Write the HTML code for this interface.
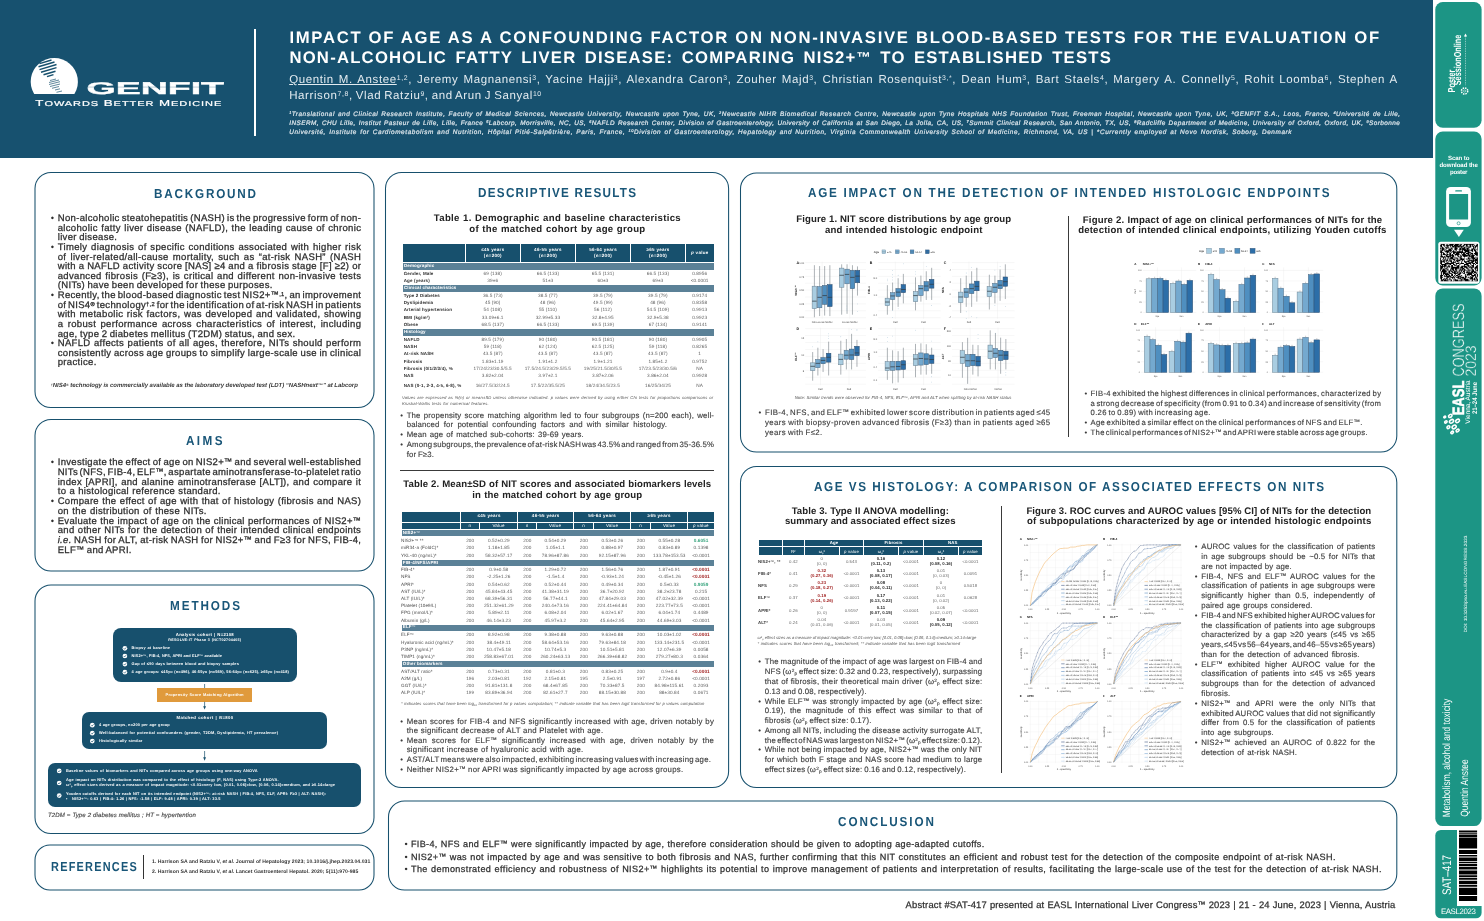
<!DOCTYPE html>
<html lang="en">
<head>
<meta charset="utf-8">
<title>Impact of age as a confounding factor on non-invasive blood-based tests for the evaluation of NAFLD</title>
<style>
html,body{margin:0;padding:0;background:#fff}
body{width:1484px;height:921px;position:relative;overflow:hidden;font-family:"Liberation Sans",sans-serif;color:#333;-webkit-font-smoothing:antialiased;text-rendering:geometricPrecision}
div{box-sizing:content-box}
sup,sub{font-size:60%;line-height:0;position:relative;vertical-align:baseline}
sup{top:-0.42em}
sub{top:0.22em}
.tm{font-size:85%;line-height:0;position:relative;top:-0.08em}
svg{overflow:visible}
svg text{font-family:"Liberation Sans",sans-serif}
</style>
</head>
<body>
<!-- part_header -->
<div style="position:absolute;left:0;top:0;width:1433px;height:157.5px;background:#17516f"></div>
<svg style="position:absolute;left:20px;top:45px" width="220" height="70" viewBox="20 45 220 70">
<path d="M34.22 94 A23.6 23.6 0 1 1 74.38 94Z" fill="#fff"/>
<g stroke="#17506d" stroke-width="1.5" stroke-linecap="butt">
<line x1="39.5" y1="63.6" x2="51.5" y2="60.0"/>
<line x1="38.5" y1="66.8" x2="54.5" y2="62.0"/>
<line x1="39.5" y1="69.6" x2="56.5" y2="64.5"/>
<line x1="41.0" y1="72.3" x2="56.5" y2="67.6"/>
<line x1="43.5" y1="74.8" x2="55.5" y2="71.2"/>
<line x1="47.0" y1="76.6" x2="53.5" y2="74.6"/>
</g>
<g stroke="#17506d" stroke-width="0.8" opacity="0.85">
<line x1="50" y1="80.5" x2="56" y2="79"/>
<line x1="49" y1="82.5" x2="59" y2="80"/>
<line x1="49" y1="84.5" x2="60" y2="81.7"/>
<line x1="50" y1="86.5" x2="60" y2="84"/>
<line x1="52" y1="88.3" x2="59" y2="86.5"/>
<line x1="55" y1="90" x2="60" y2="88.8"/>
<line x1="56.5" y1="92.3" x2="62" y2="91"/>
</g>
<text x="86.5" y="94.1" font-family="'Liberation Sans',sans-serif" font-weight="bold" font-size="17" fill="#fff" stroke="#fff" stroke-width="0.35" textLength="137.5" lengthAdjust="spacingAndGlyphs">GENFIT</text>
<rect x="88" y="86.7" width="134" height="0.7" fill="#17506d" opacity="0.4"/>
<text x="35.3" y="105.6" font-family="'Liberation Sans',sans-serif" font-size="8.6" fill="#fff" stroke="#fff" stroke-width="0.2" textLength="187" lengthAdjust="spacingAndGlyphs" letter-spacing="0.6">T<tspan font-size="7.1">OWARDS</tspan> B<tspan font-size="7.1">ETTER</tspan> M<tspan font-size="7.1">EDICINE</tspan></text>
</svg>
<div style="position:absolute;left:254.3px;top:28.5px;width:1.5px;height:107px;background:#fff"></div>
<div style="position:absolute;white-space:nowrap;left:289.40px;top:28.00px;font-size:16.7px;line-height:20.04px;font-weight:bold;color:#fff;letter-spacing:1.691px">IMPACT OF AGE AS A CONFOUNDING FACTOR ON NON-INVASIVE BLOOD-BASED TESTS FOR THE EVALUATION OF</div>
<div style="position:absolute;white-space:nowrap;left:289.40px;top:48.00px;font-size:16.7px;line-height:20.04px;font-weight:bold;color:#fff;letter-spacing:1.224px;word-spacing:2.448px">NON-ALCOHOLIC FATTY LIVER DISEASE: COMPARING NIS2+<span class="tm">™</span> TO ESTABLISHED TESTS</div>
<div style="position:absolute;white-space:nowrap;left:289.20px;top:74.00px;font-size:11.5px;line-height:13.8px;color:#e3ebf0;letter-spacing:0.604px;word-spacing:1.328px"><u>Quentin M. Anstee</u><sup>1,2</sup>, Jeremy Magnanensi<sup>3</sup>, Yacine Hajji<sup>3</sup>, Alexandra Caron<sup>3</sup>, Zouher Majd<sup>3</sup>, Christian Rosenquist<sup>3,*</sup>, Dean Hum<sup>3</sup>, Bart Staels<sup>4</sup>, Margery A. Connelly<sup>5</sup>, Rohit Loomba<sup>6</sup>, Stephen A</div>
<div style="position:absolute;white-space:nowrap;left:289.20px;top:90.00px;font-size:11.5px;line-height:13.8px;color:#e3ebf0;letter-spacing:0.604px;word-spacing:-0.776px">Harrison<sup>7,8</sup>, Vlad Ratziu<sup>9</sup>, and Arun J Sanyal<sup>10</sup></div>
<div style="position:absolute;white-space:nowrap;left:289.20px;top:111.00px;font-size:6.4px;line-height:7.68px;font-style:italic;color:#dbe5eb;letter-spacing:0.532px;word-spacing:0.797px;-webkit-text-stroke:0.22px #dbe5eb"><sup>1</sup>Translational and Clinical Research Institute, Faculty of Medical Sciences, Newcastle University, Newcastle upon Tyne, UK, <sup>2</sup>Newcastle NIHR Biomedical Research Centre, Newcastle upon Tyne Hospitals NHS Foundation Trust, Freeman Hospital, Newcastle upon Tyne, UK, <sup>3</sup>GENFIT S.A., Loos, France, <sup>4</sup>Université de Lille,</div>
<div style="position:absolute;white-space:nowrap;left:289.20px;top:120.00px;font-size:6.4px;line-height:7.68px;font-style:italic;color:#dbe5eb;letter-spacing:0.452px;word-spacing:0.678px;-webkit-text-stroke:0.22px #dbe5eb">INSERM, CHU Lille, Institut Pasteur de Lille, Lille, France <sup>5</sup>Labcorp, Morrisville, NC, US, <sup>6</sup>NAFLD Research Center, Division of Gastroenterology, University of California at San Diego, La Jolla, CA, US, <sup>7</sup>Summit Clinical Research, San Antonio, TX, US, <sup>8</sup>Radcliffe Department of Medicine, University of Oxford, Oxford, UK, <sup>9</sup>Sorbonne</div>
<div style="position:absolute;white-space:nowrap;left:289.20px;top:129.00px;font-size:6.4px;line-height:7.68px;font-style:italic;color:#dbe5eb;letter-spacing:0.598px;word-spacing:0.897px;-webkit-text-stroke:0.22px #dbe5eb">Université, Institute for Cardiometabolism and Nutrition, Hôpital Pitié-Salpêtrière, Paris, France, <sup>10</sup>Division of Gastroenterology, Hepatology and Nutrition, Virginia Commonwealth University School of Medicine, Richmond, VA, US | *Currently employed at Novo Nordisk, Soborg, Denmark</div>
<!-- part_side -->
<svg style="position:absolute;left:0;top:0" width="1484" height="921" viewBox="0 0 1484 921"><rect x="1435.3" y="2.1" width="46.3" height="125.7" rx="7.5" fill="#1c9585"/></svg>
<svg style="position:absolute;left:0;top:0" width="1484" height="921" viewBox="0 0 1484 921"><rect x="1435.3" y="131.5" width="46.3" height="154.0" rx="7.5" fill="#1c9585"/></svg>
<svg style="position:absolute;left:0;top:0" width="1484" height="921" viewBox="0 0 1484 921"><rect x="1435.3" y="288.4" width="46.3" height="537.7" rx="7.5" fill="#1c9585"/></svg>
<svg style="position:absolute;left:0;top:0" width="1484" height="921" viewBox="0 0 1484 921"><rect x="1435.3" y="830.0" width="46.3" height="88.3" rx="5.5" fill="#1c9585"/></svg>
<div style="position:absolute;left:1452.9px;top:81.2px;font-size:10.0px;line-height:1;white-space:nowrap;color:#fff;transform:translate(-50%,-50%) rotate(-90deg) scaleX(0.7390);font-weight:bold">Poster</div>
<div style="position:absolute;left:1458.6px;top:60.2px;font-size:10.0px;line-height:1;white-space:nowrap;color:#fff;transform:translate(-50%,-50%) rotate(-90deg) scaleX(0.7270);font-weight:bold">SessionOnline</div>
<svg style="position:absolute;left:1459px;top:32px" width="12" height="66" viewBox="0 0 12 66"><line x1="6.5" y1="4" x2="6.5" y2="53.5" stroke="#fff" stroke-width="0.6" stroke-dasharray="0.8 0.9"/><path d="M6.5 1.6 L8.1 4.6 L4.9 4.6Z" fill="#fff"/><circle cx="5.6" cy="59" r="3.1" fill="none" stroke="#fff" stroke-width="1.5" stroke-dasharray="1.5 0.95"/><circle cx="5.6" cy="59" r="1.1" fill="none" stroke="#fff" stroke-width="0.5"/></svg>
<div style="position:absolute;white-space:nowrap;left:1447.95px;top:155.00px;font-size:6.1px;line-height:7.32px;font-weight:bold;color:#fff;letter-spacing:-0.089px">Scan to</div>
<div style="position:absolute;white-space:nowrap;left:1439.45px;top:162.00px;font-size:6.1px;line-height:7.32px;font-weight:bold;color:#fff;letter-spacing:-0.073px">download the</div>
<div style="position:absolute;white-space:nowrap;left:1449.95px;top:169.00px;font-size:6.1px;line-height:7.32px;font-weight:bold;color:#fff;letter-spacing:-0.229px">poster</div>
<svg style="position:absolute;left:1436px;top:170px" width="46" height="116" viewBox="1436 170 46 116">
<rect x="1446.1" y="186.9" width="24.8" height="40.2" rx="4.6" fill="#fff"/>
<rect x="1449.1" y="194" width="19" height="25.5" fill="#1c9585"/>
<rect x="1455.2" y="190.2" width="6.8" height="1.3" rx="0.6" fill="#1c9585"/>
<circle cx="1458.6" cy="223.3" r="1.5" fill="none" stroke="#1c9585" stroke-width="0.7"/>
<path d="M1454 229.8 L1463.8 229.8 L1458.9 236.9Z" fill="#fff"/>
<rect x="1438.3" y="241.7" width="41.2" height="42" rx="2.6" fill="#fff"/>
<rect x="1440.2" y="243.9" width="37.7" height="37.4" fill="#000"/>
<path fill="#fff" d="M1440.20 243.90h0.91v0.91h-0.91zM1444.77 243.90h1.83v0.91h-1.83zM1447.52 243.90h1.83v0.91h-1.83zM1453.92 243.90h0.91v0.91h-0.91zM1459.41 243.90h0.91v0.91h-0.91zM1462.15 243.90h1.83v0.91h-1.83zM1474.04 243.90h2.74v0.91h-2.74zM1442.03 244.81h0.91v0.91h-0.91zM1444.77 244.81h0.91v0.91h-0.91zM1453.00 244.81h0.91v0.91h-0.91zM1458.49 244.81h0.91v0.91h-0.91zM1461.24 244.81h1.83v0.91h-1.83zM1464.90 244.81h0.91v0.91h-0.91zM1467.64 244.81h1.83v0.91h-1.83zM1471.30 244.81h0.91v0.91h-0.91zM1473.13 244.81h0.91v0.91h-0.91zM1474.96 244.81h0.91v0.91h-0.91zM1442.03 245.73h1.83v0.91h-1.83zM1444.77 245.73h1.83v0.91h-1.83zM1448.43 245.73h1.83v0.91h-1.83zM1451.18 245.73h0.91v0.91h-0.91zM1463.98 245.73h1.83v0.91h-1.83zM1468.55 245.73h0.91v0.91h-0.91zM1471.30 245.73h0.91v0.91h-0.91zM1474.04 245.73h0.91v0.91h-0.91zM1440.20 246.64h0.91v0.91h-0.91zM1442.94 246.64h1.83v0.91h-1.83zM1446.60 246.64h0.91v0.91h-0.91zM1449.35 246.64h0.91v0.91h-0.91zM1451.18 246.64h0.91v0.91h-0.91zM1453.92 246.64h0.91v0.91h-0.91zM1456.66 246.64h0.91v0.91h-0.91zM1459.41 246.64h1.83v0.91h-1.83zM1462.15 246.64h1.83v0.91h-1.83zM1465.81 246.64h2.74v0.91h-2.74zM1471.30 246.64h1.83v0.91h-1.83zM1475.87 246.64h1.83v0.91h-1.83zM1441.11 247.56h0.91v0.91h-0.91zM1443.86 247.56h1.83v0.91h-1.83zM1448.43 247.56h2.74v0.91h-2.74zM1452.09 247.56h1.83v0.91h-1.83zM1457.58 247.56h1.83v0.91h-1.83zM1464.90 247.56h0.91v0.91h-0.91zM1469.47 247.56h3.66v0.91h-3.66zM1474.04 247.56h0.91v0.91h-0.91zM1475.87 247.56h0.91v0.91h-0.91zM1444.77 248.47h0.91v0.91h-0.91zM1446.60 248.47h1.83v0.91h-1.83zM1453.00 248.47h1.83v0.91h-1.83zM1457.58 248.47h1.83v0.91h-1.83zM1461.24 248.47h0.91v0.91h-0.91zM1465.81 248.47h0.91v0.91h-0.91zM1468.55 248.47h2.74v0.91h-2.74zM1474.96 248.47h2.74v0.91h-2.74zM1440.20 249.39h1.83v0.91h-1.83zM1443.86 249.39h0.91v0.91h-0.91zM1445.69 249.39h2.74v0.91h-2.74zM1451.18 249.39h2.74v0.91h-2.74zM1456.66 249.39h1.83v0.91h-1.83zM1470.38 249.39h0.91v0.91h-0.91zM1473.13 249.39h0.91v0.91h-0.91zM1442.94 250.30h0.91v0.91h-0.91zM1444.77 250.30h0.91v0.91h-0.91zM1452.09 250.30h0.91v0.91h-0.91zM1453.92 250.30h1.83v0.91h-1.83zM1456.66 250.30h2.74v0.91h-2.74zM1460.32 250.30h1.83v0.91h-1.83zM1463.07 250.30h0.91v0.91h-0.91zM1469.47 250.30h0.91v0.91h-0.91zM1473.13 250.30h0.91v0.91h-0.91zM1475.87 250.30h1.83v0.91h-1.83zM1442.03 251.22h2.74v0.91h-2.74zM1449.35 251.22h0.91v0.91h-0.91zM1451.18 251.22h0.91v0.91h-0.91zM1455.75 251.22h0.91v0.91h-0.91zM1463.07 251.22h1.83v0.91h-1.83zM1469.47 251.22h2.74v0.91h-2.74zM1473.13 251.22h1.83v0.91h-1.83zM1476.79 251.22h0.91v0.91h-0.91zM1443.86 252.13h2.74v0.91h-2.74zM1448.43 252.13h0.91v0.91h-0.91zM1450.26 252.13h0.91v0.91h-0.91zM1452.09 252.13h0.91v0.91h-0.91zM1465.81 252.13h1.83v0.91h-1.83zM1471.30 252.13h3.66v0.91h-3.66zM1440.20 253.05h0.91v0.91h-0.91zM1442.03 253.05h0.91v0.91h-0.91zM1444.77 253.05h1.83v0.91h-1.83zM1447.52 253.05h1.83v0.91h-1.83zM1451.18 253.05h1.83v0.91h-1.83zM1454.83 253.05h0.91v0.91h-0.91zM1459.41 253.05h1.83v0.91h-1.83zM1462.15 253.05h0.91v0.91h-0.91zM1464.90 253.05h0.91v0.91h-0.91zM1469.47 253.05h0.91v0.91h-0.91zM1473.13 253.05h0.91v0.91h-0.91zM1440.20 253.96h0.91v0.91h-0.91zM1442.03 253.96h0.91v0.91h-0.91zM1445.69 253.96h0.91v0.91h-0.91zM1448.43 253.96h0.91v0.91h-0.91zM1451.18 253.96h0.91v0.91h-0.91zM1453.00 253.96h1.83v0.91h-1.83zM1459.41 253.96h2.74v0.91h-2.74zM1465.81 253.96h1.83v0.91h-1.83zM1469.47 253.96h0.91v0.91h-0.91zM1471.30 253.96h0.91v0.91h-0.91zM1473.13 253.96h1.83v0.91h-1.83zM1440.20 254.88h0.91v0.91h-0.91zM1442.03 254.88h3.66v0.91h-3.66zM1447.52 254.88h1.83v0.91h-1.83zM1453.92 254.88h0.91v0.91h-0.91zM1455.75 254.88h0.91v0.91h-0.91zM1458.49 254.88h1.83v0.91h-1.83zM1461.24 254.88h0.91v0.91h-0.91zM1470.38 254.88h0.91v0.91h-0.91zM1474.96 254.88h0.91v0.91h-0.91zM1442.94 255.79h0.91v0.91h-0.91zM1444.77 255.79h0.91v0.91h-0.91zM1451.18 255.79h0.91v0.91h-0.91zM1453.92 255.79h3.66v0.91h-3.66zM1459.41 255.79h0.91v0.91h-0.91zM1462.15 255.79h0.91v0.91h-0.91zM1467.64 255.79h0.91v0.91h-0.91zM1474.04 255.79h3.66v0.91h-3.66zM1440.20 256.70h0.91v0.91h-0.91zM1445.69 256.70h0.91v0.91h-0.91zM1449.35 256.70h0.91v0.91h-0.91zM1455.75 256.70h2.74v0.91h-2.74zM1459.41 256.70h0.91v0.91h-0.91zM1461.24 256.70h2.74v0.91h-2.74zM1464.90 256.70h3.66v0.91h-3.66zM1469.47 256.70h1.83v0.91h-1.83zM1474.04 256.70h0.91v0.91h-0.91zM1476.79 256.70h0.91v0.91h-0.91zM1441.11 257.62h1.83v0.91h-1.83zM1443.86 257.62h0.91v0.91h-0.91zM1445.69 257.62h2.74v0.91h-2.74zM1449.35 257.62h0.91v0.91h-0.91zM1453.00 257.62h2.74v0.91h-2.74zM1457.58 257.62h1.83v0.91h-1.83zM1462.15 257.62h5.49v0.91h-5.49zM1469.47 257.62h0.91v0.91h-0.91zM1474.96 257.62h1.83v0.91h-1.83zM1441.11 258.53h1.83v0.91h-1.83zM1443.86 258.53h0.91v0.91h-0.91zM1445.69 258.53h0.91v0.91h-0.91zM1448.43 258.53h0.91v0.91h-0.91zM1455.75 258.53h0.91v0.91h-0.91zM1458.49 258.53h1.83v0.91h-1.83zM1464.90 258.53h0.91v0.91h-0.91zM1466.72 258.53h0.91v0.91h-0.91zM1470.38 258.53h1.83v0.91h-1.83zM1441.11 259.45h0.91v0.91h-0.91zM1442.94 259.45h0.91v0.91h-0.91zM1445.69 259.45h0.91v0.91h-0.91zM1447.52 259.45h1.83v0.91h-1.83zM1450.26 259.45h2.74v0.91h-2.74zM1454.83 259.45h1.83v0.91h-1.83zM1457.58 259.45h0.91v0.91h-0.91zM1463.98 259.45h2.74v0.91h-2.74zM1467.64 259.45h1.83v0.91h-1.83zM1470.38 259.45h0.91v0.91h-0.91zM1472.21 259.45h0.91v0.91h-0.91zM1474.04 259.45h0.91v0.91h-0.91zM1442.03 260.36h0.91v0.91h-0.91zM1444.77 260.36h0.91v0.91h-0.91zM1448.43 260.36h0.91v0.91h-0.91zM1452.09 260.36h1.83v0.91h-1.83zM1454.83 260.36h0.91v0.91h-0.91zM1460.32 260.36h1.83v0.91h-1.83zM1463.07 260.36h0.91v0.91h-0.91zM1464.90 260.36h2.74v0.91h-2.74zM1444.77 261.28h0.91v0.91h-0.91zM1446.60 261.28h1.83v0.91h-1.83zM1449.35 261.28h0.91v0.91h-0.91zM1452.09 261.28h0.91v0.91h-0.91zM1453.92 261.28h0.91v0.91h-0.91zM1455.75 261.28h0.91v0.91h-0.91zM1458.49 261.28h2.74v0.91h-2.74zM1462.15 261.28h1.83v0.91h-1.83zM1469.47 261.28h1.83v0.91h-1.83zM1474.04 261.28h0.91v0.91h-0.91zM1475.87 261.28h0.91v0.91h-0.91zM1442.03 262.19h1.83v0.91h-1.83zM1444.77 262.19h1.83v0.91h-1.83zM1448.43 262.19h2.74v0.91h-2.74zM1455.75 262.19h2.74v0.91h-2.74zM1459.41 262.19h1.83v0.91h-1.83zM1462.15 262.19h2.74v0.91h-2.74zM1466.72 262.19h1.83v0.91h-1.83zM1473.13 262.19h1.83v0.91h-1.83zM1442.03 263.11h2.74v0.91h-2.74zM1453.92 263.11h1.83v0.91h-1.83zM1459.41 263.11h0.91v0.91h-0.91zM1463.98 263.11h1.83v0.91h-1.83zM1471.30 263.11h0.91v0.91h-0.91zM1474.96 263.11h0.91v0.91h-0.91zM1440.20 264.02h0.91v0.91h-0.91zM1446.60 264.02h0.91v0.91h-0.91zM1448.43 264.02h0.91v0.91h-0.91zM1451.18 264.02h1.83v0.91h-1.83zM1454.83 264.02h0.91v0.91h-0.91zM1456.66 264.02h2.74v0.91h-2.74zM1460.32 264.02h3.66v0.91h-3.66zM1468.55 264.02h1.83v0.91h-1.83zM1471.30 264.02h1.83v0.91h-1.83zM1474.04 264.02h0.91v0.91h-0.91zM1475.87 264.02h1.83v0.91h-1.83zM1441.11 264.94h0.91v0.91h-0.91zM1442.94 264.94h0.91v0.91h-0.91zM1446.60 264.94h1.83v0.91h-1.83zM1449.35 264.94h1.83v0.91h-1.83zM1453.00 264.94h0.91v0.91h-0.91zM1456.66 264.94h0.91v0.91h-0.91zM1459.41 264.94h4.57v0.91h-4.57zM1464.90 264.94h1.83v0.91h-1.83zM1469.47 264.94h1.83v0.91h-1.83zM1474.04 264.94h2.74v0.91h-2.74zM1446.60 265.85h0.91v0.91h-0.91zM1450.26 265.85h0.91v0.91h-0.91zM1453.00 265.85h3.66v0.91h-3.66zM1459.41 265.85h1.83v0.91h-1.83zM1466.72 265.85h0.91v0.91h-0.91zM1469.47 265.85h0.91v0.91h-0.91zM1471.30 265.85h0.91v0.91h-0.91zM1474.04 265.85h1.83v0.91h-1.83zM1442.94 266.77h0.91v0.91h-0.91zM1444.77 266.77h1.83v0.91h-1.83zM1448.43 266.77h0.91v0.91h-0.91zM1450.26 266.77h0.91v0.91h-0.91zM1459.41 266.77h0.91v0.91h-0.91zM1463.07 266.77h0.91v0.91h-0.91zM1467.64 266.77h0.91v0.91h-0.91zM1474.04 266.77h0.91v0.91h-0.91zM1442.94 267.68h1.83v0.91h-1.83zM1446.60 267.68h4.57v0.91h-4.57zM1459.41 267.68h0.91v0.91h-0.91zM1463.98 267.68h1.83v0.91h-1.83zM1467.64 267.68h3.66v0.91h-3.66zM1472.21 267.68h1.83v0.91h-1.83zM1442.03 268.60h0.91v0.91h-0.91zM1444.77 268.60h0.91v0.91h-0.91zM1448.43 268.60h1.83v0.91h-1.83zM1453.92 268.60h0.91v0.91h-0.91zM1457.58 268.60h0.91v0.91h-0.91zM1459.41 268.60h0.91v0.91h-0.91zM1461.24 268.60h0.91v0.91h-0.91zM1464.90 268.60h1.83v0.91h-1.83zM1469.47 268.60h0.91v0.91h-0.91zM1473.13 268.60h1.83v0.91h-1.83zM1475.87 268.60h0.91v0.91h-0.91zM1441.11 269.51h0.91v0.91h-0.91zM1445.69 269.51h1.83v0.91h-1.83zM1448.43 269.51h1.83v0.91h-1.83zM1451.18 269.51h0.91v0.91h-0.91zM1453.92 269.51h0.91v0.91h-0.91zM1456.66 269.51h2.74v0.91h-2.74zM1463.07 269.51h0.91v0.91h-0.91zM1465.81 269.51h2.74v0.91h-2.74zM1469.47 269.51h2.74v0.91h-2.74zM1474.04 269.51h0.91v0.91h-0.91zM1475.87 269.51h0.91v0.91h-0.91zM1441.11 270.42h0.91v0.91h-0.91zM1447.52 270.42h0.91v0.91h-0.91zM1452.09 270.42h0.91v0.91h-0.91zM1454.83 270.42h0.91v0.91h-0.91zM1457.58 270.42h0.91v0.91h-0.91zM1460.32 270.42h0.91v0.91h-0.91zM1462.15 270.42h0.91v0.91h-0.91zM1464.90 270.42h0.91v0.91h-0.91zM1474.04 270.42h1.83v0.91h-1.83zM1440.20 271.34h0.91v0.91h-0.91zM1446.60 271.34h1.83v0.91h-1.83zM1450.26 271.34h0.91v0.91h-0.91zM1453.00 271.34h0.91v0.91h-0.91zM1456.66 271.34h0.91v0.91h-0.91zM1458.49 271.34h0.91v0.91h-0.91zM1460.32 271.34h0.91v0.91h-0.91zM1462.15 271.34h0.91v0.91h-0.91zM1464.90 271.34h1.83v0.91h-1.83zM1467.64 271.34h0.91v0.91h-0.91zM1469.47 271.34h1.83v0.91h-1.83zM1475.87 271.34h1.83v0.91h-1.83zM1440.20 272.25h0.91v0.91h-0.91zM1442.03 272.25h0.91v0.91h-0.91zM1445.69 272.25h0.91v0.91h-0.91zM1447.52 272.25h0.91v0.91h-0.91zM1450.26 272.25h1.83v0.91h-1.83zM1455.75 272.25h0.91v0.91h-0.91zM1458.49 272.25h0.91v0.91h-0.91zM1461.24 272.25h0.91v0.91h-0.91zM1463.07 272.25h0.91v0.91h-0.91zM1464.90 272.25h0.91v0.91h-0.91zM1473.13 272.25h0.91v0.91h-0.91zM1476.79 272.25h0.91v0.91h-0.91zM1440.20 273.17h0.91v0.91h-0.91zM1442.03 273.17h0.91v0.91h-0.91zM1448.43 273.17h0.91v0.91h-0.91zM1452.09 273.17h1.83v0.91h-1.83zM1457.58 273.17h0.91v0.91h-0.91zM1461.24 273.17h1.83v0.91h-1.83zM1464.90 273.17h2.74v0.91h-2.74zM1472.21 273.17h0.91v0.91h-0.91zM1474.04 273.17h1.83v0.91h-1.83zM1476.79 273.17h0.91v0.91h-0.91zM1440.20 274.08h0.91v0.91h-0.91zM1442.03 274.08h0.91v0.91h-0.91zM1443.86 274.08h0.91v0.91h-0.91zM1449.35 274.08h1.83v0.91h-1.83zM1453.00 274.08h1.83v0.91h-1.83zM1455.75 274.08h1.83v0.91h-1.83zM1460.32 274.08h4.57v0.91h-4.57zM1465.81 274.08h0.91v0.91h-0.91zM1472.21 274.08h1.83v0.91h-1.83zM1475.87 274.08h0.91v0.91h-0.91zM1442.94 275.00h0.91v0.91h-0.91zM1444.77 275.00h0.91v0.91h-0.91zM1447.52 275.00h0.91v0.91h-0.91zM1450.26 275.00h0.91v0.91h-0.91zM1453.00 275.00h0.91v0.91h-0.91zM1454.83 275.00h0.91v0.91h-0.91zM1458.49 275.00h0.91v0.91h-0.91zM1460.32 275.00h0.91v0.91h-0.91zM1462.15 275.00h2.74v0.91h-2.74zM1465.81 275.00h0.91v0.91h-0.91zM1467.64 275.00h0.91v0.91h-0.91zM1469.47 275.00h1.83v0.91h-1.83zM1475.87 275.00h0.91v0.91h-0.91zM1442.03 275.91h1.83v0.91h-1.83zM1451.18 275.91h1.83v0.91h-1.83zM1453.92 275.91h0.91v0.91h-0.91zM1455.75 275.91h1.83v0.91h-1.83zM1461.24 275.91h3.66v0.91h-3.66zM1466.72 275.91h3.66v0.91h-3.66zM1471.30 275.91h0.91v0.91h-0.91zM1474.04 275.91h0.91v0.91h-0.91zM1475.87 275.91h0.91v0.91h-0.91zM1442.94 276.83h3.66v0.91h-3.66zM1449.35 276.83h0.91v0.91h-0.91zM1454.83 276.83h0.91v0.91h-0.91zM1459.41 276.83h0.91v0.91h-0.91zM1463.98 276.83h0.91v0.91h-0.91zM1466.72 276.83h0.91v0.91h-0.91zM1469.47 276.83h0.91v0.91h-0.91zM1473.13 276.83h1.83v0.91h-1.83zM1476.79 276.83h0.91v0.91h-0.91zM1442.03 277.74h1.83v0.91h-1.83zM1444.77 277.74h0.91v0.91h-0.91zM1447.52 277.74h1.83v0.91h-1.83zM1450.26 277.74h1.83v0.91h-1.83zM1453.00 277.74h0.91v0.91h-0.91zM1454.83 277.74h2.74v0.91h-2.74zM1461.24 277.74h0.91v0.91h-0.91zM1465.81 277.74h3.66v0.91h-3.66zM1473.13 277.74h0.91v0.91h-0.91zM1474.96 277.74h0.91v0.91h-0.91zM1476.79 277.74h0.91v0.91h-0.91zM1440.20 278.66h0.91v0.91h-0.91zM1442.03 278.66h0.91v0.91h-0.91zM1443.86 278.66h0.91v0.91h-0.91zM1445.69 278.66h0.91v0.91h-0.91zM1448.43 278.66h0.91v0.91h-0.91zM1451.18 278.66h1.83v0.91h-1.83zM1453.92 278.66h0.91v0.91h-0.91zM1455.75 278.66h4.57v0.91h-4.57zM1462.15 278.66h1.83v0.91h-1.83zM1468.55 278.66h1.83v0.91h-1.83zM1440.20 279.57h0.91v0.91h-0.91zM1446.60 279.57h0.91v0.91h-0.91zM1448.43 279.57h0.91v0.91h-0.91zM1450.26 279.57h0.91v0.91h-0.91zM1452.09 279.57h1.83v0.91h-1.83zM1458.49 279.57h0.91v0.91h-0.91zM1460.32 279.57h0.91v0.91h-0.91zM1468.55 279.57h0.91v0.91h-0.91zM1470.38 279.57h1.83v0.91h-1.83zM1473.13 279.57h0.91v0.91h-0.91zM1474.96 279.57h1.83v0.91h-1.83zM1440.20 280.49h0.91v0.91h-0.91zM1442.94 280.49h0.91v0.91h-0.91zM1448.43 280.49h1.83v0.91h-1.83zM1452.09 280.49h0.91v0.91h-0.91zM1453.92 280.49h0.91v0.91h-0.91zM1458.49 280.49h0.91v0.91h-0.91zM1462.15 280.49h2.74v0.91h-2.74zM1469.47 280.49h1.83v0.91h-1.83zM1473.13 280.49h1.83v0.91h-1.83z"/>
</svg>
<div style="position:absolute;left:1459.0px;top:398.2px;font-size:16.4px;line-height:1;white-space:nowrap;color:#fff;transform:translate(-50%,-50%) rotate(-90deg) scaleX(0.7933);font-weight:bold;-webkit-text-stroke:0.5px #fff">EASL</div>
<div style="position:absolute;left:1459.0px;top:339.6px;font-size:16.4px;line-height:1;white-space:nowrap;color:#fff;transform:translate(-50%,-50%) rotate(-90deg) scaleX(0.7799);-webkit-text-stroke:0.4px #1c9585">CONGRESS</div>
<div style="position:absolute;left:1472.3px;top:360.6px;font-size:15.2px;line-height:1;white-space:nowrap;color:#fff;transform:translate(-50%,-50%) rotate(-90deg) scaleX(0.9227);-webkit-text-stroke:0.4px #1c9585">2023</div>
<div style="position:absolute;left:1469.0px;top:402.3px;font-size:6.7px;line-height:1;white-space:nowrap;color:#fff;transform:translate(-50%,-50%) rotate(-90deg) scaleX(0.9656)">Vienna, Austria</div>
<div style="position:absolute;left:1475.6px;top:397.5px;font-size:6.7px;line-height:1;white-space:nowrap;color:#fff;transform:translate(-50%,-50%) rotate(-90deg) scaleX(0.8912);font-weight:bold">21–24 June</div>
<svg style="position:absolute;left:1438.6px;top:413.6px" width="23" height="23" viewBox="0 0 22 22"><g fill="none" stroke="#fff" stroke-width="1.5">
<ellipse cx="5.5" cy="2.8" rx="1.0" ry="0.7" transform="rotate(-35 5.5 2.8)"/><ellipse cx="10.8" cy="1.8" rx="1.8" ry="1.3" transform="rotate(-35 10.8 1.8)"/>
<ellipse cx="6.6" cy="7.6" rx="1.3" ry="0.9" transform="rotate(-35 6.6 7.6)"/><ellipse cx="12.0" cy="7.0" rx="2.1" ry="1.5" transform="rotate(-35 12 7)"/><ellipse cx="17.8" cy="6.6" rx="2.0" ry="1.4" transform="rotate(-35 17.8 6.6)"/>
<ellipse cx="9.0" cy="12.6" rx="1.5" ry="1.1" transform="rotate(-35 9 12.6)"/><ellipse cx="14.5" cy="12.4" rx="2.1" ry="1.5" transform="rotate(-35 14.5 12.4)"/>
<ellipse cx="12.6" cy="17.6" rx="1.4" ry="1.0" transform="rotate(-35 12.6 17.6)"/><ellipse cx="17.8" cy="15.8" rx="1.6" ry="1.1" transform="rotate(-35 17.8 15.8)"/></g></svg>
<div style="position:absolute;left:1466.3px;top:584.0px;font-size:4.5px;line-height:1;white-space:nowrap;color:#fff;transform:translate(-50%,-50%) rotate(-90deg) scaleX(1.0624)">DOI: 10.3252/pso.eu.EASLCONGRESS.2023</div>
<div style="position:absolute;left:1447.4px;top:757.7px;font-size:10.5px;line-height:1;white-space:nowrap;color:#fff;transform:translate(-50%,-50%) rotate(-90deg) scaleX(0.7994)">Metabolism, alcohol and toxicity</div>
<div style="position:absolute;left:1465.2px;top:788.3px;font-size:10.5px;line-height:1;white-space:nowrap;color:#fff;transform:translate(-50%,-50%) rotate(-90deg) scaleX(0.7994)">Quentin Anstee</div>
<div style="position:absolute;left:1446.8px;top:874.9px;font-size:12.4px;line-height:1;white-space:nowrap;color:#fff;transform:translate(-50%,-50%) rotate(-90deg) scaleX(0.7877)">SAT–417</div>
<div style="position:absolute;left:1456.5px;top:827.5px;width:28px;height:78.3px;background:#fff"></div>
<svg style="position:absolute;left:0;top:0" width="1484" height="921" viewBox="0 0 1484 921"><path fill="#000" d="M1459 830.51h18.1v1.95h-18.1zM1459 833.15h18.1v1.27h-18.1zM1459 835.10h18.1v2.25h-18.1zM1459 837.84h18.1v10.75h-18.1zM1459 850.06h18.1v3.91h-18.1zM1459 854.94h18.1v1.66h-18.1zM1459 857.39h18.1v3.91h-18.1zM1459 862.08h18.1v1.17h-18.1zM1459 864.03h18.1v2.15h-18.1zM1459 866.96h18.1v2.64h-18.1zM1459 870.58h18.1v3.91h-18.1zM1459 875.17h18.1v1.76h-18.1zM1459 877.71h18.1v2.15h-18.1zM1459 880.84h18.1v3.42h-18.1zM1459 884.94h18.1v1.76h-18.1zM1459 887.68h18.1v7.33h-18.1zM1459 895.99h18.1v4.89h-18.1z"/></svg>
<div style="position:absolute;white-space:nowrap;left:1440.90px;top:907.00px;font-size:7.9px;line-height:9.48px;color:#fff;letter-spacing:-0.397px">EASL2023</div>
<!-- part_panels -->
<svg style="position:absolute;left:0;top:0" width="1484" height="921" viewBox="0 0 1484 921"><g fill="#fff" stroke="#17506d" stroke-width="1.05"><rect x="35.0" y="172.5" width="339.0" height="235.0" rx="16.0"/><rect x="35.0" y="419.5" width="339.0" height="151.5" rx="16.0"/><rect x="35.0" y="585.0" width="339.0" height="248.5" rx="16.0"/><rect x="35.0" y="845.0" width="339.0" height="45.0" rx="15.0"/><rect x="385.5" y="172.5" width="343.1" height="615.0" rx="16.0"/><rect x="740.5" y="173.0" width="656.3" height="279.0" rx="16.0"/><rect x="740.5" y="466.5" width="656.3" height="321.0" rx="16.0"/><rect x="388.5" y="801.0" width="1008.3" height="89.0" rx="16.0"/></g></svg>
<!-- part_left -->
<div style="position:absolute;white-space:nowrap;left:153.70px;top:186.00px;font-size:13.0px;line-height:15.6px;font-weight:bold;color:#195678;letter-spacing:2.000px;transform:scaleX(0.9);transform-origin:0 50%">BACKGROUND</div>
<div style="position:absolute;white-space:nowrap;left:57.70px;top:213.00px;font-size:9.5px;line-height:11.4px;color:#2f2f2f;letter-spacing:0.344px;word-spacing:-0.948px;-webkit-text-stroke:0.28px #2f2f2f">Non-alcoholic steatohepatitis (NASH) is the progressive form of non-</div>
<div style="position:absolute;white-space:nowrap;left:50.80px;top:213.00px;font-size:9.5px;line-height:11.4px;color:#2f2f2f">•</div>
<div style="position:absolute;white-space:nowrap;left:57.70px;top:223.00px;font-size:9.5px;line-height:11.4px;color:#2f2f2f;letter-spacing:0.344px;word-spacing:0.426px;-webkit-text-stroke:0.28px #2f2f2f">alcoholic fatty liver disease (NAFLD), the leading cause of chronic</div>
<div style="position:absolute;white-space:nowrap;left:57.70px;top:232.00px;font-size:9.5px;line-height:11.4px;color:#2f2f2f;letter-spacing:0.344px;word-spacing:-0.600px;-webkit-text-stroke:0.28px #2f2f2f">liver disease.</div>
<div style="position:absolute;white-space:nowrap;left:57.70px;top:242.00px;font-size:9.5px;line-height:11.4px;color:#2f2f2f;letter-spacing:0.344px;word-spacing:0.722px;-webkit-text-stroke:0.28px #2f2f2f">Timely diagnosis of specific conditions associated with higher risk</div>
<div style="position:absolute;white-space:nowrap;left:50.80px;top:242.00px;font-size:9.5px;line-height:11.4px;color:#2f2f2f">•</div>
<div style="position:absolute;white-space:nowrap;left:57.70px;top:252.00px;font-size:9.5px;line-height:11.4px;color:#2f2f2f;letter-spacing:0.344px;word-spacing:1.159px;-webkit-text-stroke:0.28px #2f2f2f">of liver-related/all-cause mortality, such as “at-risk NASH” (NASH</div>
<div style="position:absolute;white-space:nowrap;left:57.70px;top:261.00px;font-size:9.5px;line-height:11.4px;color:#2f2f2f;letter-spacing:0.344px;word-spacing:-0.206px;-webkit-text-stroke:0.28px #2f2f2f">with a NAFLD activity score [NAS] ≥4 and a fibrosis stage [F] ≥2) or</div>
<div style="position:absolute;white-space:nowrap;left:57.70px;top:271.00px;font-size:9.5px;line-height:11.4px;color:#2f2f2f;letter-spacing:0.344px;word-spacing:0.622px;-webkit-text-stroke:0.28px #2f2f2f">advanced fibrosis (F≥3), is critical and different non-invasive tests</div>
<div style="position:absolute;white-space:nowrap;left:57.70px;top:280.00px;font-size:9.5px;line-height:11.4px;color:#2f2f2f;letter-spacing:0.344px;word-spacing:-0.592px;-webkit-text-stroke:0.28px #2f2f2f">(NITs) have been developed for these purposes.</div>
<div style="position:absolute;white-space:nowrap;left:57.70px;top:290.00px;font-size:9.5px;line-height:11.4px;color:#2f2f2f;letter-spacing:0.344px;word-spacing:-1.101px;-webkit-text-stroke:0.28px #2f2f2f">Recently, the blood-based diagnostic test NIS2+<span class="tm">™</span><sup>,1</sup>, an improvement</div>
<div style="position:absolute;white-space:nowrap;left:50.80px;top:290.00px;font-size:9.5px;line-height:11.4px;color:#2f2f2f">•</div>
<div style="position:absolute;white-space:nowrap;left:57.70px;top:300.00px;font-size:9.5px;line-height:11.4px;color:#2f2f2f;letter-spacing:0.344px;word-spacing:-1.300px;-webkit-text-stroke:0.28px #2f2f2f">of NIS4<sup>®</sup> technology<sup>†,2</sup> for the identification of at-risk NASH in patients</div>
<div style="position:absolute;white-space:nowrap;left:57.70px;top:309.00px;font-size:9.5px;line-height:11.4px;color:#2f2f2f;letter-spacing:0.344px;word-spacing:0.563px;-webkit-text-stroke:0.28px #2f2f2f">with metabolic risk factors, was developed and validated, showing</div>
<div style="position:absolute;white-space:nowrap;left:57.70px;top:319.00px;font-size:9.5px;line-height:11.4px;color:#2f2f2f;letter-spacing:0.344px;word-spacing:1.352px;-webkit-text-stroke:0.28px #2f2f2f">a robust performance across characteristics of interest, including</div>
<div style="position:absolute;white-space:nowrap;left:57.70px;top:329.00px;font-size:9.5px;line-height:11.4px;color:#2f2f2f;letter-spacing:0.344px;word-spacing:-0.600px;-webkit-text-stroke:0.28px #2f2f2f">age, type 2 diabetes mellitus (T2DM) status, and sex.</div>
<div style="position:absolute;white-space:nowrap;left:57.70px;top:338.00px;font-size:9.5px;line-height:11.4px;color:#2f2f2f;letter-spacing:0.344px;word-spacing:0.425px;-webkit-text-stroke:0.28px #2f2f2f">NAFLD affects patients of all ages, therefore, NITs should perform</div>
<div style="position:absolute;white-space:nowrap;left:50.80px;top:338.00px;font-size:9.5px;line-height:11.4px;color:#2f2f2f">•</div>
<div style="position:absolute;white-space:nowrap;left:57.70px;top:348.00px;font-size:9.5px;line-height:11.4px;color:#2f2f2f;letter-spacing:0.344px;word-spacing:-0.450px;-webkit-text-stroke:0.28px #2f2f2f">consistently across age groups to simplify large-scale use in clinical</div>
<div style="position:absolute;white-space:nowrap;left:57.70px;top:357.00px;font-size:9.5px;line-height:11.4px;color:#2f2f2f;letter-spacing:0.337px;word-spacing:0.000px;-webkit-text-stroke:0.28px #2f2f2f">practice.</div>
<div style="position:absolute;white-space:nowrap;left:50.80px;top:383.00px;font-size:6.0px;line-height:7.2px;font-weight:bold;font-style:italic;color:#3a3a3a;letter-spacing:-0.033px;word-spacing:-0.033px"><sup>†</sup>NIS4<sup>®</sup> technology is commercially available as the laboratory developed test (LDT) “NASHnext<span class="tm">™</span>” at Labcorp</div>
<div style="position:absolute;white-space:nowrap;left:186.45px;top:433.00px;font-size:13.0px;line-height:15.6px;font-weight:bold;color:#195678;letter-spacing:2.685px;transform:scaleX(0.9);transform-origin:0 50%">AIMS</div>
<div style="position:absolute;white-space:nowrap;left:57.70px;top:457.00px;font-size:9.5px;line-height:11.4px;color:#2f2f2f;letter-spacing:0.313px;word-spacing:-0.767px;-webkit-text-stroke:0.28px #2f2f2f">Investigate the effect of age on NIS2+<span class="tm">™</span> and several well-established</div>
<div style="position:absolute;white-space:nowrap;left:50.80px;top:457.00px;font-size:9.5px;line-height:11.4px;color:#2f2f2f">•</div>
<div style="position:absolute;white-space:nowrap;left:57.70px;top:467.00px;font-size:9.5px;line-height:11.4px;color:#2f2f2f;letter-spacing:0.313px;word-spacing:-1.300px;-webkit-text-stroke:0.28px #2f2f2f">NITs (NFS, FIB-4, ELF<span class="tm">™</span>, aspartate aminotransferase-to-platelet ratio</div>
<div style="position:absolute;white-space:nowrap;left:57.70px;top:477.00px;font-size:9.5px;line-height:11.4px;color:#2f2f2f;letter-spacing:0.313px;word-spacing:0.499px;-webkit-text-stroke:0.28px #2f2f2f">index [APRI], and alanine aminotransferase [ALT]), and compare it</div>
<div style="position:absolute;white-space:nowrap;left:57.70px;top:486.00px;font-size:9.5px;line-height:11.4px;color:#2f2f2f;letter-spacing:0.313px;word-spacing:0.254px;-webkit-text-stroke:0.28px #2f2f2f">to a histological reference standard.</div>
<div style="position:absolute;white-space:nowrap;left:57.70px;top:496.00px;font-size:9.5px;line-height:11.4px;color:#2f2f2f;letter-spacing:0.313px;word-spacing:0.402px;-webkit-text-stroke:0.28px #2f2f2f">Compare the effect of age with that of histology (fibrosis and NAS)</div>
<div style="position:absolute;white-space:nowrap;left:50.80px;top:496.00px;font-size:9.5px;line-height:11.4px;color:#2f2f2f">•</div>
<div style="position:absolute;white-space:nowrap;left:57.70px;top:506.00px;font-size:9.5px;line-height:11.4px;color:#2f2f2f;letter-spacing:0.313px;word-spacing:0.530px;-webkit-text-stroke:0.28px #2f2f2f">on the distribution of these NITs.</div>
<div style="position:absolute;white-space:nowrap;left:57.70px;top:516.00px;font-size:9.5px;line-height:11.4px;color:#2f2f2f;letter-spacing:0.313px;word-spacing:0.180px;-webkit-text-stroke:0.28px #2f2f2f">Evaluate the impact of age on the clinical performances of NIS2+<span class="tm">™</span></div>
<div style="position:absolute;white-space:nowrap;left:50.80px;top:516.00px;font-size:9.5px;line-height:11.4px;color:#2f2f2f">•</div>
<div style="position:absolute;white-space:nowrap;left:57.70px;top:525.00px;font-size:9.5px;line-height:11.4px;color:#2f2f2f;letter-spacing:0.313px;word-spacing:0.359px;-webkit-text-stroke:0.28px #2f2f2f">and other NITs for the detection of their intended clinical endpoints</div>
<div style="position:absolute;white-space:nowrap;left:57.70px;top:535.00px;font-size:9.5px;line-height:11.4px;color:#2f2f2f;letter-spacing:0.313px;word-spacing:-0.466px;-webkit-text-stroke:0.28px #2f2f2f"><i>i.e.</i> NASH for ALT, at-risk NASH for NIS2+<span class="tm">™</span> and F≥3 for NFS, FIB-4,</div>
<div style="position:absolute;white-space:nowrap;left:57.70px;top:545.00px;font-size:9.5px;line-height:11.4px;color:#2f2f2f;letter-spacing:0.313px;word-spacing:-0.600px;-webkit-text-stroke:0.28px #2f2f2f">ELF<span class="tm">™</span> and APRI.</div>
<div style="position:absolute;white-space:nowrap;left:169.90px;top:598.00px;font-size:13.0px;line-height:15.6px;font-weight:bold;color:#195678;letter-spacing:2.130px;transform:scaleX(0.9);transform-origin:0 50%">METHODS</div>
<div style="position:absolute;left:113.2px;top:627.6px;width:183.8px;height:54.2px;background:#17506d;border-radius:8px"></div>
<div style="position:absolute;left:157.0px;top:688.0px;width:95.0px;height:13.8px;background:#e09a3c;border-radius:0px"></div>
<div style="position:absolute;left:82.0px;top:711.6px;width:245.2px;height:37.2px;background:#17506d;border-radius:7px"></div>
<div style="position:absolute;left:48.0px;top:762.6px;width:313.2px;height:44.2px;background:#17506d;border-radius:7px"></div>
<svg style="position:absolute;left:0;top:0" width="1484" height="921" viewBox="0 0 1484 921">
<g stroke="#17506d" stroke-width="0.7" fill="#17506d">
<line x1="204.6" y1="684" x2="204.6" y2="688"/><line x1="204.6" y1="701.8" x2="204.6" y2="707"/><path d="M203.2 706.2 L206 706.2 L204.6 709.6Z" stroke="none"/>
<line x1="204.6" y1="751" x2="204.6" y2="758"/><path d="M203.2 757.3 L206 757.3 L204.6 760.8Z" stroke="none"/>
</g>
<circle cx="124.9" cy="648.3" r="2.35" fill="#fff"/><path d="M123.75 648.35 L124.60 649.25 L126.15 647.45" fill="none" stroke="#17506d" stroke-width="0.7"/><circle cx="124.9" cy="656.0" r="2.35" fill="#fff"/><path d="M123.75 656.05 L124.60 656.95 L126.15 655.15" fill="none" stroke="#17506d" stroke-width="0.7"/><circle cx="124.9" cy="664.1" r="2.35" fill="#fff"/><path d="M123.75 664.15 L124.60 665.05 L126.15 663.25" fill="none" stroke="#17506d" stroke-width="0.7"/><circle cx="124.9" cy="672.2" r="2.35" fill="#fff"/><path d="M123.75 672.25 L124.60 673.15 L126.15 671.35" fill="none" stroke="#17506d" stroke-width="0.7"/><circle cx="92.3" cy="725.2" r="2.35" fill="#fff"/><path d="M91.15 725.25 L92.00 726.15 L93.55 724.35" fill="none" stroke="#17506d" stroke-width="0.7"/><circle cx="92.3" cy="733.2" r="2.35" fill="#fff"/><path d="M91.15 733.25 L92.00 734.15 L93.55 732.35" fill="none" stroke="#17506d" stroke-width="0.7"/><circle cx="92.3" cy="741.1" r="2.35" fill="#fff"/><path d="M91.15 741.15 L92.00 742.05 L93.55 740.25" fill="none" stroke="#17506d" stroke-width="0.7"/><circle cx="59.2" cy="770.9" r="2.35" fill="#fff"/><path d="M58.05 770.95 L58.90 771.85 L60.45 770.05" fill="none" stroke="#17506d" stroke-width="0.7"/><circle cx="59.2" cy="783.0" r="2.35" fill="#fff"/><path d="M58.05 783.05 L58.90 783.95 L60.45 782.15" fill="none" stroke="#17506d" stroke-width="0.7"/><circle cx="59.2" cy="795.6" r="2.35" fill="#fff"/><path d="M58.05 795.65 L58.90 796.55 L60.45 794.75" fill="none" stroke="#17506d" stroke-width="0.7"/></svg>
<div style="position:absolute;white-space:nowrap;left:175.80px;top:632.00px;font-size:4.3px;line-height:5.16px;font-weight:bold;color:#fff;letter-spacing:0.253px;word-spacing:0.380px">Analysis cohort | N=2108</div>
<div style="position:absolute;white-space:nowrap;left:168.30px;top:638.00px;font-size:3.7px;line-height:4.44px;font-weight:bold;color:#fff;letter-spacing:0.239px;word-spacing:0.359px">RESOLVE-IT Phase 3 (NCT02704403)</div>
<div style="position:absolute;white-space:nowrap;left:131.60px;top:646.00px;font-size:3.9px;line-height:4.68px;font-weight:bold;color:#fff;letter-spacing:0.213px;word-spacing:0.319px">Biopsy at baseline</div>
<div style="position:absolute;white-space:nowrap;left:131.60px;top:654.00px;font-size:3.9px;line-height:4.68px;font-weight:bold;color:#fff;letter-spacing:0.111px;word-spacing:0.167px">NIS2+<span class="tm">™</span>, FIB-4, NFS, APRI and ELF<span class="tm">™</span> available</div>
<div style="position:absolute;white-space:nowrap;left:131.60px;top:662.00px;font-size:3.9px;line-height:4.68px;font-weight:bold;color:#fff;letter-spacing:0.184px;word-spacing:0.276px">Gap of ≤90 days between blood and biopsy samples</div>
<div style="position:absolute;white-space:nowrap;left:131.60px;top:670.00px;font-size:3.9px;line-height:4.68px;font-weight:bold;color:#fff;letter-spacing:0.154px;word-spacing:0.231px">4 age groups: ≤45yo (n=496), 46-55yo (n=569), 56-64yo (n=625), ≥65yo (n=418)</div>
<div style="position:absolute;white-space:nowrap;left:165.60px;top:693.00px;font-size:3.9px;line-height:4.68px;font-weight:bold;color:#fff;letter-spacing:0.217px;word-spacing:0.326px">Propensity Score Matching Algorithm</div>
<div style="position:absolute;white-space:nowrap;left:176.55px;top:715.00px;font-size:4.3px;line-height:5.16px;font-weight:bold;color:#fff;letter-spacing:0.318px;word-spacing:0.477px">Matched cohort | <i>N</i>=800</div>
<div style="position:absolute;white-space:nowrap;left:98.90px;top:723.00px;font-size:3.9px;line-height:4.68px;font-weight:bold;color:#fff;letter-spacing:0.154px;word-spacing:0.231px">4 age groups, n=200 per age group</div>
<div style="position:absolute;white-space:nowrap;left:98.90px;top:731.00px;font-size:3.9px;line-height:4.68px;font-weight:bold;color:#fff;letter-spacing:0.220px;word-spacing:0.331px">Well-balanced for potential confounders (gender, T2DM, Dyslipidemia, HT prevalence)</div>
<div style="position:absolute;white-space:nowrap;left:98.90px;top:739.00px;font-size:3.9px;line-height:4.68px;font-weight:bold;color:#fff;letter-spacing:0.199px;word-spacing:0.299px">Histologically similar</div>
<div style="position:absolute;white-space:nowrap;left:66.00px;top:769.00px;font-size:3.9px;line-height:4.68px;font-weight:bold;color:#fff;letter-spacing:0.198px;word-spacing:0.297px">Baseline values of biomarkers and NITs compared across age groups using one-way ANOVA</div>
<div style="position:absolute;white-space:nowrap;left:66.00px;top:778.00px;font-size:3.9px;line-height:4.68px;font-weight:bold;color:#fff;letter-spacing:0.188px;word-spacing:0.282px">Age impact on NITs distribution was compared to the effect of histology (F, NAS) using Type-2 ANOVA.</div>
<div style="position:absolute;white-space:nowrap;left:66.00px;top:783.00px;font-size:3.9px;line-height:4.68px;font-weight:bold;color:#fff;letter-spacing:0.194px;word-spacing:0.291px">ω<sup>2</sup><sub>p</sub> effect sizes derived as a measure of impact magnitude: &lt;0.01=very low, [0.01, 0.06[=low, [0.06, 0.14[=medium, and ≥0.14=large</div>
<div style="position:absolute;white-space:nowrap;left:66.00px;top:792.00px;font-size:3.9px;line-height:4.68px;font-weight:bold;color:#fff;letter-spacing:0.168px;word-spacing:0.252px">Youden cutoffs derived for each NIT on its intended endpoint (NIS2+<span class="tm">™</span>: at-risk NASH | FIB-4, NFS, ELF, APRI: F≥3 | ALT: NASH):</div>
<div style="position:absolute;white-space:nowrap;left:66.00px;top:797.00px;font-size:3.9px;line-height:4.68px;font-weight:bold;color:#fff;letter-spacing:0.164px;word-spacing:0.246px">•&nbsp;&nbsp;&nbsp;NIS2+<span class="tm">™</span>: 0.63 | FIB-4: 1.26 | NFS: -1.58 | ELF: 9.48 | APRI: 0.39 | ALT: 33.5</div>
<div style="position:absolute;white-space:nowrap;left:48.00px;top:812.00px;font-size:6.1px;line-height:7.32px;font-style:italic;color:#4a4a4a;letter-spacing:0.085px;word-spacing:0.127px;-webkit-text-stroke:0.15px #4a4a4a">T2DM = Type 2 diabetes mellitus ; HT = hypertention</div>
<div style="position:absolute;white-space:nowrap;left:50.80px;top:859.00px;font-size:13.0px;line-height:15.6px;font-weight:bold;color:#195678;letter-spacing:1.477px;transform:scaleX(0.84);transform-origin:0 50%">REFERENCES</div>
<div style="position:absolute;left:143.0px;top:855px;width:0.9px;height:24px;background:#333"></div>
<div style="position:absolute;white-space:nowrap;left:152.00px;top:859.00px;font-size:5.1px;line-height:6.12px;font-weight:bold;color:#333;letter-spacing:0.034px;word-spacing:0.034px">1. Harrison SA and Ratziu V, <i>et al.</i> Journal of Hepatology 2023; 10.1016/j.jhep.2023.04.031</div>
<div style="position:absolute;white-space:nowrap;left:152.00px;top:869.00px;font-size:5.1px;line-height:6.12px;font-weight:bold;color:#333;letter-spacing:0.035px;word-spacing:0.035px">2. Harrison SA and Ratziu V, <i>et al.</i> Lancet Gastroenterol Hepatol. 2020; 5(11):970-985</div>
<!-- part_mid -->
<div style="position:absolute;white-space:nowrap;left:478.30px;top:185.00px;font-size:13.0px;line-height:15.6px;font-weight:bold;color:#195678;letter-spacing:1.420px;transform:scaleX(0.9);transform-origin:0 50%">DESCRIPTIVE RESULTS</div>
<div style="position:absolute;white-space:nowrap;left:433.80px;top:213.00px;font-size:9.6px;line-height:11.52px;font-weight:bold;color:#222;letter-spacing:0.301px;word-spacing:0.451px">Table 1. Demographic and baseline characteristics</div>
<div style="position:absolute;white-space:nowrap;left:469.30px;top:224.00px;font-size:9.6px;line-height:11.52px;font-weight:bold;color:#222;letter-spacing:0.292px;word-spacing:0.438px">of the matched cohort by age group</div>
<div style="position:absolute;left:403.10px;top:244.20px;width:61.50px;height:17.60px;background:#17506d"></div>
<div style="position:absolute;left:465.60px;top:244.20px;width:54.20px;height:17.60px;background:#17506d"></div>
<div style="position:absolute;left:520.80px;top:244.20px;width:54.10px;height:17.60px;background:#17506d"></div>
<div style="position:absolute;left:575.90px;top:244.20px;width:54.00px;height:17.60px;background:#17506d"></div>
<div style="position:absolute;left:630.90px;top:244.20px;width:54.00px;height:17.60px;background:#17506d"></div>
<div style="position:absolute;left:685.90px;top:244.20px;width:28.00px;height:17.60px;background:#17506d"></div>
<div style="position:absolute;white-space:nowrap;left:481.26px;top:247.00px;font-size:4.5px;line-height:5.17px;font-weight:bold;color:#fff;letter-spacing:0.300px">≤45 years</div>
<div style="position:absolute;white-space:nowrap;left:483.86px;top:253.00px;font-size:4.5px;line-height:5.17px;font-weight:bold;color:#fff;letter-spacing:0.300px">(n=200)</div>
<div style="position:absolute;white-space:nowrap;left:534.09px;top:247.00px;font-size:4.5px;line-height:5.17px;font-weight:bold;color:#fff;letter-spacing:0.300px">46-55 years</div>
<div style="position:absolute;white-space:nowrap;left:539.01px;top:253.00px;font-size:4.5px;line-height:5.17px;font-weight:bold;color:#fff;letter-spacing:0.300px">(n=200)</div>
<div style="position:absolute;white-space:nowrap;left:589.14px;top:247.00px;font-size:4.5px;line-height:5.17px;font-weight:bold;color:#fff;letter-spacing:0.300px">56-64 years</div>
<div style="position:absolute;white-space:nowrap;left:594.06px;top:253.00px;font-size:4.5px;line-height:5.17px;font-weight:bold;color:#fff;letter-spacing:0.300px">(n=200)</div>
<div style="position:absolute;white-space:nowrap;left:646.46px;top:247.00px;font-size:4.5px;line-height:5.17px;font-weight:bold;color:#fff;letter-spacing:0.300px">≥65 years</div>
<div style="position:absolute;white-space:nowrap;left:649.06px;top:253.00px;font-size:4.5px;line-height:5.17px;font-weight:bold;color:#fff;letter-spacing:0.300px">(n=200)</div>
<div style="position:absolute;white-space:nowrap;left:691.00px;top:250.00px;font-size:4.5px;line-height:5.17px;font-weight:bold;color:#fff;letter-spacing:0.300px"><i>p</i> value</div>
<div style="position:absolute;left:403.10px;top:263.20px;width:310.80px;height:6.40px;background:#5b8197"></div>
<div style="position:absolute;white-space:nowrap;left:403.90px;top:263.00px;font-size:4.5px;line-height:5.17px;font-weight:bold;color:#fff;letter-spacing:0.150px">Demographic</div>
<div style="position:absolute;left:403.10px;top:285.20px;width:310.80px;height:6.40px;background:#5b8197"></div>
<div style="position:absolute;white-space:nowrap;left:403.90px;top:285.00px;font-size:4.5px;line-height:5.17px;font-weight:bold;color:#fff;letter-spacing:0.150px">Clinical characteristics</div>
<div style="position:absolute;left:403.10px;top:329.20px;width:310.80px;height:6.40px;background:#5b8197"></div>
<div style="position:absolute;white-space:nowrap;left:403.90px;top:329.00px;font-size:4.5px;line-height:5.17px;font-weight:bold;color:#fff;letter-spacing:0.150px">Histology</div>
<div style="position:absolute;white-space:nowrap;left:403.70px;top:271.00px;font-size:4.5px;line-height:5.17px;font-weight:bold;color:#2f2f2f;letter-spacing:0.150px">Gender, Male</div>
<div style="position:absolute;white-space:nowrap;left:483.60px;top:271.00px;font-size:4.7px;line-height:5.4px;color:#5e5e5e;letter-spacing:0.100px">69 (138)</div>
<div style="position:absolute;white-space:nowrap;left:536.69px;top:271.00px;font-size:4.7px;line-height:5.4px;color:#5e5e5e;letter-spacing:0.100px">66.5 (133)</div>
<div style="position:absolute;white-space:nowrap;left:591.74px;top:271.00px;font-size:4.7px;line-height:5.4px;color:#5e5e5e;letter-spacing:0.100px">65.5 (131)</div>
<div style="position:absolute;white-space:nowrap;left:646.74px;top:271.00px;font-size:4.7px;line-height:5.4px;color:#5e5e5e;letter-spacing:0.100px">66.5 (133)</div>
<div style="position:absolute;white-space:nowrap;left:692.21px;top:271.00px;font-size:4.7px;line-height:5.4px;color:#5e5e5e;letter-spacing:0.100px">0.8956</div>
<div style="position:absolute;white-space:nowrap;left:403.70px;top:278.00px;font-size:4.5px;line-height:5.17px;font-weight:bold;color:#2f2f2f;letter-spacing:0.150px">Age (years)</div>
<div style="position:absolute;white-space:nowrap;left:487.34px;top:278.00px;font-size:4.7px;line-height:5.4px;color:#5e5e5e;letter-spacing:0.100px">39±6</div>
<div style="position:absolute;white-space:nowrap;left:542.49px;top:278.00px;font-size:4.7px;line-height:5.4px;color:#5e5e5e;letter-spacing:0.100px">51±3</div>
<div style="position:absolute;white-space:nowrap;left:597.54px;top:278.00px;font-size:4.7px;line-height:5.4px;color:#5e5e5e;letter-spacing:0.100px">60±3</div>
<div style="position:absolute;white-space:nowrap;left:652.54px;top:278.00px;font-size:4.7px;line-height:5.4px;color:#5e5e5e;letter-spacing:0.100px">69±3</div>
<div style="position:absolute;white-space:nowrap;left:690.79px;top:278.00px;font-size:4.7px;line-height:5.4px;color:#5e5e5e;letter-spacing:0.100px">&lt;0.0001</div>
<div style="position:absolute;white-space:nowrap;left:403.70px;top:293.00px;font-size:4.5px;line-height:5.17px;font-weight:bold;color:#2f2f2f;letter-spacing:0.150px">Type 2 Diabetes</div>
<div style="position:absolute;white-space:nowrap;left:482.89px;top:293.00px;font-size:4.7px;line-height:5.4px;color:#5e5e5e;letter-spacing:0.100px">36.5 (73)</div>
<div style="position:absolute;white-space:nowrap;left:538.04px;top:293.00px;font-size:4.7px;line-height:5.4px;color:#5e5e5e;letter-spacing:0.100px">38.5 (77)</div>
<div style="position:absolute;white-space:nowrap;left:593.09px;top:293.00px;font-size:4.7px;line-height:5.4px;color:#5e5e5e;letter-spacing:0.100px">39.5 (79)</div>
<div style="position:absolute;white-space:nowrap;left:648.09px;top:293.00px;font-size:4.7px;line-height:5.4px;color:#5e5e5e;letter-spacing:0.100px">39.5 (79)</div>
<div style="position:absolute;white-space:nowrap;left:692.21px;top:293.00px;font-size:4.7px;line-height:5.4px;color:#5e5e5e;letter-spacing:0.100px">0.9174</div>
<div style="position:absolute;white-space:nowrap;left:403.70px;top:300.00px;font-size:4.5px;line-height:5.17px;font-weight:bold;color:#2f2f2f;letter-spacing:0.150px">Dyslipidemia</div>
<div style="position:absolute;white-space:nowrap;left:484.95px;top:300.00px;font-size:4.7px;line-height:5.4px;color:#5e5e5e;letter-spacing:0.100px">45 (90)</div>
<div style="position:absolute;white-space:nowrap;left:540.10px;top:300.00px;font-size:4.7px;line-height:5.4px;color:#5e5e5e;letter-spacing:0.100px">48 (96)</div>
<div style="position:absolute;white-space:nowrap;left:593.09px;top:300.00px;font-size:4.7px;line-height:5.4px;color:#5e5e5e;letter-spacing:0.100px">49.5 (99)</div>
<div style="position:absolute;white-space:nowrap;left:650.15px;top:300.00px;font-size:4.7px;line-height:5.4px;color:#5e5e5e;letter-spacing:0.100px">48 (96)</div>
<div style="position:absolute;white-space:nowrap;left:692.21px;top:300.00px;font-size:4.7px;line-height:5.4px;color:#5e5e5e;letter-spacing:0.100px">0.8358</div>
<div style="position:absolute;white-space:nowrap;left:403.70px;top:307.00px;font-size:4.5px;line-height:5.17px;font-weight:bold;color:#2f2f2f;letter-spacing:0.150px">Arterial hypertension</div>
<div style="position:absolute;white-space:nowrap;left:483.60px;top:307.00px;font-size:4.7px;line-height:5.4px;color:#5e5e5e;letter-spacing:0.100px">54 (108)</div>
<div style="position:absolute;white-space:nowrap;left:538.92px;top:307.00px;font-size:4.7px;line-height:5.4px;color:#5e5e5e;letter-spacing:0.100px">55 (110)</div>
<div style="position:absolute;white-space:nowrap;left:593.97px;top:307.00px;font-size:4.7px;line-height:5.4px;color:#5e5e5e;letter-spacing:0.100px">56 (112)</div>
<div style="position:absolute;white-space:nowrap;left:646.74px;top:307.00px;font-size:4.7px;line-height:5.4px;color:#5e5e5e;letter-spacing:0.100px">54.5 (109)</div>
<div style="position:absolute;white-space:nowrap;left:692.21px;top:307.00px;font-size:4.7px;line-height:5.4px;color:#5e5e5e;letter-spacing:0.100px">0.9913</div>
<div style="position:absolute;white-space:nowrap;left:403.70px;top:315.00px;font-size:4.5px;line-height:5.17px;font-weight:bold;color:#2f2f2f;letter-spacing:0.150px">BMI (kg/m²)</div>
<div style="position:absolute;white-space:nowrap;left:481.86px;top:315.00px;font-size:4.7px;line-height:5.4px;color:#5e5e5e;letter-spacing:0.100px">33.09±6.1</div>
<div style="position:absolute;white-space:nowrap;left:535.66px;top:315.00px;font-size:4.7px;line-height:5.4px;color:#5e5e5e;letter-spacing:0.100px">32.99±5.33</div>
<div style="position:absolute;white-space:nowrap;left:592.06px;top:315.00px;font-size:4.7px;line-height:5.4px;color:#5e5e5e;letter-spacing:0.100px">32.8±4.95</div>
<div style="position:absolute;white-space:nowrap;left:647.06px;top:315.00px;font-size:4.7px;line-height:5.4px;color:#5e5e5e;letter-spacing:0.100px">32.9±5.38</div>
<div style="position:absolute;white-space:nowrap;left:692.21px;top:315.00px;font-size:4.7px;line-height:5.4px;color:#5e5e5e;letter-spacing:0.100px">0.9923</div>
<div style="position:absolute;white-space:nowrap;left:403.70px;top:322.00px;font-size:4.5px;line-height:5.17px;font-weight:bold;color:#2f2f2f;letter-spacing:0.150px">Obese</div>
<div style="position:absolute;white-space:nowrap;left:481.54px;top:322.00px;font-size:4.7px;line-height:5.4px;color:#5e5e5e;letter-spacing:0.100px">68.5 (137)</div>
<div style="position:absolute;white-space:nowrap;left:536.69px;top:322.00px;font-size:4.7px;line-height:5.4px;color:#5e5e5e;letter-spacing:0.100px">66.5 (133)</div>
<div style="position:absolute;white-space:nowrap;left:591.74px;top:322.00px;font-size:4.7px;line-height:5.4px;color:#5e5e5e;letter-spacing:0.100px">69.5 (139)</div>
<div style="position:absolute;white-space:nowrap;left:648.80px;top:322.00px;font-size:4.7px;line-height:5.4px;color:#5e5e5e;letter-spacing:0.100px">67 (134)</div>
<div style="position:absolute;white-space:nowrap;left:692.21px;top:322.00px;font-size:4.7px;line-height:5.4px;color:#5e5e5e;letter-spacing:0.100px">0.9141</div>
<div style="position:absolute;white-space:nowrap;left:403.70px;top:337.00px;font-size:4.5px;line-height:5.17px;font-weight:bold;color:#2f2f2f;letter-spacing:0.150px">NAFLD</div>
<div style="position:absolute;white-space:nowrap;left:481.54px;top:337.00px;font-size:4.7px;line-height:5.4px;color:#5e5e5e;letter-spacing:0.100px">89.5 (179)</div>
<div style="position:absolute;white-space:nowrap;left:538.75px;top:337.00px;font-size:4.7px;line-height:5.4px;color:#5e5e5e;letter-spacing:0.100px">90 (180)</div>
<div style="position:absolute;white-space:nowrap;left:591.74px;top:337.00px;font-size:4.7px;line-height:5.4px;color:#5e5e5e;letter-spacing:0.100px">90.5 (181)</div>
<div style="position:absolute;white-space:nowrap;left:648.80px;top:337.00px;font-size:4.7px;line-height:5.4px;color:#5e5e5e;letter-spacing:0.100px">90 (180)</div>
<div style="position:absolute;white-space:nowrap;left:692.21px;top:337.00px;font-size:4.7px;line-height:5.4px;color:#5e5e5e;letter-spacing:0.100px">0.9905</div>
<div style="position:absolute;white-space:nowrap;left:403.70px;top:344.00px;font-size:4.5px;line-height:5.17px;font-weight:bold;color:#2f2f2f;letter-spacing:0.150px">NASH</div>
<div style="position:absolute;white-space:nowrap;left:483.77px;top:344.00px;font-size:4.7px;line-height:5.4px;color:#5e5e5e;letter-spacing:0.100px">59 (118)</div>
<div style="position:absolute;white-space:nowrap;left:538.75px;top:344.00px;font-size:4.7px;line-height:5.4px;color:#5e5e5e;letter-spacing:0.100px">62 (124)</div>
<div style="position:absolute;white-space:nowrap;left:591.74px;top:344.00px;font-size:4.7px;line-height:5.4px;color:#5e5e5e;letter-spacing:0.100px">62.5 (125)</div>
<div style="position:absolute;white-space:nowrap;left:648.97px;top:344.00px;font-size:4.7px;line-height:5.4px;color:#5e5e5e;letter-spacing:0.100px">59 (118)</div>
<div style="position:absolute;white-space:nowrap;left:692.21px;top:344.00px;font-size:4.7px;line-height:5.4px;color:#5e5e5e;letter-spacing:0.100px">0.8265</div>
<div style="position:absolute;white-space:nowrap;left:403.70px;top:351.00px;font-size:4.5px;line-height:5.17px;font-weight:bold;color:#2f2f2f;letter-spacing:0.150px">At-risk NASH</div>
<div style="position:absolute;white-space:nowrap;left:482.89px;top:351.00px;font-size:4.7px;line-height:5.4px;color:#5e5e5e;letter-spacing:0.100px">43.5 (87)</div>
<div style="position:absolute;white-space:nowrap;left:538.04px;top:351.00px;font-size:4.7px;line-height:5.4px;color:#5e5e5e;letter-spacing:0.100px">43.5 (87)</div>
<div style="position:absolute;white-space:nowrap;left:593.09px;top:351.00px;font-size:4.7px;line-height:5.4px;color:#5e5e5e;letter-spacing:0.100px">43.5 (87)</div>
<div style="position:absolute;white-space:nowrap;left:648.09px;top:351.00px;font-size:4.7px;line-height:5.4px;color:#5e5e5e;letter-spacing:0.100px">43.5 (87)</div>
<div style="position:absolute;white-space:nowrap;left:698.34px;top:351.00px;font-size:4.7px;line-height:5.4px;color:#5e5e5e;letter-spacing:0.100px">1</div>
<div style="position:absolute;white-space:nowrap;left:403.70px;top:359.00px;font-size:4.5px;line-height:5.17px;font-weight:bold;color:#2f2f2f;letter-spacing:0.150px">Fibrosis</div>
<div style="position:absolute;white-space:nowrap;left:481.86px;top:359.00px;font-size:4.7px;line-height:5.4px;color:#5e5e5e;letter-spacing:0.100px">1.83±1.19</div>
<div style="position:absolute;white-space:nowrap;left:538.37px;top:359.00px;font-size:4.7px;line-height:5.4px;color:#5e5e5e;letter-spacing:0.100px">1.91±1.2</div>
<div style="position:absolute;white-space:nowrap;left:593.42px;top:359.00px;font-size:4.7px;line-height:5.4px;color:#5e5e5e;letter-spacing:0.100px">1.9±1.21</div>
<div style="position:absolute;white-space:nowrap;left:648.42px;top:359.00px;font-size:4.7px;line-height:5.4px;color:#5e5e5e;letter-spacing:0.100px">1.85±1.2</div>
<div style="position:absolute;white-space:nowrap;left:692.21px;top:359.00px;font-size:4.7px;line-height:5.4px;color:#5e5e5e;letter-spacing:0.100px">0.9752</div>
<div style="position:absolute;white-space:nowrap;left:403.70px;top:366.00px;font-size:4.5px;line-height:5.17px;font-weight:bold;color:#2f2f2f;letter-spacing:0.150px">Fibrosis (0/1/2/3/4), %</div>
<div style="position:absolute;white-space:nowrap;left:473.61px;top:366.00px;font-size:4.7px;line-height:5.4px;color:#5e5e5e;letter-spacing:0.100px">17/24/23/30.5/5.5</div>
<div style="position:absolute;white-space:nowrap;left:524.64px;top:366.00px;font-size:4.7px;line-height:5.4px;color:#5e5e5e;letter-spacing:0.100px">17.5/24.5/23/29.5/5.5</div>
<div style="position:absolute;white-space:nowrap;left:583.81px;top:366.00px;font-size:4.7px;line-height:5.4px;color:#5e5e5e;letter-spacing:0.100px">19/25/21.5/30/5.5</div>
<div style="position:absolute;white-space:nowrap;left:638.81px;top:366.00px;font-size:4.7px;line-height:5.4px;color:#5e5e5e;letter-spacing:0.100px">17/23.5/23/30.5/6</div>
<div style="position:absolute;white-space:nowrap;left:696.34px;top:366.00px;font-size:4.7px;line-height:5.4px;color:#5e5e5e;letter-spacing:0.100px">NA</div>
<div style="position:absolute;white-space:nowrap;left:403.70px;top:373.00px;font-size:4.5px;line-height:5.17px;font-weight:bold;color:#2f2f2f;letter-spacing:0.150px">NAS</div>
<div style="position:absolute;white-space:nowrap;left:481.86px;top:373.00px;font-size:4.7px;line-height:5.4px;color:#5e5e5e;letter-spacing:0.100px">3.82±2.04</div>
<div style="position:absolute;white-space:nowrap;left:538.37px;top:373.00px;font-size:4.7px;line-height:5.4px;color:#5e5e5e;letter-spacing:0.100px">3.97±2.1</div>
<div style="position:absolute;white-space:nowrap;left:592.06px;top:373.00px;font-size:4.7px;line-height:5.4px;color:#5e5e5e;letter-spacing:0.100px">3.87±2.06</div>
<div style="position:absolute;white-space:nowrap;left:647.06px;top:373.00px;font-size:4.7px;line-height:5.4px;color:#5e5e5e;letter-spacing:0.100px">3.86±2.04</div>
<div style="position:absolute;white-space:nowrap;left:692.21px;top:373.00px;font-size:4.7px;line-height:5.4px;color:#5e5e5e;letter-spacing:0.100px">0.9928</div>
<div style="position:absolute;white-space:nowrap;left:403.70px;top:383.00px;font-size:4.5px;line-height:5.17px;font-weight:bold;color:#2f2f2f;letter-spacing:0.150px">NAS (0-1, 2-3, 4-5, 6-8), %</div>
<div style="position:absolute;white-space:nowrap;left:475.67px;top:383.00px;font-size:4.7px;line-height:5.4px;color:#5e5e5e;letter-spacing:0.100px">16/27.5/32/24.5</div>
<div style="position:absolute;white-space:nowrap;left:530.82px;top:383.00px;font-size:4.7px;line-height:5.4px;color:#5e5e5e;letter-spacing:0.100px">17.5/22/35.5/25</div>
<div style="position:absolute;white-space:nowrap;left:585.87px;top:383.00px;font-size:4.7px;line-height:5.4px;color:#5e5e5e;letter-spacing:0.100px">18/24/34.5/23.5</div>
<div style="position:absolute;white-space:nowrap;left:644.99px;top:383.00px;font-size:4.7px;line-height:5.4px;color:#5e5e5e;letter-spacing:0.100px">16/25/34/25</div>
<div style="position:absolute;white-space:nowrap;left:696.34px;top:383.00px;font-size:4.7px;line-height:5.4px;color:#5e5e5e;letter-spacing:0.100px">NA</div>
<div style="position:absolute;white-space:nowrap;left:401.90px;top:395.00px;font-size:4.2px;line-height:5.04px;font-style:italic;color:#555;letter-spacing:0.159px;word-spacing:0.476px">Values are expressed as %(n) or mean±SD unless otherwise indicated. p values were derived by using either Chi tests for proportions comparisons or</div>
<div style="position:absolute;white-space:nowrap;left:401.90px;top:401.00px;font-size:4.2px;line-height:5.04px;font-style:italic;color:#555;letter-spacing:0.136px;word-spacing:0.408px">Kruskal-Wallis tests for numerical features.</div>
<div style="position:absolute;white-space:nowrap;left:406.70px;top:411.00px;font-size:7.8px;line-height:9.36px;color:#3c3c3c;letter-spacing:0.150px;word-spacing:0.930px;-webkit-text-stroke:0.13px #3c3c3c">The propensity score matching algorithm led to four subgroups (n=200 each), well-</div>
<div style="position:absolute;white-space:nowrap;left:400.30px;top:411.00px;font-size:7.8px;line-height:9.36px;color:#3c3c3c">•</div>
<div style="position:absolute;white-space:nowrap;left:406.70px;top:420.00px;font-size:7.8px;line-height:9.36px;color:#3c3c3c;letter-spacing:0.150px;word-spacing:1.832px;-webkit-text-stroke:0.13px #3c3c3c">balanced for potential confounding factors and with similar histology.</div>
<div style="position:absolute;white-space:nowrap;left:406.70px;top:430.00px;font-size:7.8px;line-height:9.36px;color:#3c3c3c;letter-spacing:0.150px;word-spacing:0.740px;-webkit-text-stroke:0.13px #3c3c3c">Mean age of matched sub-cohorts: 39-69 years.</div>
<div style="position:absolute;white-space:nowrap;left:400.30px;top:430.00px;font-size:7.8px;line-height:9.36px;color:#3c3c3c">•</div>
<div style="position:absolute;white-space:nowrap;left:406.70px;top:440.00px;font-size:7.8px;line-height:9.36px;color:#3c3c3c;letter-spacing:0.150px;word-spacing:-1.238px;-webkit-text-stroke:0.13px #3c3c3c">Among subgroups, the prevalence of at-risk NASH was 43.5% and ranged from 35-36.5%</div>
<div style="position:absolute;white-space:nowrap;left:400.30px;top:440.00px;font-size:7.8px;line-height:9.36px;color:#3c3c3c">•</div>
<div style="position:absolute;white-space:nowrap;left:406.70px;top:450.00px;font-size:7.8px;line-height:9.36px;color:#3c3c3c;letter-spacing:0.150px;word-spacing:-0.600px;-webkit-text-stroke:0.13px #3c3c3c">for F≥3.</div>
<div style="position:absolute;left:400.00px;top:470.20px;width:314.00px;height:0.80px;background:#3a3a3a"></div>
<div style="position:absolute;white-space:nowrap;left:403.30px;top:479.00px;font-size:9.6px;line-height:11.52px;font-weight:bold;color:#222;letter-spacing:0.104px;word-spacing:0.156px">Table 2. Mean±SD of NIT scores and associated biomarkers levels</div>
<div style="position:absolute;white-space:nowrap;left:472.30px;top:490.00px;font-size:9.6px;line-height:11.52px;font-weight:bold;color:#222;letter-spacing:0.162px;word-spacing:0.242px">in the matched cohort by age group</div>
<div style="position:absolute;left:402.00px;top:512.00px;width:57.80px;height:10.10px;background:#17506d"></div>
<div style="position:absolute;left:402.00px;top:523.20px;width:57.80px;height:6.10px;background:#17506d"></div>
<div style="position:absolute;left:460.80px;top:512.00px;width:56.30px;height:10.10px;background:#17506d"></div>
<div style="position:absolute;left:460.80px;top:523.20px;width:18.10px;height:6.10px;background:#17506d"></div>
<div style="position:absolute;left:479.90px;top:523.20px;width:37.20px;height:6.10px;background:#17506d"></div>
<div style="position:absolute;left:518.10px;top:512.00px;width:55.00px;height:10.10px;background:#17506d"></div>
<div style="position:absolute;left:518.10px;top:523.20px;width:17.90px;height:6.10px;background:#17506d"></div>
<div style="position:absolute;left:537.00px;top:523.20px;width:36.10px;height:6.10px;background:#17506d"></div>
<div style="position:absolute;left:574.10px;top:512.00px;width:56.00px;height:10.10px;background:#17506d"></div>
<div style="position:absolute;left:574.10px;top:523.20px;width:18.80px;height:6.10px;background:#17506d"></div>
<div style="position:absolute;left:593.90px;top:523.20px;width:36.20px;height:6.10px;background:#17506d"></div>
<div style="position:absolute;left:631.10px;top:512.00px;width:55.90px;height:10.10px;background:#17506d"></div>
<div style="position:absolute;left:631.10px;top:523.20px;width:18.90px;height:6.10px;background:#17506d"></div>
<div style="position:absolute;left:651.00px;top:523.20px;width:36.00px;height:6.10px;background:#17506d"></div>
<div style="position:absolute;left:688.00px;top:512.00px;width:26.00px;height:10.10px;background:#17506d"></div>
<div style="position:absolute;left:688.00px;top:523.20px;width:26.00px;height:6.10px;background:#17506d"></div>
<div style="position:absolute;white-space:nowrap;left:477.51px;top:513.00px;font-size:4.5px;line-height:5.17px;font-weight:bold;color:#fff;letter-spacing:0.300px">≤45 years</div>
<div style="position:absolute;white-space:nowrap;left:468.60px;top:523.00px;font-size:4.5px;line-height:5.17px;color:#fff">n</div>
<div style="position:absolute;white-space:nowrap;left:492.51px;top:523.00px;font-size:4.5px;line-height:5.17px;color:#fff;letter-spacing:0.200px">Value</div>
<div style="position:absolute;white-space:nowrap;left:531.84px;top:513.00px;font-size:4.5px;line-height:5.17px;font-weight:bold;color:#fff;letter-spacing:0.300px">46-55 years</div>
<div style="position:absolute;white-space:nowrap;left:525.80px;top:523.00px;font-size:4.5px;line-height:5.17px;color:#fff">n</div>
<div style="position:absolute;white-space:nowrap;left:549.06px;top:523.00px;font-size:4.5px;line-height:5.17px;color:#fff;letter-spacing:0.200px">Value</div>
<div style="position:absolute;white-space:nowrap;left:588.34px;top:513.00px;font-size:4.5px;line-height:5.17px;font-weight:bold;color:#fff;letter-spacing:0.300px">56-64 years</div>
<div style="position:absolute;white-space:nowrap;left:582.25px;top:523.00px;font-size:4.5px;line-height:5.17px;color:#fff">n</div>
<div style="position:absolute;white-space:nowrap;left:606.01px;top:523.00px;font-size:4.5px;line-height:5.17px;color:#fff;letter-spacing:0.200px">Value</div>
<div style="position:absolute;white-space:nowrap;left:647.61px;top:513.00px;font-size:4.5px;line-height:5.17px;font-weight:bold;color:#fff;letter-spacing:0.300px">≥65 years</div>
<div style="position:absolute;white-space:nowrap;left:639.30px;top:523.00px;font-size:4.5px;line-height:5.17px;color:#fff">n</div>
<div style="position:absolute;white-space:nowrap;left:663.01px;top:523.00px;font-size:4.5px;line-height:5.17px;color:#fff;letter-spacing:0.200px">Value</div>
<div style="position:absolute;white-space:nowrap;left:692.89px;top:523.00px;font-size:4.5px;line-height:5.17px;color:#fff;letter-spacing:0.200px"><i>p</i> value</div>
<div style="position:absolute;left:402.00px;top:530.20px;width:312.00px;height:5.70px;background:#5b8197"></div>
<div style="position:absolute;white-space:nowrap;left:402.80px;top:530.00px;font-size:4.5px;line-height:5.17px;font-weight:bold;color:#fff;letter-spacing:0.150px">NIS2+<span class="tm">™</span></div>
<div style="position:absolute;left:402.00px;top:560.20px;width:312.00px;height:5.60px;background:#5b8197"></div>
<div style="position:absolute;white-space:nowrap;left:402.80px;top:560.00px;font-size:4.5px;line-height:5.17px;font-weight:bold;color:#fff;letter-spacing:0.150px">FIB-4/NFS/APRI</div>
<div style="position:absolute;left:402.00px;top:625.00px;width:312.00px;height:5.70px;background:#5b8197"></div>
<div style="position:absolute;white-space:nowrap;left:402.80px;top:624.00px;font-size:4.5px;line-height:5.17px;font-weight:bold;color:#fff;letter-spacing:0.150px">ELF<span class="tm">™</span></div>
<div style="position:absolute;left:402.00px;top:661.40px;width:312.00px;height:5.90px;background:#5b8197"></div>
<div style="position:absolute;white-space:nowrap;left:402.80px;top:661.00px;font-size:4.5px;line-height:5.17px;font-weight:bold;color:#fff;letter-spacing:0.150px">Other biomarkers</div>
<div style="position:absolute;white-space:nowrap;left:401.00px;top:538.00px;font-size:4.6px;line-height:5.29px;color:#4a4a4a;letter-spacing:0.100px">NIS2+<span class="tm">™</span> **</div>
<div style="position:absolute;white-space:nowrap;left:466.13px;top:538.00px;font-size:4.7px;line-height:5.4px;color:#5e5e5e;letter-spacing:0.100px">200</div>
<div style="position:absolute;white-space:nowrap;left:487.96px;top:538.00px;font-size:4.7px;line-height:5.4px;color:#5e5e5e;letter-spacing:0.100px">0.52±0.29</div>
<div style="position:absolute;white-space:nowrap;left:523.33px;top:538.00px;font-size:4.7px;line-height:5.4px;color:#5e5e5e;letter-spacing:0.100px">200</div>
<div style="position:absolute;white-space:nowrap;left:544.51px;top:538.00px;font-size:4.7px;line-height:5.4px;color:#5e5e5e;letter-spacing:0.100px">0.54±0.29</div>
<div style="position:absolute;white-space:nowrap;left:579.78px;top:538.00px;font-size:4.7px;line-height:5.4px;color:#5e5e5e;letter-spacing:0.100px">200</div>
<div style="position:absolute;white-space:nowrap;left:601.46px;top:538.00px;font-size:4.7px;line-height:5.4px;color:#5e5e5e;letter-spacing:0.100px">0.53±0.26</div>
<div style="position:absolute;white-space:nowrap;left:636.83px;top:538.00px;font-size:4.7px;line-height:5.4px;color:#5e5e5e;letter-spacing:0.100px">200</div>
<div style="position:absolute;white-space:nowrap;left:658.46px;top:538.00px;font-size:4.7px;line-height:5.4px;color:#5e5e5e;letter-spacing:0.100px">0.55±0.28</div>
<div style="position:absolute;white-space:nowrap;left:693.74px;top:538.00px;font-size:4.7px;line-height:5.4px;font-weight:bold;color:#3aa57f;letter-spacing:0.050px">0.6051</div>
<div style="position:absolute;white-space:nowrap;left:401.00px;top:545.00px;font-size:4.6px;line-height:5.29px;color:#4a4a4a;letter-spacing:0.100px">miR34-a (FoldC)*</div>
<div style="position:absolute;white-space:nowrap;left:466.13px;top:545.00px;font-size:4.7px;line-height:5.4px;color:#5e5e5e;letter-spacing:0.100px">200</div>
<div style="position:absolute;white-space:nowrap;left:487.96px;top:545.00px;font-size:4.7px;line-height:5.4px;color:#5e5e5e;letter-spacing:0.100px">1.18±1.85</div>
<div style="position:absolute;white-space:nowrap;left:523.33px;top:545.00px;font-size:4.7px;line-height:5.4px;color:#5e5e5e;letter-spacing:0.100px">200</div>
<div style="position:absolute;white-space:nowrap;left:545.87px;top:545.00px;font-size:4.7px;line-height:5.4px;color:#5e5e5e;letter-spacing:0.100px">1.05±1.1</div>
<div style="position:absolute;white-space:nowrap;left:579.78px;top:545.00px;font-size:4.7px;line-height:5.4px;color:#5e5e5e;letter-spacing:0.100px">200</div>
<div style="position:absolute;white-space:nowrap;left:601.46px;top:545.00px;font-size:4.7px;line-height:5.4px;color:#5e5e5e;letter-spacing:0.100px">0.88±0.97</div>
<div style="position:absolute;white-space:nowrap;left:636.83px;top:545.00px;font-size:4.7px;line-height:5.4px;color:#5e5e5e;letter-spacing:0.100px">200</div>
<div style="position:absolute;white-space:nowrap;left:658.46px;top:545.00px;font-size:4.7px;line-height:5.4px;color:#5e5e5e;letter-spacing:0.100px">0.83±0.89</div>
<div style="position:absolute;white-space:nowrap;left:693.61px;top:545.00px;font-size:4.7px;line-height:5.4px;color:#5e5e5e;letter-spacing:0.100px">0.1398</div>
<div style="position:absolute;white-space:nowrap;left:401.00px;top:553.00px;font-size:4.6px;line-height:5.29px;color:#4a4a4a;letter-spacing:0.100px">YKL-40 (ng/mL)*</div>
<div style="position:absolute;white-space:nowrap;left:466.13px;top:553.00px;font-size:4.7px;line-height:5.4px;color:#5e5e5e;letter-spacing:0.100px">200</div>
<div style="position:absolute;white-space:nowrap;left:485.25px;top:553.00px;font-size:4.7px;line-height:5.4px;color:#5e5e5e;letter-spacing:0.100px">58.32±57.17</div>
<div style="position:absolute;white-space:nowrap;left:523.33px;top:553.00px;font-size:4.7px;line-height:5.4px;color:#5e5e5e;letter-spacing:0.100px">200</div>
<div style="position:absolute;white-space:nowrap;left:541.80px;top:553.00px;font-size:4.7px;line-height:5.4px;color:#5e5e5e;letter-spacing:0.100px">78.96±87.86</div>
<div style="position:absolute;white-space:nowrap;left:579.78px;top:553.00px;font-size:4.7px;line-height:5.4px;color:#5e5e5e;letter-spacing:0.100px">200</div>
<div style="position:absolute;white-space:nowrap;left:598.75px;top:553.00px;font-size:4.7px;line-height:5.4px;color:#5e5e5e;letter-spacing:0.100px">92.15±87.96</div>
<div style="position:absolute;white-space:nowrap;left:636.83px;top:553.00px;font-size:4.7px;line-height:5.4px;color:#5e5e5e;letter-spacing:0.100px">200</div>
<div style="position:absolute;white-space:nowrap;left:653.03px;top:553.00px;font-size:4.7px;line-height:5.4px;color:#5e5e5e;letter-spacing:0.100px">133.78±153.53</div>
<div style="position:absolute;white-space:nowrap;left:692.19px;top:553.00px;font-size:4.7px;line-height:5.4px;color:#5e5e5e;letter-spacing:0.100px">&lt;0.0001</div>
<div style="position:absolute;white-space:nowrap;left:401.00px;top:567.00px;font-size:4.6px;line-height:5.29px;color:#4a4a4a;letter-spacing:0.100px">FIB-4*</div>
<div style="position:absolute;white-space:nowrap;left:466.13px;top:567.00px;font-size:4.7px;line-height:5.4px;color:#5e5e5e;letter-spacing:0.100px">200</div>
<div style="position:absolute;white-space:nowrap;left:489.32px;top:567.00px;font-size:4.7px;line-height:5.4px;color:#5e5e5e;letter-spacing:0.100px">0.9±0.58</div>
<div style="position:absolute;white-space:nowrap;left:523.33px;top:567.00px;font-size:4.7px;line-height:5.4px;color:#5e5e5e;letter-spacing:0.100px">200</div>
<div style="position:absolute;white-space:nowrap;left:544.51px;top:567.00px;font-size:4.7px;line-height:5.4px;color:#5e5e5e;letter-spacing:0.100px">1.29±0.72</div>
<div style="position:absolute;white-space:nowrap;left:579.78px;top:567.00px;font-size:4.7px;line-height:5.4px;color:#5e5e5e;letter-spacing:0.100px">200</div>
<div style="position:absolute;white-space:nowrap;left:601.46px;top:567.00px;font-size:4.7px;line-height:5.4px;color:#5e5e5e;letter-spacing:0.100px">1.56±0.76</div>
<div style="position:absolute;white-space:nowrap;left:636.83px;top:567.00px;font-size:4.7px;line-height:5.4px;color:#5e5e5e;letter-spacing:0.100px">200</div>
<div style="position:absolute;white-space:nowrap;left:658.46px;top:567.00px;font-size:4.7px;line-height:5.4px;color:#5e5e5e;letter-spacing:0.100px">1.87±0.91</div>
<div style="position:absolute;white-space:nowrap;left:692.34px;top:567.00px;font-size:4.7px;line-height:5.4px;font-weight:bold;color:#a52a2a;letter-spacing:0.050px">&lt;0.0001</div>
<div style="position:absolute;white-space:nowrap;left:401.00px;top:574.00px;font-size:4.6px;line-height:5.29px;color:#4a4a4a;letter-spacing:0.100px">NFS</div>
<div style="position:absolute;white-space:nowrap;left:466.13px;top:574.00px;font-size:4.7px;line-height:5.4px;color:#5e5e5e;letter-spacing:0.100px">200</div>
<div style="position:absolute;white-space:nowrap;left:487.13px;top:574.00px;font-size:4.7px;line-height:5.4px;color:#5e5e5e;letter-spacing:0.100px">-2.25±1.26</div>
<div style="position:absolute;white-space:nowrap;left:523.33px;top:574.00px;font-size:4.7px;line-height:5.4px;color:#5e5e5e;letter-spacing:0.100px">200</div>
<div style="position:absolute;white-space:nowrap;left:546.39px;top:574.00px;font-size:4.7px;line-height:5.4px;color:#5e5e5e;letter-spacing:0.100px">-1.5±1.4</div>
<div style="position:absolute;white-space:nowrap;left:579.78px;top:574.00px;font-size:4.7px;line-height:5.4px;color:#5e5e5e;letter-spacing:0.100px">200</div>
<div style="position:absolute;white-space:nowrap;left:600.63px;top:574.00px;font-size:4.7px;line-height:5.4px;color:#5e5e5e;letter-spacing:0.100px">-0.93±1.24</div>
<div style="position:absolute;white-space:nowrap;left:636.83px;top:574.00px;font-size:4.7px;line-height:5.4px;color:#5e5e5e;letter-spacing:0.100px">200</div>
<div style="position:absolute;white-space:nowrap;left:657.63px;top:574.00px;font-size:4.7px;line-height:5.4px;color:#5e5e5e;letter-spacing:0.100px">-0.45±1.26</div>
<div style="position:absolute;white-space:nowrap;left:692.34px;top:574.00px;font-size:4.7px;line-height:5.4px;font-weight:bold;color:#a52a2a;letter-spacing:0.050px">&lt;0.0001</div>
<div style="position:absolute;white-space:nowrap;left:401.00px;top:582.00px;font-size:4.6px;line-height:5.29px;color:#4a4a4a;letter-spacing:0.100px">APRI*</div>
<div style="position:absolute;white-space:nowrap;left:466.13px;top:582.00px;font-size:4.7px;line-height:5.4px;color:#5e5e5e;letter-spacing:0.100px">200</div>
<div style="position:absolute;white-space:nowrap;left:487.96px;top:582.00px;font-size:4.7px;line-height:5.4px;color:#5e5e5e;letter-spacing:0.100px">0.54±0.62</div>
<div style="position:absolute;white-space:nowrap;left:523.33px;top:582.00px;font-size:4.7px;line-height:5.4px;color:#5e5e5e;letter-spacing:0.100px">200</div>
<div style="position:absolute;white-space:nowrap;left:544.51px;top:582.00px;font-size:4.7px;line-height:5.4px;color:#5e5e5e;letter-spacing:0.100px">0.52±0.44</div>
<div style="position:absolute;white-space:nowrap;left:579.78px;top:582.00px;font-size:4.7px;line-height:5.4px;color:#5e5e5e;letter-spacing:0.100px">200</div>
<div style="position:absolute;white-space:nowrap;left:601.46px;top:582.00px;font-size:4.7px;line-height:5.4px;color:#5e5e5e;letter-spacing:0.100px">0.49±0.34</div>
<div style="position:absolute;white-space:nowrap;left:636.83px;top:582.00px;font-size:4.7px;line-height:5.4px;color:#5e5e5e;letter-spacing:0.100px">200</div>
<div style="position:absolute;white-space:nowrap;left:659.82px;top:582.00px;font-size:4.7px;line-height:5.4px;color:#5e5e5e;letter-spacing:0.100px">0.5±0.33</div>
<div style="position:absolute;white-space:nowrap;left:693.74px;top:582.00px;font-size:4.7px;line-height:5.4px;font-weight:bold;color:#3aa57f;letter-spacing:0.050px">0.9059</div>
<div style="position:absolute;white-space:nowrap;left:401.00px;top:589.00px;font-size:4.6px;line-height:5.29px;color:#4a4a4a;letter-spacing:0.100px">AST (IU/L)*</div>
<div style="position:absolute;white-space:nowrap;left:466.13px;top:589.00px;font-size:4.7px;line-height:5.4px;color:#5e5e5e;letter-spacing:0.100px">200</div>
<div style="position:absolute;white-space:nowrap;left:485.25px;top:589.00px;font-size:4.7px;line-height:5.4px;color:#5e5e5e;letter-spacing:0.100px">45.84±43.45</div>
<div style="position:absolute;white-space:nowrap;left:523.33px;top:589.00px;font-size:4.7px;line-height:5.4px;color:#5e5e5e;letter-spacing:0.100px">200</div>
<div style="position:absolute;white-space:nowrap;left:541.80px;top:589.00px;font-size:4.7px;line-height:5.4px;color:#5e5e5e;letter-spacing:0.100px">41.38±31.19</div>
<div style="position:absolute;white-space:nowrap;left:579.78px;top:589.00px;font-size:4.7px;line-height:5.4px;color:#5e5e5e;letter-spacing:0.100px">200</div>
<div style="position:absolute;white-space:nowrap;left:600.11px;top:589.00px;font-size:4.7px;line-height:5.4px;color:#5e5e5e;letter-spacing:0.100px">36.7±20.92</div>
<div style="position:absolute;white-space:nowrap;left:636.83px;top:589.00px;font-size:4.7px;line-height:5.4px;color:#5e5e5e;letter-spacing:0.100px">200</div>
<div style="position:absolute;white-space:nowrap;left:657.11px;top:589.00px;font-size:4.7px;line-height:5.4px;color:#5e5e5e;letter-spacing:0.100px">38.2±23.78</div>
<div style="position:absolute;white-space:nowrap;left:694.97px;top:589.00px;font-size:4.7px;line-height:5.4px;color:#5e5e5e;letter-spacing:0.100px">0.215</div>
<div style="position:absolute;white-space:nowrap;left:401.00px;top:596.00px;font-size:4.6px;line-height:5.29px;color:#4a4a4a;letter-spacing:0.100px">ALT (IU/L)*</div>
<div style="position:absolute;white-space:nowrap;left:466.13px;top:596.00px;font-size:4.7px;line-height:5.4px;color:#5e5e5e;letter-spacing:0.100px">200</div>
<div style="position:absolute;white-space:nowrap;left:485.25px;top:596.00px;font-size:4.7px;line-height:5.4px;color:#5e5e5e;letter-spacing:0.100px">68.39±56.31</div>
<div style="position:absolute;white-space:nowrap;left:523.33px;top:596.00px;font-size:4.7px;line-height:5.4px;color:#5e5e5e;letter-spacing:0.100px">200</div>
<div style="position:absolute;white-space:nowrap;left:543.16px;top:596.00px;font-size:4.7px;line-height:5.4px;color:#5e5e5e;letter-spacing:0.100px">56.77±44.1</div>
<div style="position:absolute;white-space:nowrap;left:579.78px;top:596.00px;font-size:4.7px;line-height:5.4px;color:#5e5e5e;letter-spacing:0.100px">200</div>
<div style="position:absolute;white-space:nowrap;left:598.75px;top:596.00px;font-size:4.7px;line-height:5.4px;color:#5e5e5e;letter-spacing:0.100px">47.84±29.03</div>
<div style="position:absolute;white-space:nowrap;left:636.83px;top:596.00px;font-size:4.7px;line-height:5.4px;color:#5e5e5e;letter-spacing:0.100px">200</div>
<div style="position:absolute;white-space:nowrap;left:655.75px;top:596.00px;font-size:4.7px;line-height:5.4px;color:#5e5e5e;letter-spacing:0.100px">47.02±32.39</div>
<div style="position:absolute;white-space:nowrap;left:692.19px;top:596.00px;font-size:4.7px;line-height:5.4px;color:#5e5e5e;letter-spacing:0.100px">&lt;0.0001</div>
<div style="position:absolute;white-space:nowrap;left:401.00px;top:603.00px;font-size:4.6px;line-height:5.29px;color:#4a4a4a;letter-spacing:0.100px">Platelet (10e9/L)</div>
<div style="position:absolute;white-space:nowrap;left:466.13px;top:603.00px;font-size:4.7px;line-height:5.4px;color:#5e5e5e;letter-spacing:0.100px">200</div>
<div style="position:absolute;white-space:nowrap;left:483.89px;top:603.00px;font-size:4.7px;line-height:5.4px;color:#5e5e5e;letter-spacing:0.100px">251.32±61.29</div>
<div style="position:absolute;white-space:nowrap;left:523.33px;top:603.00px;font-size:4.7px;line-height:5.4px;color:#5e5e5e;letter-spacing:0.100px">200</div>
<div style="position:absolute;white-space:nowrap;left:541.80px;top:603.00px;font-size:4.7px;line-height:5.4px;color:#5e5e5e;letter-spacing:0.100px">240.4±73.16</div>
<div style="position:absolute;white-space:nowrap;left:579.78px;top:603.00px;font-size:4.7px;line-height:5.4px;color:#5e5e5e;letter-spacing:0.100px">200</div>
<div style="position:absolute;white-space:nowrap;left:597.39px;top:603.00px;font-size:4.7px;line-height:5.4px;color:#5e5e5e;letter-spacing:0.100px">224.41±64.84</div>
<div style="position:absolute;white-space:nowrap;left:636.83px;top:603.00px;font-size:4.7px;line-height:5.4px;color:#5e5e5e;letter-spacing:0.100px">200</div>
<div style="position:absolute;white-space:nowrap;left:655.75px;top:603.00px;font-size:4.7px;line-height:5.4px;color:#5e5e5e;letter-spacing:0.100px">223.77±73.5</div>
<div style="position:absolute;white-space:nowrap;left:692.19px;top:603.00px;font-size:4.7px;line-height:5.4px;color:#5e5e5e;letter-spacing:0.100px">&lt;0.0001</div>
<div style="position:absolute;white-space:nowrap;left:401.00px;top:610.00px;font-size:4.6px;line-height:5.29px;color:#4a4a4a;letter-spacing:0.100px">FPG (mmol/L)*</div>
<div style="position:absolute;white-space:nowrap;left:466.13px;top:610.00px;font-size:4.7px;line-height:5.4px;color:#5e5e5e;letter-spacing:0.100px">200</div>
<div style="position:absolute;white-space:nowrap;left:488.14px;top:610.00px;font-size:4.7px;line-height:5.4px;color:#5e5e5e;letter-spacing:0.100px">5.89±2.11</div>
<div style="position:absolute;white-space:nowrap;left:523.33px;top:610.00px;font-size:4.7px;line-height:5.4px;color:#5e5e5e;letter-spacing:0.100px">200</div>
<div style="position:absolute;white-space:nowrap;left:544.51px;top:610.00px;font-size:4.7px;line-height:5.4px;color:#5e5e5e;letter-spacing:0.100px">6.08±2.04</div>
<div style="position:absolute;white-space:nowrap;left:579.78px;top:610.00px;font-size:4.7px;line-height:5.4px;color:#5e5e5e;letter-spacing:0.100px">200</div>
<div style="position:absolute;white-space:nowrap;left:601.46px;top:610.00px;font-size:4.7px;line-height:5.4px;color:#5e5e5e;letter-spacing:0.100px">6.02±1.67</div>
<div style="position:absolute;white-space:nowrap;left:636.83px;top:610.00px;font-size:4.7px;line-height:5.4px;color:#5e5e5e;letter-spacing:0.100px">200</div>
<div style="position:absolute;white-space:nowrap;left:658.46px;top:610.00px;font-size:4.7px;line-height:5.4px;color:#5e5e5e;letter-spacing:0.100px">6.04±1.74</div>
<div style="position:absolute;white-space:nowrap;left:693.61px;top:610.00px;font-size:4.7px;line-height:5.4px;color:#5e5e5e;letter-spacing:0.100px">0.4489</div>
<div style="position:absolute;white-space:nowrap;left:401.00px;top:618.00px;font-size:4.6px;line-height:5.29px;color:#4a4a4a;letter-spacing:0.100px">Albumin (g/L)</div>
<div style="position:absolute;white-space:nowrap;left:466.13px;top:618.00px;font-size:4.7px;line-height:5.4px;color:#5e5e5e;letter-spacing:0.100px">200</div>
<div style="position:absolute;white-space:nowrap;left:486.61px;top:618.00px;font-size:4.7px;line-height:5.4px;color:#5e5e5e;letter-spacing:0.100px">46.14±3.23</div>
<div style="position:absolute;white-space:nowrap;left:523.33px;top:618.00px;font-size:4.7px;line-height:5.4px;color:#5e5e5e;letter-spacing:0.100px">200</div>
<div style="position:absolute;white-space:nowrap;left:544.51px;top:618.00px;font-size:4.7px;line-height:5.4px;color:#5e5e5e;letter-spacing:0.100px">45.97±3.2</div>
<div style="position:absolute;white-space:nowrap;left:579.78px;top:618.00px;font-size:4.7px;line-height:5.4px;color:#5e5e5e;letter-spacing:0.100px">200</div>
<div style="position:absolute;white-space:nowrap;left:600.11px;top:618.00px;font-size:4.7px;line-height:5.4px;color:#5e5e5e;letter-spacing:0.100px">45.64±2.95</div>
<div style="position:absolute;white-space:nowrap;left:636.83px;top:618.00px;font-size:4.7px;line-height:5.4px;color:#5e5e5e;letter-spacing:0.100px">200</div>
<div style="position:absolute;white-space:nowrap;left:657.11px;top:618.00px;font-size:4.7px;line-height:5.4px;color:#5e5e5e;letter-spacing:0.100px">44.69±3.03</div>
<div style="position:absolute;white-space:nowrap;left:692.19px;top:618.00px;font-size:4.7px;line-height:5.4px;color:#5e5e5e;letter-spacing:0.100px">&lt;0.0001</div>
<div style="position:absolute;white-space:nowrap;left:401.00px;top:632.00px;font-size:4.6px;line-height:5.29px;color:#4a4a4a;letter-spacing:0.100px">ELF<span class="tm">™</span></div>
<div style="position:absolute;white-space:nowrap;left:466.13px;top:632.00px;font-size:4.7px;line-height:5.4px;color:#5e5e5e;letter-spacing:0.100px">200</div>
<div style="position:absolute;white-space:nowrap;left:487.96px;top:632.00px;font-size:4.7px;line-height:5.4px;color:#5e5e5e;letter-spacing:0.100px">8.92±0.98</div>
<div style="position:absolute;white-space:nowrap;left:523.33px;top:632.00px;font-size:4.7px;line-height:5.4px;color:#5e5e5e;letter-spacing:0.100px">200</div>
<div style="position:absolute;white-space:nowrap;left:544.51px;top:632.00px;font-size:4.7px;line-height:5.4px;color:#5e5e5e;letter-spacing:0.100px">9.38±0.88</div>
<div style="position:absolute;white-space:nowrap;left:579.78px;top:632.00px;font-size:4.7px;line-height:5.4px;color:#5e5e5e;letter-spacing:0.100px">200</div>
<div style="position:absolute;white-space:nowrap;left:601.46px;top:632.00px;font-size:4.7px;line-height:5.4px;color:#5e5e5e;letter-spacing:0.100px">9.63±0.88</div>
<div style="position:absolute;white-space:nowrap;left:636.83px;top:632.00px;font-size:4.7px;line-height:5.4px;color:#5e5e5e;letter-spacing:0.100px">200</div>
<div style="position:absolute;white-space:nowrap;left:657.11px;top:632.00px;font-size:4.7px;line-height:5.4px;color:#5e5e5e;letter-spacing:0.100px">10.03±1.02</div>
<div style="position:absolute;white-space:nowrap;left:692.34px;top:632.00px;font-size:4.7px;line-height:5.4px;font-weight:bold;color:#a52a2a;letter-spacing:0.050px">&lt;0.0001</div>
<div style="position:absolute;white-space:nowrap;left:401.00px;top:640.00px;font-size:4.6px;line-height:5.29px;color:#4a4a4a;letter-spacing:0.100px">Hyaluronic acid (ng/mL)*</div>
<div style="position:absolute;white-space:nowrap;left:466.13px;top:640.00px;font-size:4.7px;line-height:5.4px;color:#5e5e5e;letter-spacing:0.100px">200</div>
<div style="position:absolute;white-space:nowrap;left:486.78px;top:640.00px;font-size:4.7px;line-height:5.4px;color:#5e5e5e;letter-spacing:0.100px">38.4±49.11</div>
<div style="position:absolute;white-space:nowrap;left:523.33px;top:640.00px;font-size:4.7px;line-height:5.4px;color:#5e5e5e;letter-spacing:0.100px">200</div>
<div style="position:absolute;white-space:nowrap;left:541.80px;top:640.00px;font-size:4.7px;line-height:5.4px;color:#5e5e5e;letter-spacing:0.100px">58.64±53.16</div>
<div style="position:absolute;white-space:nowrap;left:579.78px;top:640.00px;font-size:4.7px;line-height:5.4px;color:#5e5e5e;letter-spacing:0.100px">200</div>
<div style="position:absolute;white-space:nowrap;left:598.75px;top:640.00px;font-size:4.7px;line-height:5.4px;color:#5e5e5e;letter-spacing:0.100px">79.63±84.18</div>
<div style="position:absolute;white-space:nowrap;left:636.83px;top:640.00px;font-size:4.7px;line-height:5.4px;color:#5e5e5e;letter-spacing:0.100px">200</div>
<div style="position:absolute;white-space:nowrap;left:654.39px;top:640.00px;font-size:4.7px;line-height:5.4px;color:#5e5e5e;letter-spacing:0.100px">133.14±231.5</div>
<div style="position:absolute;white-space:nowrap;left:692.19px;top:640.00px;font-size:4.7px;line-height:5.4px;color:#5e5e5e;letter-spacing:0.100px">&lt;0.0001</div>
<div style="position:absolute;white-space:nowrap;left:401.00px;top:647.00px;font-size:4.6px;line-height:5.29px;color:#4a4a4a;letter-spacing:0.100px">P3NP (ng/mL)*</div>
<div style="position:absolute;white-space:nowrap;left:466.13px;top:647.00px;font-size:4.7px;line-height:5.4px;color:#5e5e5e;letter-spacing:0.100px">200</div>
<div style="position:absolute;white-space:nowrap;left:486.61px;top:647.00px;font-size:4.7px;line-height:5.4px;color:#5e5e5e;letter-spacing:0.100px">10.47±5.18</div>
<div style="position:absolute;white-space:nowrap;left:523.33px;top:647.00px;font-size:4.7px;line-height:5.4px;color:#5e5e5e;letter-spacing:0.100px">200</div>
<div style="position:absolute;white-space:nowrap;left:544.51px;top:647.00px;font-size:4.7px;line-height:5.4px;color:#5e5e5e;letter-spacing:0.100px">10.74±5.3</div>
<div style="position:absolute;white-space:nowrap;left:579.78px;top:647.00px;font-size:4.7px;line-height:5.4px;color:#5e5e5e;letter-spacing:0.100px">200</div>
<div style="position:absolute;white-space:nowrap;left:600.11px;top:647.00px;font-size:4.7px;line-height:5.4px;color:#5e5e5e;letter-spacing:0.100px">10.51±5.81</div>
<div style="position:absolute;white-space:nowrap;left:636.83px;top:647.00px;font-size:4.7px;line-height:5.4px;color:#5e5e5e;letter-spacing:0.100px">200</div>
<div style="position:absolute;white-space:nowrap;left:657.11px;top:647.00px;font-size:4.7px;line-height:5.4px;color:#5e5e5e;letter-spacing:0.100px">12.07±6.39</div>
<div style="position:absolute;white-space:nowrap;left:693.61px;top:647.00px;font-size:4.7px;line-height:5.4px;color:#5e5e5e;letter-spacing:0.100px">0.0058</div>
<div style="position:absolute;white-space:nowrap;left:401.00px;top:654.00px;font-size:4.6px;line-height:5.29px;color:#4a4a4a;letter-spacing:0.100px">TIMP1 (ng/mL)*</div>
<div style="position:absolute;white-space:nowrap;left:466.13px;top:654.00px;font-size:4.7px;line-height:5.4px;color:#5e5e5e;letter-spacing:0.100px">200</div>
<div style="position:absolute;white-space:nowrap;left:483.89px;top:654.00px;font-size:4.7px;line-height:5.4px;color:#5e5e5e;letter-spacing:0.100px">258.83±67.01</div>
<div style="position:absolute;white-space:nowrap;left:523.33px;top:654.00px;font-size:4.7px;line-height:5.4px;color:#5e5e5e;letter-spacing:0.100px">200</div>
<div style="position:absolute;white-space:nowrap;left:540.44px;top:654.00px;font-size:4.7px;line-height:5.4px;color:#5e5e5e;letter-spacing:0.100px">260.24±63.13</div>
<div style="position:absolute;white-space:nowrap;left:579.78px;top:654.00px;font-size:4.7px;line-height:5.4px;color:#5e5e5e;letter-spacing:0.100px">200</div>
<div style="position:absolute;white-space:nowrap;left:597.39px;top:654.00px;font-size:4.7px;line-height:5.4px;color:#5e5e5e;letter-spacing:0.100px">266.39±68.82</div>
<div style="position:absolute;white-space:nowrap;left:636.83px;top:654.00px;font-size:4.7px;line-height:5.4px;color:#5e5e5e;letter-spacing:0.100px">200</div>
<div style="position:absolute;white-space:nowrap;left:655.75px;top:654.00px;font-size:4.7px;line-height:5.4px;color:#5e5e5e;letter-spacing:0.100px">279.27±80.3</div>
<div style="position:absolute;white-space:nowrap;left:693.61px;top:654.00px;font-size:4.7px;line-height:5.4px;color:#5e5e5e;letter-spacing:0.100px">0.0364</div>
<div style="position:absolute;white-space:nowrap;left:401.00px;top:669.00px;font-size:4.6px;line-height:5.29px;color:#4a4a4a;letter-spacing:0.100px">AST/ALT ratio*</div>
<div style="position:absolute;white-space:nowrap;left:466.13px;top:669.00px;font-size:4.7px;line-height:5.4px;color:#5e5e5e;letter-spacing:0.100px">200</div>
<div style="position:absolute;white-space:nowrap;left:487.96px;top:669.00px;font-size:4.7px;line-height:5.4px;color:#5e5e5e;letter-spacing:0.100px">0.73±0.31</div>
<div style="position:absolute;white-space:nowrap;left:523.33px;top:669.00px;font-size:4.7px;line-height:5.4px;color:#5e5e5e;letter-spacing:0.100px">200</div>
<div style="position:absolute;white-space:nowrap;left:545.87px;top:669.00px;font-size:4.7px;line-height:5.4px;color:#5e5e5e;letter-spacing:0.100px">0.81±0.3</div>
<div style="position:absolute;white-space:nowrap;left:579.78px;top:669.00px;font-size:4.7px;line-height:5.4px;color:#5e5e5e;letter-spacing:0.100px">200</div>
<div style="position:absolute;white-space:nowrap;left:601.46px;top:669.00px;font-size:4.7px;line-height:5.4px;color:#5e5e5e;letter-spacing:0.100px">0.83±0.25</div>
<div style="position:absolute;white-space:nowrap;left:636.83px;top:669.00px;font-size:4.7px;line-height:5.4px;color:#5e5e5e;letter-spacing:0.100px">200</div>
<div style="position:absolute;white-space:nowrap;left:661.18px;top:669.00px;font-size:4.7px;line-height:5.4px;color:#5e5e5e;letter-spacing:0.100px">0.9±0.4</div>
<div style="position:absolute;white-space:nowrap;left:692.34px;top:669.00px;font-size:4.7px;line-height:5.4px;font-weight:bold;color:#a52a2a;letter-spacing:0.050px">&lt;0.0001</div>
<div style="position:absolute;white-space:nowrap;left:401.00px;top:676.00px;font-size:4.6px;line-height:5.29px;color:#4a4a4a;letter-spacing:0.100px">A2M (g/L)</div>
<div style="position:absolute;white-space:nowrap;left:466.13px;top:676.00px;font-size:4.7px;line-height:5.4px;color:#5e5e5e;letter-spacing:0.100px">196</div>
<div style="position:absolute;white-space:nowrap;left:487.96px;top:676.00px;font-size:4.7px;line-height:5.4px;color:#5e5e5e;letter-spacing:0.100px">2.03±0.81</div>
<div style="position:absolute;white-space:nowrap;left:523.33px;top:676.00px;font-size:4.7px;line-height:5.4px;color:#5e5e5e;letter-spacing:0.100px">192</div>
<div style="position:absolute;white-space:nowrap;left:544.51px;top:676.00px;font-size:4.7px;line-height:5.4px;color:#5e5e5e;letter-spacing:0.100px">2.15±0.81</div>
<div style="position:absolute;white-space:nowrap;left:579.78px;top:676.00px;font-size:4.7px;line-height:5.4px;color:#5e5e5e;letter-spacing:0.100px">195</div>
<div style="position:absolute;white-space:nowrap;left:602.82px;top:676.00px;font-size:4.7px;line-height:5.4px;color:#5e5e5e;letter-spacing:0.100px">2.5±0.91</div>
<div style="position:absolute;white-space:nowrap;left:636.83px;top:676.00px;font-size:4.7px;line-height:5.4px;color:#5e5e5e;letter-spacing:0.100px">197</div>
<div style="position:absolute;white-space:nowrap;left:658.46px;top:676.00px;font-size:4.7px;line-height:5.4px;color:#5e5e5e;letter-spacing:0.100px">2.72±0.86</div>
<div style="position:absolute;white-space:nowrap;left:692.19px;top:676.00px;font-size:4.7px;line-height:5.4px;color:#5e5e5e;letter-spacing:0.100px">&lt;0.0001</div>
<div style="position:absolute;white-space:nowrap;left:401.00px;top:683.00px;font-size:4.6px;line-height:5.29px;color:#4a4a4a;letter-spacing:0.100px">GGT (IU/L)*</div>
<div style="position:absolute;white-space:nowrap;left:466.13px;top:683.00px;font-size:4.7px;line-height:5.4px;color:#5e5e5e;letter-spacing:0.100px">200</div>
<div style="position:absolute;white-space:nowrap;left:485.25px;top:683.00px;font-size:4.7px;line-height:5.4px;color:#5e5e5e;letter-spacing:0.100px">91.81±131.8</div>
<div style="position:absolute;white-space:nowrap;left:523.33px;top:683.00px;font-size:4.7px;line-height:5.4px;color:#5e5e5e;letter-spacing:0.100px">200</div>
<div style="position:absolute;white-space:nowrap;left:543.16px;top:683.00px;font-size:4.7px;line-height:5.4px;color:#5e5e5e;letter-spacing:0.100px">68.4±67.85</div>
<div style="position:absolute;white-space:nowrap;left:579.78px;top:683.00px;font-size:4.7px;line-height:5.4px;color:#5e5e5e;letter-spacing:0.100px">200</div>
<div style="position:absolute;white-space:nowrap;left:600.11px;top:683.00px;font-size:4.7px;line-height:5.4px;color:#5e5e5e;letter-spacing:0.100px">70.33±87.5</div>
<div style="position:absolute;white-space:nowrap;left:636.83px;top:683.00px;font-size:4.7px;line-height:5.4px;color:#5e5e5e;letter-spacing:0.100px">200</div>
<div style="position:absolute;white-space:nowrap;left:654.57px;top:683.00px;font-size:4.7px;line-height:5.4px;color:#5e5e5e;letter-spacing:0.100px">84.98±115.61</div>
<div style="position:absolute;white-space:nowrap;left:693.61px;top:683.00px;font-size:4.7px;line-height:5.4px;color:#5e5e5e;letter-spacing:0.100px">0.2093</div>
<div style="position:absolute;white-space:nowrap;left:401.00px;top:690.00px;font-size:4.6px;line-height:5.29px;color:#4a4a4a;letter-spacing:0.100px">ALP (IU/L)*</div>
<div style="position:absolute;white-space:nowrap;left:466.13px;top:690.00px;font-size:4.7px;line-height:5.4px;color:#5e5e5e;letter-spacing:0.100px">199</div>
<div style="position:absolute;white-space:nowrap;left:485.25px;top:690.00px;font-size:4.7px;line-height:5.4px;color:#5e5e5e;letter-spacing:0.100px">83.89±36.94</div>
<div style="position:absolute;white-space:nowrap;left:523.33px;top:690.00px;font-size:4.7px;line-height:5.4px;color:#5e5e5e;letter-spacing:0.100px">200</div>
<div style="position:absolute;white-space:nowrap;left:543.16px;top:690.00px;font-size:4.7px;line-height:5.4px;color:#5e5e5e;letter-spacing:0.100px">82.61±27.7</div>
<div style="position:absolute;white-space:nowrap;left:579.78px;top:690.00px;font-size:4.7px;line-height:5.4px;color:#5e5e5e;letter-spacing:0.100px">200</div>
<div style="position:absolute;white-space:nowrap;left:598.75px;top:690.00px;font-size:4.7px;line-height:5.4px;color:#5e5e5e;letter-spacing:0.100px">88.15±30.88</div>
<div style="position:absolute;white-space:nowrap;left:636.83px;top:690.00px;font-size:4.7px;line-height:5.4px;color:#5e5e5e;letter-spacing:0.100px">200</div>
<div style="position:absolute;white-space:nowrap;left:659.17px;top:690.00px;font-size:4.7px;line-height:5.4px;color:#5e5e5e;letter-spacing:0.100px">88±30.84</div>
<div style="position:absolute;white-space:nowrap;left:693.61px;top:690.00px;font-size:4.7px;line-height:5.4px;color:#5e5e5e;letter-spacing:0.100px">0.0671</div>
<div style="position:absolute;white-space:nowrap;left:401.00px;top:701.00px;font-size:4.2px;line-height:5.04px;font-style:italic;color:#555;letter-spacing:0.095px;word-spacing:0.189px">* indicates scores that have been log<sub>10</sub> transformed for p values computation; ** indicate variable that has been logit transformed for p values computation</div>
<div style="position:absolute;white-space:nowrap;left:406.70px;top:717.00px;font-size:7.8px;line-height:9.36px;color:#3c3c3c;letter-spacing:0.252px;word-spacing:0.333px;-webkit-text-stroke:0.13px #3c3c3c">Mean scores for FIB-4 and NFS significantly increased with age, driven notably by</div>
<div style="position:absolute;white-space:nowrap;left:400.30px;top:717.00px;font-size:7.8px;line-height:9.36px;color:#3c3c3c">•</div>
<div style="position:absolute;white-space:nowrap;left:406.70px;top:726.00px;font-size:7.8px;line-height:9.36px;color:#3c3c3c;letter-spacing:0.252px;word-spacing:0.053px;-webkit-text-stroke:0.13px #3c3c3c">the significant decrease of ALT and Platelet with age.</div>
<div style="position:absolute;white-space:nowrap;left:406.70px;top:736.00px;font-size:7.8px;line-height:9.36px;color:#3c3c3c;letter-spacing:0.252px;word-spacing:2.122px;-webkit-text-stroke:0.13px #3c3c3c">Mean scores for ELF<span class="tm">™</span> significantly increased with age, driven notably by the</div>
<div style="position:absolute;white-space:nowrap;left:400.30px;top:736.00px;font-size:7.8px;line-height:9.36px;color:#3c3c3c">•</div>
<div style="position:absolute;white-space:nowrap;left:406.70px;top:745.00px;font-size:7.8px;line-height:9.36px;color:#3c3c3c;letter-spacing:0.252px;word-spacing:0.315px;-webkit-text-stroke:0.13px #3c3c3c">significant increase of hyaluronic acid with age.</div>
<div style="position:absolute;white-space:nowrap;left:406.70px;top:755.00px;font-size:7.8px;line-height:9.36px;color:#3c3c3c;letter-spacing:0.252px;word-spacing:-1.300px;-webkit-text-stroke:0.13px #3c3c3c">AST/ALT means were also impacted, exhibiting increasing values with increasing age.</div>
<div style="position:absolute;white-space:nowrap;left:400.30px;top:755.00px;font-size:7.8px;line-height:9.36px;color:#3c3c3c">•</div>
<div style="position:absolute;white-space:nowrap;left:406.70px;top:765.00px;font-size:7.8px;line-height:9.36px;color:#3c3c3c;letter-spacing:0.252px;word-spacing:-0.189px;-webkit-text-stroke:0.13px #3c3c3c">Neither NIS2+<span class="tm">™</span> nor APRI was significantly impacted by age across groups.</div>
<div style="position:absolute;white-space:nowrap;left:400.30px;top:765.00px;font-size:7.8px;line-height:9.36px;color:#3c3c3c">•</div>
<!-- part_right -->
<div style="position:absolute;white-space:nowrap;left:807.75px;top:185.00px;font-size:13.0px;line-height:15.6px;font-weight:bold;color:#195678;letter-spacing:1.897px;transform:scaleX(0.9);transform-origin:0 50%">AGE IMPACT ON THE DETECTION OF INTENDED HISTOLOGIC ENDPOINTS</div>
<div style="position:absolute;white-space:nowrap;left:796.30px;top:214.00px;font-size:9.6px;line-height:11.52px;font-weight:bold;color:#222;letter-spacing:0.087px;word-spacing:0.131px">Figure 1. NIT score distributions by age group</div>
<div style="position:absolute;white-space:nowrap;left:825.05px;top:225.00px;font-size:9.6px;line-height:11.52px;font-weight:bold;color:#222;letter-spacing:0.185px;word-spacing:0.278px">and intended histologic endpoint</div>
<svg style="position:absolute;left:0;top:0" width="1484" height="921" viewBox="0 0 1484 921" font-family="'Liberation Sans',sans-serif"><text x="876.42" y="252.86" font-size="3.0" text-anchor="middle" fill="#222">Age</text><rect x="881.99" y="249.91" width="3.8" height="3.8" fill="#a9cde1" stroke="#6f8798" stroke-width="0.35"/><line x1="881.99" x2="885.79" y1="251.81" y2="251.81" stroke="#5a6b78" stroke-width="0.35"/><text x="887.09" y="252.68" font-size="2.7" text-anchor="start" fill="#333">≤45</text><rect x="895.37" y="249.91" width="3.8" height="3.8" fill="#74a9cf" stroke="#56728a" stroke-width="0.35"/><line x1="895.37" x2="899.17" y1="251.81" y2="251.81" stroke="#5a6b78" stroke-width="0.35"/><text x="900.47" y="252.68" font-size="2.7" text-anchor="start" fill="#333">46-55</text><rect x="910.14" y="249.91" width="3.8" height="3.8" fill="#4f8fc0" stroke="#41607c" stroke-width="0.35"/><line x1="910.14" x2="913.94" y1="251.81" y2="251.81" stroke="#5a6b78" stroke-width="0.35"/><text x="915.24" y="252.68" font-size="2.7" text-anchor="start" fill="#333">56-64</text><rect x="925.42" y="249.91" width="3.8" height="3.8" fill="#2c6ea8" stroke="#2f4f70" stroke-width="0.35"/><line x1="925.42" x2="929.22" y1="251.81" y2="251.81" stroke="#5a6b78" stroke-width="0.35"/><text x="930.52" y="252.68" font-size="2.7" text-anchor="start" fill="#333">≥65</text><path d="M805.2 262.59H866.0M805.2 269.47H866.0M805.2 276.35H866.0M805.2 283.24H866.0M805.2 290.12H866.0M805.2 297.01H866.0M805.2 303.89H866.0M805.2 310.77H866.0M805.2 317.66H866.0M822.13 261.6V318.7M849.75 261.6V318.7" stroke="#e9e9e9" stroke-width="0.35" fill="none"/><text x="796.49" y="263.59" font-size="3.6" text-anchor="start" font-weight="bold" fill="#111">A</text><text x="796.89" y="290.12" font-size="3.0" text-anchor="middle" font-weight="bold" fill="#222" transform="rotate(-90 796.89 290.12)">NIS2+™</text><text x="804.19" y="264.01" font-size="2.6" text-anchor="end" fill="#555">1.00</text><text x="804.19" y="277.56" font-size="2.6" text-anchor="end" fill="#555">0.75</text><text x="804.19" y="291.28" font-size="2.6" text-anchor="end" fill="#555">0.50</text><text x="804.19" y="304.83" font-size="2.6" text-anchor="end" fill="#555">0.25</text><text x="804.19" y="318.38" font-size="2.6" text-anchor="end" fill="#555">0.00</text><text x="822.13" y="323.26" font-size="2.6" text-anchor="middle" fill="#444">Non-at-risk NASH</text><text x="849.75" y="323.26" font-size="2.6" text-anchor="middle" fill="#444">At-risk NASH</text><line x1="814.40" x2="814.40" y1="265.19" y2="317.31" stroke="#5d676e" stroke-width="0.5"/><rect x="812.15" y="286.21" width="4.5" height="22.41" fill="#a9cde1" stroke="#6f8798" stroke-width="0.55"/><line x1="812.15" x2="816.65" y1="301.15" y2="301.15" stroke="#333d46" stroke-width="0.75"/><line x1="819.61" x2="819.61" y1="266.06" y2="316.09" stroke="#5d676e" stroke-width="0.5"/><rect x="817.36" y="286.56" width="4.5" height="21.20" fill="#74a9cf" stroke="#56728a" stroke-width="0.55"/><line x1="817.36" x2="821.86" y1="297.33" y2="297.33" stroke="#333d46" stroke-width="0.75"/><line x1="824.65" x2="824.65" y1="266.06" y2="315.57" stroke="#5d676e" stroke-width="0.5"/><rect x="822.40" y="285.52" width="4.5" height="18.76" fill="#4f8fc0" stroke="#41607c" stroke-width="0.55"/><line x1="822.40" x2="826.90" y1="295.59" y2="295.59" stroke="#333d46" stroke-width="0.75"/><line x1="829.86" x2="829.86" y1="265.19" y2="316.09" stroke="#5d676e" stroke-width="0.5"/><rect x="827.61" y="284.65" width="4.5" height="21.89" fill="#2c6ea8" stroke="#2f4f70" stroke-width="0.55"/><line x1="827.61" x2="832.11" y1="297.33" y2="297.33" stroke="#333d46" stroke-width="0.75"/><line x1="841.67" x2="841.67" y1="264.32" y2="314.70" stroke="#5d676e" stroke-width="0.5"/><rect x="839.42" y="268.14" width="4.5" height="19.11" fill="#a9cde1" stroke="#6f8798" stroke-width="0.55"/><line x1="839.42" x2="843.92" y1="275.27" y2="275.27" stroke="#333d46" stroke-width="0.75"/><line x1="847.06" x2="847.06" y1="264.32" y2="313.84" stroke="#5d676e" stroke-width="0.5"/><rect x="844.81" y="269.19" width="4.5" height="14.59" fill="#74a9cf" stroke="#56728a" stroke-width="0.55"/><line x1="844.81" x2="849.31" y1="274.40" y2="274.40" stroke="#333d46" stroke-width="0.75"/><line x1="852.45" x2="852.45" y1="265.19" y2="314.70" stroke="#5d676e" stroke-width="0.5"/><rect x="850.20" y="270.40" width="4.5" height="18.24" fill="#4f8fc0" stroke="#41607c" stroke-width="0.55"/><line x1="850.20" x2="854.70" y1="277.35" y2="277.35" stroke="#333d46" stroke-width="0.75"/><line x1="857.48" x2="857.48" y1="266.41" y2="295.59" stroke="#5d676e" stroke-width="0.5"/><rect x="855.23" y="270.40" width="4.5" height="12.33" fill="#2c6ea8" stroke="#2f4f70" stroke-width="0.55"/><line x1="855.23" x2="859.73" y1="276.14" y2="276.14" stroke="#333d46" stroke-width="0.75"/><circle cx="846.89" cy="306.02" r="0.4" fill="#9dbbd0"/><circle cx="846.89" cy="308.10" r="0.4" fill="#9dbbd0"/><circle cx="846.89" cy="310.01" r="0.4" fill="#9dbbd0"/><circle cx="857.48" cy="303.93" r="0.4" fill="#9dbbd0"/><circle cx="857.48" cy="311.58" r="0.4" fill="#9dbbd0"/><path d="M878.2 262.59H940.7M878.2 269.47H940.7M878.2 276.35H940.7M878.2 283.24H940.7M878.2 290.12H940.7M878.2 297.01H940.7M878.2 303.89H940.7M878.2 310.77H940.7M878.2 317.66H940.7M895.36 261.6V318.7M923.59 261.6V318.7" stroke="#e9e9e9" stroke-width="0.35" fill="none"/><text x="869.86" y="263.59" font-size="3.6" text-anchor="start" font-weight="bold" fill="#111">B</text><text x="870.26" y="290.12" font-size="3.0" text-anchor="middle" font-weight="bold" fill="#222" transform="rotate(-90 870.26 290.12)">FIB-4</text><text x="877.16" y="278.60" font-size="2.6" text-anchor="end" fill="#555">8.0</text><text x="877.16" y="296.49" font-size="2.6" text-anchor="end" fill="#555">1.0</text><text x="877.16" y="315.60" font-size="2.6" text-anchor="end" fill="#555">0.4</text><text x="895.36" y="323.26" font-size="2.6" text-anchor="middle" fill="#444">F≤2</text><text x="923.59" y="323.26" font-size="2.6" text-anchor="middle" fill="#444">F≥3</text><line x1="887.37" x2="887.37" y1="285.17" y2="314.70" stroke="#5d676e" stroke-width="0.5"/><rect x="885.12" y="298.20" width="4.5" height="7.47" fill="#a9cde1" stroke="#6f8798" stroke-width="0.55"/><line x1="885.12" x2="889.62" y1="302.02" y2="302.02" stroke="#333d46" stroke-width="0.75"/><line x1="892.58" x2="892.58" y1="282.56" y2="310.36" stroke="#5d676e" stroke-width="0.5"/><rect x="890.33" y="292.64" width="4.5" height="6.95" fill="#74a9cf" stroke="#56728a" stroke-width="0.55"/><line x1="890.33" x2="894.83" y1="295.94" y2="295.94" stroke="#333d46" stroke-width="0.75"/><line x1="898.14" x2="898.14" y1="278.22" y2="306.89" stroke="#5d676e" stroke-width="0.5"/><rect x="895.89" y="288.64" width="4.5" height="7.82" fill="#4f8fc0" stroke="#41607c" stroke-width="0.55"/><line x1="895.89" x2="900.39" y1="292.12" y2="292.12" stroke="#333d46" stroke-width="0.75"/><line x1="903.35" x2="903.35" y1="273.88" y2="303.41" stroke="#5d676e" stroke-width="0.5"/><rect x="901.10" y="284.65" width="4.5" height="7.99" fill="#2c6ea8" stroke="#2f4f70" stroke-width="0.55"/><line x1="901.10" x2="905.60" y1="289.51" y2="289.51" stroke="#333d46" stroke-width="0.75"/><line x1="915.51" x2="915.51" y1="277.35" y2="310.36" stroke="#5d676e" stroke-width="0.5"/><rect x="913.26" y="291.60" width="4.5" height="10.08" fill="#a9cde1" stroke="#6f8798" stroke-width="0.55"/><line x1="913.26" x2="917.76" y1="295.59" y2="295.59" stroke="#333d46" stroke-width="0.75"/><line x1="920.90" x2="920.90" y1="275.62" y2="301.67" stroke="#5d676e" stroke-width="0.5"/><rect x="918.65" y="285.52" width="4.5" height="10.08" fill="#74a9cf" stroke="#56728a" stroke-width="0.55"/><line x1="918.65" x2="923.15" y1="288.64" y2="288.64" stroke="#333d46" stroke-width="0.75"/><line x1="926.28" x2="926.28" y1="271.27" y2="299.94" stroke="#5d676e" stroke-width="0.5"/><rect x="924.03" y="281.70" width="4.5" height="9.21" fill="#4f8fc0" stroke="#41607c" stroke-width="0.55"/><line x1="924.03" x2="928.53" y1="286.04" y2="286.04" stroke="#333d46" stroke-width="0.75"/><line x1="931.67" x2="931.67" y1="267.80" y2="299.94" stroke="#5d676e" stroke-width="0.5"/><rect x="929.42" y="279.44" width="4.5" height="8.69" fill="#2c6ea8" stroke="#2f4f70" stroke-width="0.55"/><line x1="929.42" x2="933.92" y1="284.30" y2="284.30" stroke="#333d46" stroke-width="0.75"/><circle cx="887.37" cy="279.09" r="0.4" fill="#9dbbd0"/><circle cx="887.37" cy="280.83" r="0.4" fill="#9dbbd0"/><circle cx="892.58" cy="270.40" r="0.4" fill="#9dbbd0"/><circle cx="892.58" cy="274.75" r="0.4" fill="#9dbbd0"/><circle cx="892.58" cy="277.35" r="0.4" fill="#9dbbd0"/><circle cx="892.58" cy="279.96" r="0.4" fill="#9dbbd0"/><circle cx="898.14" cy="275.27" r="0.4" fill="#9dbbd0"/><circle cx="903.35" cy="263.80" r="0.4" fill="#9dbbd0"/><circle cx="892.58" cy="310.71" r="0.4" fill="#9dbbd0"/><circle cx="892.58" cy="317.31" r="0.4" fill="#9dbbd0"/><circle cx="898.14" cy="308.80" r="0.4" fill="#9dbbd0"/><circle cx="915.51" cy="271.79" r="0.4" fill="#9dbbd0"/><circle cx="915.51" cy="274.05" r="0.4" fill="#9dbbd0"/><circle cx="926.28" cy="266.58" r="0.4" fill="#9dbbd0"/><circle cx="931.67" cy="305.50" r="0.4" fill="#9dbbd0"/><path d="M952.0 262.59H1014.5M952.0 269.47H1014.5M952.0 276.35H1014.5M952.0 283.24H1014.5M952.0 290.12H1014.5M952.0 297.01H1014.5M952.0 303.89H1014.5M952.0 310.77H1014.5M952.0 317.66H1014.5M968.93 261.6V318.7M997.51 261.6V318.7" stroke="#e9e9e9" stroke-width="0.35" fill="none"/><text x="943.69" y="263.59" font-size="3.6" text-anchor="start" font-weight="bold" fill="#111">C</text><text x="944.09" y="290.12" font-size="3.0" text-anchor="middle" font-weight="bold" fill="#222" transform="rotate(-90 944.09 290.12)">NFS</text><text x="950.99" y="270.78" font-size="2.6" text-anchor="end" fill="#555">4</text><text x="950.99" y="282.60" font-size="2.6" text-anchor="end" fill="#555">2</text><text x="950.99" y="294.58" font-size="2.6" text-anchor="end" fill="#555">0</text><text x="950.99" y="306.57" font-size="2.6" text-anchor="end" fill="#555">-2</text><text x="950.99" y="318.38" font-size="2.6" text-anchor="end" fill="#555">-4</text><text x="968.93" y="323.26" font-size="2.6" text-anchor="middle" fill="#444">F≤2</text><text x="997.51" y="323.26" font-size="2.6" text-anchor="middle" fill="#444">F≥3</text><line x1="960.68" x2="960.68" y1="278.22" y2="312.97" stroke="#5d676e" stroke-width="0.5"/><rect x="958.43" y="292.12" width="4.5" height="10.42" fill="#a9cde1" stroke="#6f8798" stroke-width="0.55"/><line x1="958.43" x2="962.93" y1="296.98" y2="296.98" stroke="#333d46" stroke-width="0.75"/><line x1="966.24" x2="966.24" y1="275.62" y2="306.89" stroke="#5d676e" stroke-width="0.5"/><rect x="963.99" y="288.30" width="4.5" height="9.03" fill="#74a9cf" stroke="#56728a" stroke-width="0.55"/><line x1="963.99" x2="968.49" y1="292.12" y2="292.12" stroke="#333d46" stroke-width="0.75"/><line x1="971.63" x2="971.63" y1="271.27" y2="306.89" stroke="#5d676e" stroke-width="0.5"/><rect x="969.38" y="283.95" width="4.5" height="9.56" fill="#4f8fc0" stroke="#41607c" stroke-width="0.55"/><line x1="969.38" x2="973.88" y1="288.64" y2="288.64" stroke="#333d46" stroke-width="0.75"/><line x1="976.84" x2="976.84" y1="267.80" y2="301.67" stroke="#5d676e" stroke-width="0.5"/><rect x="974.59" y="281.17" width="4.5" height="9.56" fill="#2c6ea8" stroke="#2f4f70" stroke-width="0.55"/><line x1="974.59" x2="979.09" y1="286.39" y2="286.39" stroke="#333d46" stroke-width="0.75"/><line x1="989.35" x2="989.35" y1="274.75" y2="309.49" stroke="#5d676e" stroke-width="0.5"/><rect x="987.10" y="286.56" width="4.5" height="10.08" fill="#a9cde1" stroke="#6f8798" stroke-width="0.55"/><line x1="987.10" x2="991.60" y1="291.25" y2="291.25" stroke="#333d46" stroke-width="0.75"/><line x1="994.91" x2="994.91" y1="275.62" y2="303.41" stroke="#5d676e" stroke-width="0.5"/><rect x="992.66" y="283.43" width="4.5" height="9.03" fill="#74a9cf" stroke="#56728a" stroke-width="0.55"/><line x1="992.66" x2="997.16" y1="287.26" y2="287.26" stroke="#333d46" stroke-width="0.75"/><line x1="1000.12" x2="1000.12" y1="269.53" y2="300.81" stroke="#5d676e" stroke-width="0.5"/><rect x="997.87" y="280.31" width="4.5" height="8.34" fill="#4f8fc0" stroke="#41607c" stroke-width="0.55"/><line x1="997.87" x2="1002.37" y1="285.17" y2="285.17" stroke="#333d46" stroke-width="0.75"/><line x1="1005.33" x2="1005.33" y1="264.32" y2="299.07" stroke="#5d676e" stroke-width="0.5"/><rect x="1003.08" y="277.00" width="4.5" height="9.21" fill="#2c6ea8" stroke="#2f4f70" stroke-width="0.55"/><line x1="1003.08" x2="1007.58" y1="281.70" y2="281.70" stroke="#333d46" stroke-width="0.75"/><circle cx="966.24" cy="273.01" r="0.4" fill="#9dbbd0"/><circle cx="971.63" cy="267.45" r="0.4" fill="#9dbbd0"/><circle cx="966.24" cy="311.75" r="0.4" fill="#9dbbd0"/><circle cx="966.24" cy="318.70" r="0.4" fill="#9dbbd0"/><circle cx="971.63" cy="316.44" r="0.4" fill="#9dbbd0"/><circle cx="976.84" cy="317.83" r="0.4" fill="#9dbbd0"/><circle cx="994.91" cy="270.06" r="0.4" fill="#9dbbd0"/><circle cx="1000.12" cy="266.41" r="0.4" fill="#9dbbd0"/><circle cx="994.91" cy="305.67" r="0.4" fill="#9dbbd0"/><circle cx="1005.33" cy="306.37" r="0.4" fill="#9dbbd0"/><path d="M805.2 328.60H866.0M805.2 335.55H866.0M805.2 342.50H866.0M805.2 349.45H866.0M805.2 356.40H866.0M805.2 363.35H866.0M805.2 370.30H866.0M805.2 377.25H866.0M805.2 384.20H866.0M820.48 327.6V385.2M848.97 327.6V385.2" stroke="#e9e9e9" stroke-width="0.35" fill="none"/><text x="796.49" y="329.60" font-size="3.6" text-anchor="start" font-weight="bold" fill="#111">D</text><text x="796.89" y="356.40" font-size="3.0" text-anchor="middle" font-weight="bold" fill="#222" transform="rotate(-90 796.89 356.40)">ELF™</text><text x="804.19" y="339.41" font-size="2.6" text-anchor="end" fill="#555">12</text><text x="804.19" y="355.91" font-size="2.6" text-anchor="end" fill="#555">10</text><text x="804.19" y="372.41" font-size="2.6" text-anchor="end" fill="#555">8</text><text x="820.48" y="389.80" font-size="2.6" text-anchor="middle" fill="#444">F≤2</text><text x="848.97" y="389.80" font-size="2.6" text-anchor="middle" fill="#444">F≥3</text><line x1="812.66" x2="812.66" y1="352.06" y2="380.72" stroke="#5d676e" stroke-width="0.5"/><rect x="810.41" y="362.83" width="4.5" height="7.82" fill="#a9cde1" stroke="#6f8798" stroke-width="0.55"/><line x1="810.41" x2="814.91" y1="366.30" y2="366.30" stroke="#333d46" stroke-width="0.75"/><line x1="817.87" x2="817.87" y1="347.71" y2="375.51" stroke="#5d676e" stroke-width="0.5"/><rect x="815.62" y="359.53" width="4.5" height="8.17" fill="#74a9cf" stroke="#56728a" stroke-width="0.55"/><line x1="815.62" x2="820.12" y1="363.35" y2="363.35" stroke="#333d46" stroke-width="0.75"/><line x1="823.09" x2="823.09" y1="349.10" y2="372.04" stroke="#5d676e" stroke-width="0.5"/><rect x="820.84" y="357.62" width="4.5" height="6.08" fill="#4f8fc0" stroke="#41607c" stroke-width="0.55"/><line x1="820.84" x2="825.34" y1="360.40" y2="360.40" stroke="#333d46" stroke-width="0.75"/><line x1="828.64" x2="828.64" y1="341.63" y2="375.51" stroke="#5d676e" stroke-width="0.5"/><rect x="826.39" y="353.27" width="4.5" height="8.86" fill="#2c6ea8" stroke="#2f4f70" stroke-width="0.55"/><line x1="826.39" x2="830.89" y1="357.27" y2="357.27" stroke="#333d46" stroke-width="0.75"/><line x1="840.81" x2="840.81" y1="340.76" y2="374.64" stroke="#5d676e" stroke-width="0.5"/><rect x="838.56" y="354.14" width="4.5" height="10.60" fill="#a9cde1" stroke="#6f8798" stroke-width="0.55"/><line x1="838.56" x2="843.06" y1="359.35" y2="359.35" stroke="#333d46" stroke-width="0.75"/><line x1="846.37" x2="846.37" y1="339.03" y2="369.43" stroke="#5d676e" stroke-width="0.5"/><rect x="844.12" y="350.32" width="4.5" height="8.86" fill="#74a9cf" stroke="#56728a" stroke-width="0.55"/><line x1="844.12" x2="848.62" y1="355.18" y2="355.18" stroke="#333d46" stroke-width="0.75"/><line x1="851.58" x2="851.58" y1="333.82" y2="369.43" stroke="#5d676e" stroke-width="0.5"/><rect x="849.33" y="349.10" width="4.5" height="10.42" fill="#4f8fc0" stroke="#41607c" stroke-width="0.55"/><line x1="849.33" x2="853.83" y1="355.01" y2="355.01" stroke="#333d46" stroke-width="0.75"/><line x1="856.96" x2="856.96" y1="339.90" y2="366.82" stroke="#5d676e" stroke-width="0.5"/><rect x="854.71" y="346.32" width="4.5" height="9.38" fill="#2c6ea8" stroke="#2f4f70" stroke-width="0.55"/><line x1="854.71" x2="859.21" y1="352.93" y2="352.93" stroke="#333d46" stroke-width="0.75"/><circle cx="812.66" cy="346.85" r="0.4" fill="#9dbbd0"/><circle cx="817.87" cy="341.81" r="0.4" fill="#9dbbd0"/><circle cx="828.64" cy="333.82" r="0.4" fill="#9dbbd0"/><circle cx="828.64" cy="336.07" r="0.4" fill="#9dbbd0"/><circle cx="828.64" cy="338.68" r="0.4" fill="#9dbbd0"/><circle cx="840.81" cy="336.77" r="0.4" fill="#9dbbd0"/><circle cx="851.58" cy="329.47" r="0.4" fill="#9dbbd0"/><circle cx="856.96" cy="329.47" r="0.4" fill="#9dbbd0"/><circle cx="856.96" cy="330.34" r="0.4" fill="#9dbbd0"/><path d="M878.2 328.60H940.7M878.2 335.55H940.7M878.2 342.50H940.7M878.2 349.45H940.7M878.2 356.40H940.7M878.2 363.35H940.7M878.2 370.30H940.7M878.2 377.25H940.7M878.2 384.20H940.7M895.36 327.6V385.2M923.59 327.6V385.2" stroke="#e9e9e9" stroke-width="0.35" fill="none"/><text x="869.86" y="329.60" font-size="3.6" text-anchor="start" font-weight="bold" fill="#111">E</text><text x="870.26" y="356.40" font-size="3.0" text-anchor="middle" font-weight="bold" fill="#222" transform="rotate(-90 870.26 356.40)">APRI</text><text x="877.16" y="339.58" font-size="2.6" text-anchor="end" fill="#555">8.0</text><text x="877.16" y="353.13" font-size="2.6" text-anchor="end" fill="#555">1.0</text><text x="877.16" y="367.72" font-size="2.6" text-anchor="end" fill="#555">0.4</text><text x="877.16" y="381.10" font-size="2.6" text-anchor="end" fill="#555">0.1</text><text x="895.36" y="389.80" font-size="2.6" text-anchor="middle" fill="#444">F≤2</text><text x="923.59" y="389.80" font-size="2.6" text-anchor="middle" fill="#444">F≥3</text><line x1="887.37" x2="887.37" y1="347.71" y2="379.85" stroke="#5d676e" stroke-width="0.5"/><rect x="885.12" y="361.61" width="4.5" height="9.03" fill="#a9cde1" stroke="#6f8798" stroke-width="0.55"/><line x1="885.12" x2="889.62" y1="368.04" y2="368.04" stroke="#333d46" stroke-width="0.75"/><line x1="892.58" x2="892.58" y1="350.32" y2="383.33" stroke="#5d676e" stroke-width="0.5"/><rect x="890.33" y="361.26" width="4.5" height="9.03" fill="#74a9cf" stroke="#56728a" stroke-width="0.55"/><line x1="890.33" x2="894.83" y1="366.82" y2="366.82" stroke="#333d46" stroke-width="0.75"/><line x1="898.14" x2="898.14" y1="351.19" y2="382.46" stroke="#5d676e" stroke-width="0.5"/><rect x="895.89" y="361.26" width="4.5" height="8.69" fill="#4f8fc0" stroke="#41607c" stroke-width="0.55"/><line x1="895.89" x2="900.39" y1="366.48" y2="366.48" stroke="#333d46" stroke-width="0.75"/><line x1="903.35" x2="903.35" y1="347.71" y2="378.12" stroke="#5d676e" stroke-width="0.5"/><rect x="901.10" y="360.74" width="4.5" height="8.69" fill="#2c6ea8" stroke="#2f4f70" stroke-width="0.55"/><line x1="901.10" x2="905.60" y1="364.74" y2="364.74" stroke="#333d46" stroke-width="0.75"/><line x1="915.51" x2="915.51" y1="343.89" y2="377.25" stroke="#5d676e" stroke-width="0.5"/><rect x="913.26" y="354.66" width="4.5" height="10.95" fill="#a9cde1" stroke="#6f8798" stroke-width="0.55"/><line x1="913.26" x2="917.76" y1="359.01" y2="359.01" stroke="#333d46" stroke-width="0.75"/><line x1="920.90" x2="920.90" y1="343.37" y2="374.64" stroke="#5d676e" stroke-width="0.5"/><rect x="918.65" y="352.93" width="4.5" height="12.16" fill="#74a9cf" stroke="#56728a" stroke-width="0.55"/><line x1="918.65" x2="923.15" y1="358.49" y2="358.49" stroke="#333d46" stroke-width="0.75"/><line x1="926.28" x2="926.28" y1="344.24" y2="374.64" stroke="#5d676e" stroke-width="0.5"/><rect x="924.03" y="353.79" width="4.5" height="10.77" fill="#4f8fc0" stroke="#41607c" stroke-width="0.55"/><line x1="924.03" x2="928.53" y1="359.01" y2="359.01" stroke="#333d46" stroke-width="0.75"/><line x1="931.67" x2="931.67" y1="347.71" y2="373.77" stroke="#5d676e" stroke-width="0.5"/><rect x="929.42" y="355.01" width="4.5" height="8.34" fill="#2c6ea8" stroke="#2f4f70" stroke-width="0.55"/><line x1="929.42" x2="933.92" y1="359.53" y2="359.53" stroke="#333d46" stroke-width="0.75"/><circle cx="887.37" cy="337.64" r="0.4" fill="#9dbbd0"/><circle cx="887.37" cy="341.29" r="0.4" fill="#9dbbd0"/><circle cx="892.58" cy="336.07" r="0.4" fill="#9dbbd0"/><circle cx="915.51" cy="330.17" r="0.4" fill="#9dbbd0"/><circle cx="931.67" cy="341.11" r="0.4" fill="#9dbbd0"/><circle cx="931.67" cy="376.73" r="0.4" fill="#9dbbd0"/><circle cx="931.67" cy="382.11" r="0.4" fill="#9dbbd0"/><path d="M952.0 328.60H1014.5M952.0 335.55H1014.5M952.0 342.50H1014.5M952.0 349.45H1014.5M952.0 356.40H1014.5M952.0 363.35H1014.5M952.0 370.30H1014.5M952.0 377.25H1014.5M952.0 384.20H1014.5M970.24 327.6V385.2M998.03 327.6V385.2" stroke="#e9e9e9" stroke-width="0.35" fill="none"/><text x="943.69" y="329.60" font-size="3.6" text-anchor="start" font-weight="bold" fill="#111">F</text><text x="944.09" y="356.40" font-size="3.0" text-anchor="middle" font-weight="bold" fill="#222" transform="rotate(-90 944.09 356.40)">ALT</text><text x="950.99" y="332.46" font-size="2.6" text-anchor="end" fill="#555">300</text><text x="950.99" y="346.53" font-size="2.6" text-anchor="end" fill="#555">100</text><text x="950.99" y="361.99" font-size="2.6" text-anchor="end" fill="#555">30</text><text x="950.99" y="375.72" font-size="2.6" text-anchor="end" fill="#555">10</text><text x="970.24" y="389.80" font-size="2.6" text-anchor="middle" fill="#444">Non-NASH</text><text x="998.03" y="389.80" font-size="2.6" text-anchor="middle" fill="#444">NASH</text><line x1="962.42" x2="962.42" y1="342.15" y2="377.77" stroke="#5d676e" stroke-width="0.5"/><rect x="960.17" y="350.67" width="4.5" height="12.68" fill="#a9cde1" stroke="#6f8798" stroke-width="0.55"/><line x1="960.17" x2="964.67" y1="357.27" y2="357.27" stroke="#333d46" stroke-width="0.75"/><line x1="967.63" x2="967.63" y1="337.81" y2="383.85" stroke="#5d676e" stroke-width="0.5"/><rect x="965.38" y="354.66" width="4.5" height="11.81" fill="#74a9cf" stroke="#56728a" stroke-width="0.55"/><line x1="965.38" x2="969.88" y1="360.74" y2="360.74" stroke="#333d46" stroke-width="0.75"/><line x1="972.84" x2="972.84" y1="344.76" y2="374.64" stroke="#5d676e" stroke-width="0.5"/><rect x="970.59" y="354.32" width="4.5" height="11.29" fill="#4f8fc0" stroke="#41607c" stroke-width="0.55"/><line x1="970.59" x2="975.09" y1="360.74" y2="360.74" stroke="#333d46" stroke-width="0.75"/><line x1="978.05" x2="978.05" y1="345.11" y2="376.38" stroke="#5d676e" stroke-width="0.5"/><rect x="975.80" y="356.40" width="4.5" height="9.56" fill="#2c6ea8" stroke="#2f4f70" stroke-width="0.55"/><line x1="975.80" x2="980.30" y1="361.26" y2="361.26" stroke="#333d46" stroke-width="0.75"/><line x1="990.22" x2="990.22" y1="330.34" y2="369.43" stroke="#5d676e" stroke-width="0.5"/><rect x="987.97" y="345.11" width="4.5" height="13.55" fill="#a9cde1" stroke="#6f8798" stroke-width="0.55"/><line x1="987.97" x2="992.47" y1="351.19" y2="351.19" stroke="#333d46" stroke-width="0.75"/><line x1="995.43" x2="995.43" y1="332.95" y2="369.43" stroke="#5d676e" stroke-width="0.5"/><rect x="993.18" y="348.58" width="4.5" height="9.03" fill="#74a9cf" stroke="#56728a" stroke-width="0.55"/><line x1="993.18" x2="997.68" y1="353.27" y2="353.27" stroke="#333d46" stroke-width="0.75"/><line x1="1000.64" x2="1000.64" y1="337.64" y2="373.77" stroke="#5d676e" stroke-width="0.5"/><rect x="998.39" y="350.32" width="4.5" height="10.08" fill="#4f8fc0" stroke="#41607c" stroke-width="0.55"/><line x1="998.39" x2="1002.89" y1="355.18" y2="355.18" stroke="#333d46" stroke-width="0.75"/><line x1="1005.85" x2="1005.85" y1="339.03" y2="369.43" stroke="#5d676e" stroke-width="0.5"/><rect x="1003.60" y="351.19" width="4.5" height="8.34" fill="#2c6ea8" stroke="#2f4f70" stroke-width="0.55"/><line x1="1003.60" x2="1008.10" y1="355.18" y2="355.18" stroke="#333d46" stroke-width="0.75"/><circle cx="978.05" cy="334.68" r="0.4" fill="#9dbbd0"/><circle cx="978.05" cy="338.33" r="0.4" fill="#9dbbd0"/><circle cx="995.43" cy="333.82" r="0.4" fill="#9dbbd0"/><circle cx="1005.85" cy="372.56" r="0.4" fill="#9dbbd0"/><circle cx="1005.85" cy="374.99" r="0.4" fill="#9dbbd0"/></svg>
<div style="position:absolute;white-space:nowrap;left:794.70px;top:395.00px;font-size:4.3px;line-height:5.16px;font-style:italic;color:#555;letter-spacing:0.043px;word-spacing:0.087px">Note: Similar trends were observed for FIB-4, NFS, ELF<span class="tm">™</span>, APRI and ALT when splitting by at-risk NASH status</div>
<div style="position:absolute;white-space:nowrap;left:765.00px;top:408.00px;font-size:7.8px;line-height:9.36px;color:#3c3c3c;letter-spacing:0.400px;word-spacing:-1.077px;-webkit-text-stroke:0.13px #3c3c3c">FIB-4, NFS, and ELF<span class="tm">™</span> exhibited lower score distribution in patients aged ≤45</div>
<div style="position:absolute;white-space:nowrap;left:758.60px;top:408.00px;font-size:7.8px;line-height:9.36px;color:#3c3c3c">•</div>
<div style="position:absolute;white-space:nowrap;left:765.00px;top:418.00px;font-size:7.8px;line-height:9.36px;color:#3c3c3c;letter-spacing:0.400px;word-spacing:-0.350px;-webkit-text-stroke:0.13px #3c3c3c">years with biopsy-proven advanced fibrosis (F≥3) than in patients aged ≥65</div>
<div style="position:absolute;white-space:nowrap;left:765.00px;top:428.00px;font-size:7.8px;line-height:9.36px;color:#3c3c3c;letter-spacing:0.400px;word-spacing:-0.600px;-webkit-text-stroke:0.13px #3c3c3c">years with F≤2.</div>
<div style="position:absolute;left:1067.80px;top:216.00px;width:0.80px;height:220.80px;background:#3a3a3a"></div>
<div style="position:absolute;white-space:nowrap;left:1082.85px;top:215.00px;font-size:9.6px;line-height:11.52px;font-weight:bold;color:#222;letter-spacing:0.153px;word-spacing:0.229px">Figure 2. Impact of age on clinical performances of NITs for the</div>
<div style="position:absolute;white-space:nowrap;left:1078.15px;top:225.00px;font-size:9.6px;line-height:11.52px;font-weight:bold;color:#222;letter-spacing:0.191px;word-spacing:0.287px">detection of intended clinical endpoints, utilizing Youden cutoffs</div>
<svg style="position:absolute;left:0;top:0" width="1484" height="921" viewBox="0 0 1484 921" font-family="'Liberation Sans',sans-serif"><text x="1201.65" y="251.71" font-size="2.9" text-anchor="middle" fill="#222">Age</text><rect x="1206.60" y="248.30" width="5" height="5" fill="#a9cde1" stroke="#6f8798" stroke-width="0.4"/><text x="1212.70" y="251.56" font-size="2.6" text-anchor="start" fill="#333">≤45</text><rect x="1219.52" y="248.30" width="5" height="5" fill="#74a9cf" stroke="#56728a" stroke-width="0.4"/><text x="1225.62" y="251.56" font-size="2.6" text-anchor="start" fill="#333">46-55</text><rect x="1234.88" y="248.30" width="5" height="5" fill="#4f8fc0" stroke="#41607c" stroke-width="0.4"/><text x="1240.98" y="251.56" font-size="2.6" text-anchor="start" fill="#333">56-64</text><rect x="1250.08" y="248.30" width="5" height="5" fill="#2c6ea8" stroke="#2f4f70" stroke-width="0.4"/><text x="1256.18" y="251.56" font-size="2.6" text-anchor="start" fill="#333">≥65</text><text x="1141.75" y="271.21" font-size="2.2" text-anchor="end" fill="#666">100</text><text x="1141.75" y="281.74" font-size="2.2" text-anchor="end" fill="#666">75</text><text x="1141.75" y="292.27" font-size="2.2" text-anchor="end" fill="#666">50</text><text x="1141.75" y="302.80" font-size="2.2" text-anchor="end" fill="#666">25</text><text x="1141.75" y="313.33" font-size="2.2" text-anchor="end" fill="#666">0</text><text x="1157.40" y="317.33" font-size="2.2" text-anchor="middle" fill="#555">Spe</text><text x="1181.43" y="317.33" font-size="2.2" text-anchor="middle" fill="#555">Sen</text><path d="M1142.8 270.41H1196.3M1142.8 280.94H1196.3M1142.8 291.47H1196.3M1142.8 302.00H1196.3M1142.8 312.53H1196.3M1157.40 267.4V313.5M1181.43 267.4V313.5" stroke="#e9e9e9" stroke-width="0.35" fill="none"/><text x="1134.20" y="264.57" font-size="3.0" text-anchor="start" font-weight="bold" fill="#111">A</text><text x="1142.81" y="264.57" font-size="2.9" text-anchor="start" font-weight="bold" fill="#222">NIS2+™</text><text x="1135.55" y="291.47" font-size="2.3" text-anchor="middle" fill="#333" transform="rotate(-90 1135.55 291.47)">Perf</text><rect x="1146.15" y="278.77" width="5.63" height="33.75" fill="#a9cde1" stroke="#6f8798" stroke-width="0.5"/><path d="M1148.96 277.57v1.2M1148.36 277.57h1.2" stroke="#8a8a8a" stroke-width="0.3" fill="none"/><rect x="1151.78" y="278.32" width="5.63" height="34.21" fill="#74a9cf" stroke="#56728a" stroke-width="0.5"/><path d="M1154.59 277.12v1.2M1153.99 277.12h1.2" stroke="#8a8a8a" stroke-width="0.3" fill="none"/><rect x="1157.40" y="278.32" width="5.63" height="34.21" fill="#4f8fc0" stroke="#41607c" stroke-width="0.5"/><path d="M1160.22 277.12v1.2M1159.62 277.12h1.2" stroke="#8a8a8a" stroke-width="0.3" fill="none"/><rect x="1163.03" y="280.29" width="5.63" height="32.23" fill="#2c6ea8" stroke="#2f4f70" stroke-width="0.5"/><path d="M1165.84 279.09v1.2M1165.24 279.09h1.2" stroke="#8a8a8a" stroke-width="0.3" fill="none"/><rect x="1170.17" y="283.33" width="5.63" height="29.19" fill="#a9cde1" stroke="#6f8798" stroke-width="0.5"/><path d="M1172.99 282.13v1.2M1172.39 282.13h1.2" stroke="#8a8a8a" stroke-width="0.3" fill="none"/><rect x="1175.80" y="281.05" width="5.63" height="31.47" fill="#74a9cf" stroke="#56728a" stroke-width="0.5"/><path d="M1178.61 279.85v1.2M1178.01 279.85h1.2" stroke="#8a8a8a" stroke-width="0.3" fill="none"/><rect x="1181.43" y="284.40" width="5.63" height="28.13" fill="#4f8fc0" stroke="#41607c" stroke-width="0.5"/><path d="M1184.24 283.20v1.2M1183.64 283.20h1.2" stroke="#8a8a8a" stroke-width="0.3" fill="none"/><rect x="1187.05" y="280.44" width="5.63" height="32.08" fill="#2c6ea8" stroke="#2f4f70" stroke-width="0.5"/><path d="M1189.86 279.24v1.2M1189.26 279.24h1.2" stroke="#8a8a8a" stroke-width="0.3" fill="none"/><text x="1203.79" y="271.21" font-size="2.2" text-anchor="end" fill="#666">100</text><text x="1203.79" y="281.74" font-size="2.2" text-anchor="end" fill="#666">75</text><text x="1203.79" y="292.27" font-size="2.2" text-anchor="end" fill="#666">50</text><text x="1203.79" y="302.80" font-size="2.2" text-anchor="end" fill="#666">25</text><text x="1203.79" y="313.33" font-size="2.2" text-anchor="end" fill="#666">0</text><text x="1219.44" y="317.33" font-size="2.2" text-anchor="middle" fill="#555">Spe</text><text x="1244.52" y="317.33" font-size="2.2" text-anchor="middle" fill="#555">Sen</text><path d="M1204.8 270.41H1259.4M1204.8 280.94H1259.4M1204.8 291.47H1259.4M1204.8 302.00H1259.4M1204.8 312.53H1259.4M1219.44 267.4V313.5M1244.52 267.4V313.5" stroke="#e9e9e9" stroke-width="0.35" fill="none"/><text x="1198.06" y="264.57" font-size="3.0" text-anchor="start" font-weight="bold" fill="#111">B</text><text x="1205.15" y="264.57" font-size="2.9" text-anchor="start" font-weight="bold" fill="#222">FIB-4</text><rect x="1208.19" y="274.36" width="5.63" height="38.16" fill="#a9cde1" stroke="#6f8798" stroke-width="0.5"/><path d="M1211.00 273.16v1.2M1210.40 273.16h1.2" stroke="#8a8a8a" stroke-width="0.3" fill="none"/><rect x="1213.81" y="279.53" width="5.63" height="32.99" fill="#74a9cf" stroke="#56728a" stroke-width="0.5"/><path d="M1216.62 278.33v1.2M1216.02 278.33h1.2" stroke="#8a8a8a" stroke-width="0.3" fill="none"/><rect x="1219.44" y="289.72" width="5.63" height="22.81" fill="#4f8fc0" stroke="#41607c" stroke-width="0.5"/><path d="M1222.25 288.52v1.2M1221.65 288.52h1.2" stroke="#8a8a8a" stroke-width="0.3" fill="none"/><rect x="1225.06" y="298.23" width="5.63" height="14.29" fill="#2c6ea8" stroke="#2f4f70" stroke-width="0.5"/><path d="M1227.88 297.03v1.2M1227.28 297.03h1.2" stroke="#8a8a8a" stroke-width="0.3" fill="none"/><rect x="1233.27" y="301.27" width="5.63" height="11.25" fill="#a9cde1" stroke="#6f8798" stroke-width="0.5"/><path d="M1236.09 300.07v1.2M1235.49 300.07h1.2" stroke="#8a8a8a" stroke-width="0.3" fill="none"/><rect x="1238.90" y="284.40" width="5.63" height="28.13" fill="#74a9cf" stroke="#56728a" stroke-width="0.5"/><path d="M1241.71 283.20v1.2M1241.11 283.20h1.2" stroke="#8a8a8a" stroke-width="0.3" fill="none"/><rect x="1244.52" y="278.01" width="5.63" height="34.51" fill="#4f8fc0" stroke="#41607c" stroke-width="0.5"/><path d="M1247.34 276.81v1.2M1246.74 276.81h1.2" stroke="#8a8a8a" stroke-width="0.3" fill="none"/><rect x="1250.15" y="275.27" width="5.63" height="37.25" fill="#2c6ea8" stroke="#2f4f70" stroke-width="0.5"/><path d="M1252.96 274.07v1.2M1252.36 274.07h1.2" stroke="#8a8a8a" stroke-width="0.3" fill="none"/><text x="1267.95" y="271.21" font-size="2.2" text-anchor="end" fill="#666">100</text><text x="1267.95" y="281.74" font-size="2.2" text-anchor="end" fill="#666">75</text><text x="1267.95" y="292.27" font-size="2.2" text-anchor="end" fill="#666">50</text><text x="1267.95" y="302.80" font-size="2.2" text-anchor="end" fill="#666">25</text><text x="1267.95" y="313.33" font-size="2.2" text-anchor="end" fill="#666">0</text><text x="1283.60" y="317.33" font-size="2.2" text-anchor="middle" fill="#555">Spe</text><text x="1308.38" y="317.33" font-size="2.2" text-anchor="middle" fill="#555">Sen</text><path d="M1268.9 270.41H1323.2M1268.9 280.94H1323.2M1268.9 291.47H1323.2M1268.9 302.00H1323.2M1268.9 312.53H1323.2M1283.60 267.4V313.5M1308.38 267.4V313.5" stroke="#e9e9e9" stroke-width="0.35" fill="none"/><text x="1262.23" y="264.57" font-size="3.0" text-anchor="start" font-weight="bold" fill="#111">C</text><text x="1269.00" y="264.57" font-size="2.9" text-anchor="start" font-weight="bold" fill="#222">NFS</text><rect x="1272.35" y="278.32" width="5.63" height="34.21" fill="#a9cde1" stroke="#6f8798" stroke-width="0.5"/><path d="M1275.16 277.12v1.2M1274.56 277.12h1.2" stroke="#8a8a8a" stroke-width="0.3" fill="none"/><rect x="1277.97" y="288.20" width="5.63" height="24.33" fill="#74a9cf" stroke="#56728a" stroke-width="0.5"/><path d="M1280.79 287.00v1.2M1280.19 287.00h1.2" stroke="#8a8a8a" stroke-width="0.3" fill="none"/><rect x="1283.60" y="296.26" width="5.63" height="16.27" fill="#4f8fc0" stroke="#41607c" stroke-width="0.5"/><path d="M1286.41 295.06v1.2M1285.81 295.06h1.2" stroke="#8a8a8a" stroke-width="0.3" fill="none"/><rect x="1289.23" y="302.79" width="5.63" height="9.73" fill="#2c6ea8" stroke="#2f4f70" stroke-width="0.5"/><path d="M1292.04 301.59v1.2M1291.44 301.59h1.2" stroke="#8a8a8a" stroke-width="0.3" fill="none"/><rect x="1297.13" y="292.00" width="5.63" height="20.53" fill="#a9cde1" stroke="#6f8798" stroke-width="0.5"/><path d="M1299.95 290.80v1.2M1299.35 290.80h1.2" stroke="#8a8a8a" stroke-width="0.3" fill="none"/><rect x="1302.76" y="283.33" width="5.63" height="29.19" fill="#74a9cf" stroke="#56728a" stroke-width="0.5"/><path d="M1305.57 282.13v1.2M1304.97 282.13h1.2" stroke="#8a8a8a" stroke-width="0.3" fill="none"/><rect x="1308.38" y="274.67" width="5.63" height="37.86" fill="#4f8fc0" stroke="#41607c" stroke-width="0.5"/><path d="M1311.20 273.47v1.2M1310.60 273.47h1.2" stroke="#8a8a8a" stroke-width="0.3" fill="none"/><rect x="1314.01" y="273.91" width="5.63" height="38.62" fill="#2c6ea8" stroke="#2f4f70" stroke-width="0.5"/><path d="M1316.82 272.71v1.2M1316.22 272.71h1.2" stroke="#8a8a8a" stroke-width="0.3" fill="none"/><text x="1139.93" y="330.96" font-size="2.2" text-anchor="end" fill="#666">100</text><text x="1139.93" y="341.49" font-size="2.2" text-anchor="end" fill="#666">75</text><text x="1139.93" y="352.02" font-size="2.2" text-anchor="end" fill="#666">50</text><text x="1139.93" y="362.55" font-size="2.2" text-anchor="end" fill="#666">25</text><text x="1139.93" y="373.08" font-size="2.2" text-anchor="end" fill="#666">0</text><text x="1155.58" y="377.08" font-size="2.2" text-anchor="middle" fill="#555">Spe</text><text x="1180.36" y="377.08" font-size="2.2" text-anchor="middle" fill="#555">Sen</text><path d="M1140.9 330.16H1195.2M1140.9 340.69H1195.2M1140.9 351.22H1195.2M1140.9 361.75H1195.2M1140.9 372.28H1195.2M1155.58 327.2V373.3M1180.36 327.2V373.3" stroke="#e9e9e9" stroke-width="0.35" fill="none"/><text x="1134.20" y="324.62" font-size="3.0" text-anchor="start" font-weight="bold" fill="#111">D</text><text x="1140.98" y="324.62" font-size="2.9" text-anchor="start" font-weight="bold" fill="#222">ELF™</text><rect x="1144.33" y="336.24" width="5.63" height="36.03" fill="#a9cde1" stroke="#6f8798" stroke-width="0.5"/><path d="M1147.14 335.04v1.2M1146.54 335.04h1.2" stroke="#8a8a8a" stroke-width="0.3" fill="none"/><rect x="1149.95" y="339.59" width="5.63" height="32.69" fill="#74a9cf" stroke="#56728a" stroke-width="0.5"/><path d="M1152.77 338.39v1.2M1152.17 338.39h1.2" stroke="#8a8a8a" stroke-width="0.3" fill="none"/><rect x="1155.58" y="345.22" width="5.63" height="27.06" fill="#4f8fc0" stroke="#41607c" stroke-width="0.5"/><path d="M1158.39 344.02v1.2M1157.79 344.02h1.2" stroke="#8a8a8a" stroke-width="0.3" fill="none"/><rect x="1161.20" y="354.49" width="5.63" height="17.79" fill="#2c6ea8" stroke="#2f4f70" stroke-width="0.5"/><path d="M1164.02 353.29v1.2M1163.42 353.29h1.2" stroke="#8a8a8a" stroke-width="0.3" fill="none"/><rect x="1169.11" y="351.45" width="5.63" height="20.83" fill="#a9cde1" stroke="#6f8798" stroke-width="0.5"/><path d="M1171.92 350.25v1.2M1171.32 350.25h1.2" stroke="#8a8a8a" stroke-width="0.3" fill="none"/><rect x="1174.74" y="341.26" width="5.63" height="31.02" fill="#74a9cf" stroke="#56728a" stroke-width="0.5"/><path d="M1177.55 340.06v1.2M1176.95 340.06h1.2" stroke="#8a8a8a" stroke-width="0.3" fill="none"/><rect x="1180.36" y="342.17" width="5.63" height="30.10" fill="#4f8fc0" stroke="#41607c" stroke-width="0.5"/><path d="M1183.17 340.97v1.2M1182.57 340.97h1.2" stroke="#8a8a8a" stroke-width="0.3" fill="none"/><rect x="1185.99" y="333.20" width="5.63" height="39.08" fill="#2c6ea8" stroke="#2f4f70" stroke-width="0.5"/><path d="M1188.80 332.00v1.2M1188.20 332.00h1.2" stroke="#8a8a8a" stroke-width="0.3" fill="none"/><text x="1203.79" y="330.96" font-size="2.2" text-anchor="end" fill="#666">100</text><text x="1203.79" y="341.49" font-size="2.2" text-anchor="end" fill="#666">75</text><text x="1203.79" y="352.02" font-size="2.2" text-anchor="end" fill="#666">50</text><text x="1203.79" y="362.55" font-size="2.2" text-anchor="end" fill="#666">25</text><text x="1203.79" y="373.08" font-size="2.2" text-anchor="end" fill="#666">0</text><text x="1219.44" y="377.08" font-size="2.2" text-anchor="middle" fill="#555">Spe</text><text x="1244.52" y="377.08" font-size="2.2" text-anchor="middle" fill="#555">Sen</text><path d="M1204.8 330.16H1259.4M1204.8 340.69H1259.4M1204.8 351.22H1259.4M1204.8 361.75H1259.4M1204.8 372.28H1259.4M1219.44 327.2V373.3M1244.52 327.2V373.3" stroke="#e9e9e9" stroke-width="0.35" fill="none"/><text x="1198.06" y="324.62" font-size="3.0" text-anchor="start" font-weight="bold" fill="#111">E</text><text x="1205.15" y="324.62" font-size="2.9" text-anchor="start" font-weight="bold" fill="#222">APRI</text><rect x="1208.19" y="343.39" width="5.63" height="28.89" fill="#a9cde1" stroke="#6f8798" stroke-width="0.5"/><path d="M1211.00 342.19v1.2M1210.40 342.19h1.2" stroke="#8a8a8a" stroke-width="0.3" fill="none"/><rect x="1213.81" y="344.91" width="5.63" height="27.37" fill="#74a9cf" stroke="#56728a" stroke-width="0.5"/><path d="M1216.62 343.71v1.2M1216.02 343.71h1.2" stroke="#8a8a8a" stroke-width="0.3" fill="none"/><rect x="1219.44" y="345.37" width="5.63" height="26.91" fill="#4f8fc0" stroke="#41607c" stroke-width="0.5"/><path d="M1222.25 344.17v1.2M1221.65 344.17h1.2" stroke="#8a8a8a" stroke-width="0.3" fill="none"/><rect x="1225.06" y="345.37" width="5.63" height="26.91" fill="#2c6ea8" stroke="#2f4f70" stroke-width="0.5"/><path d="M1227.88 344.17v1.2M1227.28 344.17h1.2" stroke="#8a8a8a" stroke-width="0.3" fill="none"/><rect x="1233.27" y="343.39" width="5.63" height="28.89" fill="#a9cde1" stroke="#6f8798" stroke-width="0.5"/><path d="M1236.09 342.19v1.2M1235.49 342.19h1.2" stroke="#8a8a8a" stroke-width="0.3" fill="none"/><rect x="1238.90" y="343.39" width="5.63" height="28.89" fill="#74a9cf" stroke="#56728a" stroke-width="0.5"/><path d="M1241.71 342.19v1.2M1241.11 342.19h1.2" stroke="#8a8a8a" stroke-width="0.3" fill="none"/><rect x="1244.52" y="342.93" width="5.63" height="29.34" fill="#4f8fc0" stroke="#41607c" stroke-width="0.5"/><path d="M1247.34 341.73v1.2M1246.74 341.73h1.2" stroke="#8a8a8a" stroke-width="0.3" fill="none"/><rect x="1250.15" y="339.13" width="5.63" height="33.15" fill="#2c6ea8" stroke="#2f4f70" stroke-width="0.5"/><path d="M1252.96 337.93v1.2M1252.36 337.93h1.2" stroke="#8a8a8a" stroke-width="0.3" fill="none"/><text x="1267.95" y="330.96" font-size="2.2" text-anchor="end" fill="#666">100</text><text x="1267.95" y="341.49" font-size="2.2" text-anchor="end" fill="#666">75</text><text x="1267.95" y="352.02" font-size="2.2" text-anchor="end" fill="#666">50</text><text x="1267.95" y="362.55" font-size="2.2" text-anchor="end" fill="#666">25</text><text x="1267.95" y="373.08" font-size="2.2" text-anchor="end" fill="#666">0</text><text x="1283.60" y="377.08" font-size="2.2" text-anchor="middle" fill="#555">Spe</text><text x="1308.38" y="377.08" font-size="2.2" text-anchor="middle" fill="#555">Sen</text><path d="M1268.9 330.16H1323.2M1268.9 340.69H1323.2M1268.9 351.22H1323.2M1268.9 361.75H1323.2M1268.9 372.28H1323.2M1283.60 327.2V373.3M1308.38 327.2V373.3" stroke="#e9e9e9" stroke-width="0.35" fill="none"/><text x="1262.23" y="324.62" font-size="3.0" text-anchor="start" font-weight="bold" fill="#111">F</text><text x="1269.00" y="324.62" font-size="2.9" text-anchor="start" font-weight="bold" fill="#222">ALT</text><rect x="1272.35" y="355.25" width="5.63" height="17.03" fill="#a9cde1" stroke="#6f8798" stroke-width="0.5"/><path d="M1275.16 354.05v1.2M1274.56 354.05h1.2" stroke="#8a8a8a" stroke-width="0.3" fill="none"/><rect x="1277.97" y="347.19" width="5.63" height="25.09" fill="#74a9cf" stroke="#56728a" stroke-width="0.5"/><path d="M1280.79 345.99v1.2M1280.19 345.99h1.2" stroke="#8a8a8a" stroke-width="0.3" fill="none"/><rect x="1283.60" y="345.67" width="5.63" height="26.61" fill="#4f8fc0" stroke="#41607c" stroke-width="0.5"/><path d="M1286.41 344.47v1.2M1285.81 344.47h1.2" stroke="#8a8a8a" stroke-width="0.3" fill="none"/><rect x="1289.23" y="346.43" width="5.63" height="25.85" fill="#2c6ea8" stroke="#2f4f70" stroke-width="0.5"/><path d="M1292.04 345.23v1.2M1291.44 345.23h1.2" stroke="#8a8a8a" stroke-width="0.3" fill="none"/><rect x="1297.13" y="339.13" width="5.63" height="33.15" fill="#a9cde1" stroke="#6f8798" stroke-width="0.5"/><path d="M1299.95 337.93v1.2M1299.35 337.93h1.2" stroke="#8a8a8a" stroke-width="0.3" fill="none"/><rect x="1302.76" y="337.31" width="5.63" height="34.97" fill="#74a9cf" stroke="#56728a" stroke-width="0.5"/><path d="M1305.57 336.11v1.2M1304.97 336.11h1.2" stroke="#8a8a8a" stroke-width="0.3" fill="none"/><rect x="1308.38" y="342.78" width="5.63" height="29.50" fill="#4f8fc0" stroke="#41607c" stroke-width="0.5"/><path d="M1311.20 341.58v1.2M1310.60 341.58h1.2" stroke="#8a8a8a" stroke-width="0.3" fill="none"/><rect x="1314.01" y="339.89" width="5.63" height="32.39" fill="#2c6ea8" stroke="#2f4f70" stroke-width="0.5"/><path d="M1316.82 338.69v1.2M1316.22 338.69h1.2" stroke="#8a8a8a" stroke-width="0.3" fill="none"/></svg>
<div style="position:absolute;white-space:nowrap;left:1090.60px;top:389.00px;font-size:7.7px;line-height:9.24px;color:#3c3c3c;letter-spacing:0.288px;word-spacing:-0.793px;-webkit-text-stroke:0.13px #3c3c3c">FIB-4 exhibited the highest differences in clinical performances, characterized by</div>
<div style="position:absolute;white-space:nowrap;left:1084.40px;top:389.00px;font-size:7.7px;line-height:9.24px;color:#3c3c3c">•</div>
<div style="position:absolute;white-space:nowrap;left:1090.60px;top:399.00px;font-size:7.7px;line-height:9.24px;color:#3c3c3c;letter-spacing:0.288px;word-spacing:-1.174px;-webkit-text-stroke:0.13px #3c3c3c">a strong decrease of specificity (from 0.91 to 0.34) and increase of sensitivity (from</div>
<div style="position:absolute;white-space:nowrap;left:1090.60px;top:408.00px;font-size:7.7px;line-height:9.24px;color:#3c3c3c;letter-spacing:0.288px;word-spacing:-0.600px;-webkit-text-stroke:0.13px #3c3c3c">0.26 to 0.89) with increasing age.</div>
<div style="position:absolute;white-space:nowrap;left:1090.60px;top:418.00px;font-size:7.7px;line-height:9.24px;color:#3c3c3c;letter-spacing:0.288px;word-spacing:-0.977px;-webkit-text-stroke:0.13px #3c3c3c">Age exhibited a similar effect on the clinical performances of NFS and ELF<span class="tm">™</span>.</div>
<div style="position:absolute;white-space:nowrap;left:1084.40px;top:418.00px;font-size:7.7px;line-height:9.24px;color:#3c3c3c">•</div>
<div style="position:absolute;white-space:nowrap;left:1090.60px;top:428.00px;font-size:7.7px;line-height:9.24px;color:#3c3c3c;letter-spacing:0.288px;word-spacing:-1.300px;-webkit-text-stroke:0.13px #3c3c3c">The clinical performances of NIS2+<span class="tm">™</span> and APRI were stable across age groups.</div>
<div style="position:absolute;white-space:nowrap;left:1084.40px;top:428.00px;font-size:7.7px;line-height:9.24px;color:#3c3c3c">•</div>
<div style="position:absolute;white-space:nowrap;left:813.80px;top:479.00px;font-size:13.0px;line-height:15.6px;font-weight:bold;color:#195678;letter-spacing:1.725px;transform:scaleX(0.9);transform-origin:0 50%">AGE VS HISTOLOGY: A COMPARISON OF ASSOCIATED EFFECTS ON NITS</div>
<div style="position:absolute;white-space:nowrap;left:791.65px;top:506.00px;font-size:9.6px;line-height:11.52px;font-weight:bold;color:#222;letter-spacing:0.071px;word-spacing:0.106px">Table 3. Type II ANOVA modelling:</div>
<div style="position:absolute;white-space:nowrap;left:785.00px;top:516.00px;font-size:9.6px;line-height:11.52px;font-weight:bold;color:#222;letter-spacing:0.036px;word-spacing:0.055px">summary and associated effect sizes</div>
<div style="position:absolute;left:758.90px;top:540.00px;width:22.90px;height:5.90px;background:#17506d"></div>
<div style="position:absolute;left:782.80px;top:540.00px;width:21.00px;height:5.90px;background:#17506d"></div>
<div style="position:absolute;left:804.80px;top:540.00px;width:58.20px;height:5.90px;background:#17506d"></div>
<div style="position:absolute;left:864.00px;top:540.00px;width:58.90px;height:5.90px;background:#17506d"></div>
<div style="position:absolute;left:923.90px;top:540.00px;width:58.30px;height:5.90px;background:#17506d"></div>
<div style="position:absolute;left:758.90px;top:547.00px;width:22.90px;height:8.20px;background:#17506d"></div>
<div style="position:absolute;left:782.80px;top:547.00px;width:21.00px;height:8.20px;background:#17506d"></div>
<div style="position:absolute;left:804.80px;top:547.00px;width:34.00px;height:8.20px;background:#17506d"></div>
<div style="position:absolute;left:839.80px;top:547.00px;width:23.20px;height:8.20px;background:#17506d"></div>
<div style="position:absolute;left:864.00px;top:547.00px;width:33.80px;height:8.20px;background:#17506d"></div>
<div style="position:absolute;left:898.80px;top:547.00px;width:24.10px;height:8.20px;background:#17506d"></div>
<div style="position:absolute;left:923.90px;top:547.00px;width:34.10px;height:8.20px;background:#17506d"></div>
<div style="position:absolute;left:959.00px;top:547.00px;width:23.20px;height:8.20px;background:#17506d"></div>
<div style="position:absolute;white-space:nowrap;left:829.69px;top:541.00px;font-size:4.3px;line-height:4.94px;font-weight:bold;color:#fff;letter-spacing:0.150px">Age</div>
<div style="position:absolute;white-space:nowrap;left:884.56px;top:541.00px;font-size:4.3px;line-height:4.94px;font-weight:bold;color:#fff;letter-spacing:0.150px">Fibrosis</div>
<div style="position:absolute;white-space:nowrap;left:948.11px;top:541.00px;font-size:4.3px;line-height:4.94px;font-weight:bold;color:#fff;letter-spacing:0.150px">NAS</div>
<div style="position:absolute;white-space:nowrap;left:791.03px;top:550.00px;font-size:4.3px;line-height:4.94px;color:#fff">R²</div>
<div style="position:absolute;white-space:nowrap;left:818.69px;top:550.00px;font-size:4.3px;line-height:4.94px;color:#fff">ω<sub>p</sub><sup>2</sup></div>
<div style="position:absolute;white-space:nowrap;left:844.02px;top:550.00px;font-size:4.3px;line-height:4.94px;color:#fff;letter-spacing:0.150px"><i>p</i> value</div>
<div style="position:absolute;white-space:nowrap;left:877.79px;top:550.00px;font-size:4.3px;line-height:4.94px;color:#fff">ω<sub>p</sub><sup>2</sup></div>
<div style="position:absolute;white-space:nowrap;left:903.47px;top:550.00px;font-size:4.3px;line-height:4.94px;color:#fff;letter-spacing:0.150px"><i>p</i> value</div>
<div style="position:absolute;white-space:nowrap;left:937.84px;top:550.00px;font-size:4.3px;line-height:4.94px;color:#fff">ω<sub>p</sub><sup>2</sup></div>
<div style="position:absolute;white-space:nowrap;left:962.97px;top:550.00px;font-size:4.3px;line-height:4.94px;color:#fff;letter-spacing:0.150px"><i>p</i> value</div>
<div style="position:absolute;white-space:nowrap;left:758.00px;top:560.00px;font-size:4.3px;line-height:4.94px;font-weight:bold;color:#3a3a3a;letter-spacing:0.100px">NIS2+<span class="tm">™</span>, **</div>
<div style="position:absolute;white-space:nowrap;left:789.04px;top:560.00px;font-size:4.3px;line-height:4.94px;color:#6a6a6a;letter-spacing:0.050px">0.42</div>
<div style="position:absolute;white-space:nowrap;left:820.60px;top:557.00px;font-size:4.3px;line-height:4.94px;color:#6a6a6a;letter-spacing:0.050px">0</div>
<div style="position:absolute;white-space:nowrap;left:816.66px;top:562.00px;font-size:4.3px;line-height:4.94px;color:#6a6a6a;letter-spacing:0.050px">(0, 0)</div>
<div style="position:absolute;white-space:nowrap;left:845.92px;top:560.00px;font-size:4.3px;line-height:4.94px;color:#6a6a6a;letter-spacing:0.050px">0.543</div>
<div style="position:absolute;white-space:nowrap;left:876.64px;top:557.00px;font-size:4.3px;line-height:4.94px;font-weight:bold;color:#2f2f2f;letter-spacing:0.050px">0.16</div>
<div style="position:absolute;white-space:nowrap;left:870.97px;top:562.00px;font-size:4.3px;line-height:4.94px;font-weight:bold;color:#2f2f2f;letter-spacing:0.050px">(0.11, 0.2)</div>
<div style="position:absolute;white-space:nowrap;left:902.87px;top:560.00px;font-size:4.3px;line-height:4.94px;color:#6a6a6a;letter-spacing:0.050px">&lt;0.0001</div>
<div style="position:absolute;white-space:nowrap;left:936.69px;top:557.00px;font-size:4.3px;line-height:4.94px;font-weight:bold;color:#2f2f2f;letter-spacing:0.050px">0.12</div>
<div style="position:absolute;white-space:nowrap;left:929.68px;top:562.00px;font-size:4.3px;line-height:4.94px;font-weight:bold;color:#2f2f2f;letter-spacing:0.050px">(0.08, 0.16)</div>
<div style="position:absolute;white-space:nowrap;left:962.37px;top:560.00px;font-size:4.3px;line-height:4.94px;color:#6a6a6a;letter-spacing:0.050px">&lt;0.0001</div>
<div style="position:absolute;white-space:nowrap;left:758.00px;top:572.00px;font-size:4.3px;line-height:4.94px;font-weight:bold;color:#3a3a3a;letter-spacing:0.100px">FIB-4*</div>
<div style="position:absolute;white-space:nowrap;left:789.04px;top:572.00px;font-size:4.3px;line-height:4.94px;color:#6a6a6a;letter-spacing:0.050px">0.41</div>
<div style="position:absolute;white-space:nowrap;left:817.54px;top:569.00px;font-size:4.3px;line-height:4.94px;font-weight:bold;color:#a52a2a;letter-spacing:0.050px">0.32</div>
<div style="position:absolute;white-space:nowrap;left:810.53px;top:574.00px;font-size:4.3px;line-height:4.94px;font-weight:bold;color:#a52a2a;letter-spacing:0.050px">(0.27, 0.36)</div>
<div style="position:absolute;white-space:nowrap;left:843.42px;top:572.00px;font-size:4.3px;line-height:4.94px;color:#6a6a6a;letter-spacing:0.050px">&lt;0.0001</div>
<div style="position:absolute;white-space:nowrap;left:876.64px;top:569.00px;font-size:4.3px;line-height:4.94px;font-weight:bold;color:#2f2f2f;letter-spacing:0.050px">0.13</div>
<div style="position:absolute;white-space:nowrap;left:869.63px;top:574.00px;font-size:4.3px;line-height:4.94px;font-weight:bold;color:#2f2f2f;letter-spacing:0.050px">(0.08, 0.17)</div>
<div style="position:absolute;white-space:nowrap;left:902.87px;top:572.00px;font-size:4.3px;line-height:4.94px;color:#6a6a6a;letter-spacing:0.050px">&lt;0.0001</div>
<div style="position:absolute;white-space:nowrap;left:936.69px;top:569.00px;font-size:4.3px;line-height:4.94px;color:#6a6a6a;letter-spacing:0.050px">0.01</div>
<div style="position:absolute;white-space:nowrap;left:932.74px;top:574.00px;font-size:4.3px;line-height:4.94px;color:#6a6a6a;letter-spacing:0.050px">(0, 0.03)</div>
<div style="position:absolute;white-space:nowrap;left:963.65px;top:572.00px;font-size:4.3px;line-height:4.94px;color:#6a6a6a;letter-spacing:0.050px">0.0091</div>
<div style="position:absolute;white-space:nowrap;left:758.00px;top:584.00px;font-size:4.3px;line-height:4.94px;font-weight:bold;color:#3a3a3a;letter-spacing:0.100px">NFS</div>
<div style="position:absolute;white-space:nowrap;left:789.04px;top:584.00px;font-size:4.3px;line-height:4.94px;color:#6a6a6a;letter-spacing:0.050px">0.29</div>
<div style="position:absolute;white-space:nowrap;left:817.54px;top:581.00px;font-size:4.3px;line-height:4.94px;font-weight:bold;color:#a52a2a;letter-spacing:0.050px">0.23</div>
<div style="position:absolute;white-space:nowrap;left:810.53px;top:586.00px;font-size:4.3px;line-height:4.94px;font-weight:bold;color:#a52a2a;letter-spacing:0.050px">(0.18, 0.27)</div>
<div style="position:absolute;white-space:nowrap;left:843.42px;top:584.00px;font-size:4.3px;line-height:4.94px;color:#6a6a6a;letter-spacing:0.050px">&lt;0.0001</div>
<div style="position:absolute;white-space:nowrap;left:876.64px;top:581.00px;font-size:4.3px;line-height:4.94px;font-weight:bold;color:#2f2f2f;letter-spacing:0.050px">0.08</div>
<div style="position:absolute;white-space:nowrap;left:869.75px;top:586.00px;font-size:4.3px;line-height:4.94px;font-weight:bold;color:#2f2f2f;letter-spacing:0.050px">(0.04, 0.11)</div>
<div style="position:absolute;white-space:nowrap;left:902.87px;top:584.00px;font-size:4.3px;line-height:4.94px;color:#6a6a6a;letter-spacing:0.050px">&lt;0.0001</div>
<div style="position:absolute;white-space:nowrap;left:939.75px;top:581.00px;font-size:4.3px;line-height:4.94px;color:#6a6a6a;letter-spacing:0.050px">0</div>
<div style="position:absolute;white-space:nowrap;left:935.81px;top:586.00px;font-size:4.3px;line-height:4.94px;color:#6a6a6a;letter-spacing:0.050px">(0, 0)</div>
<div style="position:absolute;white-space:nowrap;left:963.65px;top:584.00px;font-size:4.3px;line-height:4.94px;color:#6a6a6a;letter-spacing:0.050px">0.5018</div>
<div style="position:absolute;white-space:nowrap;left:758.00px;top:596.00px;font-size:4.3px;line-height:4.94px;font-weight:bold;color:#3a3a3a;letter-spacing:0.100px">ELF<span class="tm">™</span></div>
<div style="position:absolute;white-space:nowrap;left:789.04px;top:596.00px;font-size:4.3px;line-height:4.94px;color:#6a6a6a;letter-spacing:0.050px">0.37</div>
<div style="position:absolute;white-space:nowrap;left:817.54px;top:594.00px;font-size:4.3px;line-height:4.94px;font-weight:bold;color:#a52a2a;letter-spacing:0.050px">0.19</div>
<div style="position:absolute;white-space:nowrap;left:810.53px;top:599.00px;font-size:4.3px;line-height:4.94px;font-weight:bold;color:#a52a2a;letter-spacing:0.050px">(0.14, 0.26)</div>
<div style="position:absolute;white-space:nowrap;left:843.42px;top:596.00px;font-size:4.3px;line-height:4.94px;color:#6a6a6a;letter-spacing:0.050px">&lt;0.0001</div>
<div style="position:absolute;white-space:nowrap;left:876.64px;top:594.00px;font-size:4.3px;line-height:4.94px;font-weight:bold;color:#2f2f2f;letter-spacing:0.050px">0.17</div>
<div style="position:absolute;white-space:nowrap;left:869.63px;top:599.00px;font-size:4.3px;line-height:4.94px;font-weight:bold;color:#2f2f2f;letter-spacing:0.050px">(0.13, 0.22)</div>
<div style="position:absolute;white-space:nowrap;left:902.87px;top:596.00px;font-size:4.3px;line-height:4.94px;color:#6a6a6a;letter-spacing:0.050px">&lt;0.0001</div>
<div style="position:absolute;white-space:nowrap;left:936.69px;top:594.00px;font-size:4.3px;line-height:4.94px;color:#6a6a6a;letter-spacing:0.050px">0.01</div>
<div style="position:absolute;white-space:nowrap;left:932.74px;top:599.00px;font-size:4.3px;line-height:4.94px;color:#6a6a6a;letter-spacing:0.050px">(0, 0.02)</div>
<div style="position:absolute;white-space:nowrap;left:963.65px;top:596.00px;font-size:4.3px;line-height:4.94px;color:#6a6a6a;letter-spacing:0.050px">0.0628</div>
<div style="position:absolute;white-space:nowrap;left:758.00px;top:609.00px;font-size:4.3px;line-height:4.94px;font-weight:bold;color:#3a3a3a;letter-spacing:0.100px">APRI*</div>
<div style="position:absolute;white-space:nowrap;left:789.04px;top:609.00px;font-size:4.3px;line-height:4.94px;color:#6a6a6a;letter-spacing:0.050px">0.26</div>
<div style="position:absolute;white-space:nowrap;left:820.60px;top:606.00px;font-size:4.3px;line-height:4.94px;color:#6a6a6a;letter-spacing:0.050px">0</div>
<div style="position:absolute;white-space:nowrap;left:816.66px;top:611.00px;font-size:4.3px;line-height:4.94px;color:#6a6a6a;letter-spacing:0.050px">(0, 0)</div>
<div style="position:absolute;white-space:nowrap;left:844.70px;top:609.00px;font-size:4.3px;line-height:4.94px;color:#6a6a6a;letter-spacing:0.050px">0.9197</div>
<div style="position:absolute;white-space:nowrap;left:876.76px;top:606.00px;font-size:4.3px;line-height:4.94px;font-weight:bold;color:#2f2f2f;letter-spacing:0.050px">0.11</div>
<div style="position:absolute;white-space:nowrap;left:869.63px;top:611.00px;font-size:4.3px;line-height:4.94px;font-weight:bold;color:#2f2f2f;letter-spacing:0.050px">(0.07, 0.15)</div>
<div style="position:absolute;white-space:nowrap;left:902.87px;top:609.00px;font-size:4.3px;line-height:4.94px;color:#6a6a6a;letter-spacing:0.050px">&lt;0.0001</div>
<div style="position:absolute;white-space:nowrap;left:936.69px;top:606.00px;font-size:4.3px;line-height:4.94px;color:#6a6a6a;letter-spacing:0.050px">0.05</div>
<div style="position:absolute;white-space:nowrap;left:929.68px;top:611.00px;font-size:4.3px;line-height:4.94px;color:#6a6a6a;letter-spacing:0.050px">(0.02, 0.07)</div>
<div style="position:absolute;white-space:nowrap;left:962.37px;top:609.00px;font-size:4.3px;line-height:4.94px;color:#6a6a6a;letter-spacing:0.050px">&lt;0.0001</div>
<div style="position:absolute;white-space:nowrap;left:758.00px;top:621.00px;font-size:4.3px;line-height:4.94px;font-weight:bold;color:#3a3a3a;letter-spacing:0.100px">ALT*</div>
<div style="position:absolute;white-space:nowrap;left:789.04px;top:621.00px;font-size:4.3px;line-height:4.94px;color:#6a6a6a;letter-spacing:0.050px">0.24</div>
<div style="position:absolute;white-space:nowrap;left:817.54px;top:618.00px;font-size:4.3px;line-height:4.94px;color:#6a6a6a;letter-spacing:0.050px">0.04</div>
<div style="position:absolute;white-space:nowrap;left:810.53px;top:623.00px;font-size:4.3px;line-height:4.94px;color:#6a6a6a;letter-spacing:0.050px">(0.01, 0.06)</div>
<div style="position:absolute;white-space:nowrap;left:843.42px;top:621.00px;font-size:4.3px;line-height:4.94px;color:#6a6a6a;letter-spacing:0.050px">&lt;0.0001</div>
<div style="position:absolute;white-space:nowrap;left:876.64px;top:618.00px;font-size:4.3px;line-height:4.94px;color:#6a6a6a;letter-spacing:0.050px">0.03</div>
<div style="position:absolute;white-space:nowrap;left:869.63px;top:623.00px;font-size:4.3px;line-height:4.94px;color:#6a6a6a;letter-spacing:0.050px">(0.01, 0.05)</div>
<div style="position:absolute;white-space:nowrap;left:902.87px;top:621.00px;font-size:4.3px;line-height:4.94px;color:#6a6a6a;letter-spacing:0.050px">&lt;0.0001</div>
<div style="position:absolute;white-space:nowrap;left:936.69px;top:618.00px;font-size:4.3px;line-height:4.94px;font-weight:bold;color:#2f2f2f;letter-spacing:0.050px">0.09</div>
<div style="position:absolute;white-space:nowrap;left:929.68px;top:623.00px;font-size:4.3px;line-height:4.94px;font-weight:bold;color:#2f2f2f;letter-spacing:0.050px">(0.05, 0.12)</div>
<div style="position:absolute;white-space:nowrap;left:962.37px;top:621.00px;font-size:4.3px;line-height:4.94px;color:#6a6a6a;letter-spacing:0.050px">&lt;0.0001</div>
<div style="position:absolute;white-space:nowrap;left:757.50px;top:635.00px;font-size:4.2px;line-height:5.04px;font-style:italic;color:#555;letter-spacing:-0.018px;word-spacing:-0.036px">ω<sup>2</sup><sub>p</sub> effect sizes as a measure of impact magnitude: &lt;0.01=very low; [0.01, 0.06[=low; [0.06, 0.14[=medium; ≥0.14=large</div>
<div style="position:absolute;white-space:nowrap;left:757.50px;top:641.00px;font-size:4.2px;line-height:5.04px;font-style:italic;color:#555;letter-spacing:0.088px;word-spacing:0.176px">* indicates scores that have been log<sub>10</sub> transformed; ** indicate variable that has been logit transformed</div>
<div style="position:absolute;white-space:nowrap;left:764.70px;top:657.00px;font-size:7.8px;line-height:9.36px;color:#3c3c3c;letter-spacing:0.196px;word-spacing:-0.495px;-webkit-text-stroke:0.13px #3c3c3c">The magnitude of the impact of age was largest on FIB-4 and</div>
<div style="position:absolute;white-space:nowrap;left:758.30px;top:657.00px;font-size:7.8px;line-height:9.36px;color:#3c3c3c">•</div>
<div style="position:absolute;white-space:nowrap;left:764.70px;top:667.00px;font-size:7.8px;line-height:9.36px;color:#3c3c3c;letter-spacing:0.196px;word-spacing:-0.683px;-webkit-text-stroke:0.13px #3c3c3c">NFS (ω<sup>2</sup><sub>p</sub> effect size: 0.32 and 0.23, respectively), surpassing</div>
<div style="position:absolute;white-space:nowrap;left:764.70px;top:677.00px;font-size:7.8px;line-height:9.36px;color:#3c3c3c;letter-spacing:0.196px;word-spacing:0.292px;-webkit-text-stroke:0.13px #3c3c3c">that of fibrosis, their theoretical main driver (ω<sup>2</sup><sub>p</sub> effect size:</div>
<div style="position:absolute;white-space:nowrap;left:764.70px;top:687.00px;font-size:7.8px;line-height:9.36px;color:#3c3c3c;letter-spacing:0.196px;word-spacing:-0.526px;-webkit-text-stroke:0.13px #3c3c3c">0.13 and 0.08, respectively).</div>
<div style="position:absolute;white-space:nowrap;left:764.70px;top:697.00px;font-size:7.8px;line-height:9.36px;color:#3c3c3c;letter-spacing:0.196px;word-spacing:0.404px;-webkit-text-stroke:0.13px #3c3c3c">While ELF<span class="tm">™</span> was strongly impacted by age (ω<sup>2</sup><sub>p</sub> effect size:</div>
<div style="position:absolute;white-space:nowrap;left:758.30px;top:697.00px;font-size:7.8px;line-height:9.36px;color:#3c3c3c">•</div>
<div style="position:absolute;white-space:nowrap;left:764.70px;top:706.00px;font-size:7.8px;line-height:9.36px;color:#3c3c3c;letter-spacing:0.196px;word-spacing:1.745px;-webkit-text-stroke:0.13px #3c3c3c">0.19), the magnitude of this effect was similar to that of</div>
<div style="position:absolute;white-space:nowrap;left:764.70px;top:716.00px;font-size:7.8px;line-height:9.36px;color:#3c3c3c;letter-spacing:0.196px;word-spacing:-0.439px;-webkit-text-stroke:0.13px #3c3c3c">fibrosis (ω<sup>2</sup><sub>p</sub> effect size: 0.17).</div>
<div style="position:absolute;white-space:nowrap;left:764.70px;top:726.00px;font-size:7.8px;line-height:9.36px;color:#3c3c3c;letter-spacing:0.196px;word-spacing:-0.223px;-webkit-text-stroke:0.13px #3c3c3c">Among all NITs, including the disease activity surrogate ALT,</div>
<div style="position:absolute;white-space:nowrap;left:758.30px;top:726.00px;font-size:7.8px;line-height:9.36px;color:#3c3c3c">•</div>
<div style="position:absolute;white-space:nowrap;left:764.70px;top:736.00px;font-size:7.8px;line-height:9.36px;color:#3c3c3c;letter-spacing:0.196px;word-spacing:-1.300px;-webkit-text-stroke:0.13px #3c3c3c">the effect of NAS was largest on NIS2+<span class="tm">™</span> (ω<sup>2</sup><sub>p</sub> effect size: 0.12).</div>
<div style="position:absolute;white-space:nowrap;left:764.70px;top:745.00px;font-size:7.8px;line-height:9.36px;color:#3c3c3c;letter-spacing:0.196px;word-spacing:0.044px;-webkit-text-stroke:0.13px #3c3c3c">While not being impacted by age, NIS2+<span class="tm">™</span> was the only NIT</div>
<div style="position:absolute;white-space:nowrap;left:758.30px;top:745.00px;font-size:7.8px;line-height:9.36px;color:#3c3c3c">•</div>
<div style="position:absolute;white-space:nowrap;left:764.70px;top:755.00px;font-size:7.8px;line-height:9.36px;color:#3c3c3c;letter-spacing:0.196px;word-spacing:0.190px;-webkit-text-stroke:0.13px #3c3c3c">for which both F stage and NAS score had medium to large</div>
<div style="position:absolute;white-space:nowrap;left:764.70px;top:765.00px;font-size:7.8px;line-height:9.36px;color:#3c3c3c;letter-spacing:0.196px;word-spacing:-0.595px;-webkit-text-stroke:0.13px #3c3c3c">effect sizes (ω<sup>2</sup><sub>p</sub> effect size: 0.16 and 0.12, respectively).</div>
<div style="position:absolute;left:1001.00px;top:506.00px;width:0.80px;height:267.00px;background:#3a3a3a"></div>
<div style="position:absolute;white-space:nowrap;left:1026.40px;top:506.00px;font-size:9.6px;line-height:11.52px;font-weight:bold;color:#222;letter-spacing:0.052px;word-spacing:0.077px">Figure 3. ROC curves and AUROC values [95% CI] of NITs for the detection</div>
<div style="position:absolute;white-space:nowrap;left:1026.95px;top:516.00px;font-size:9.6px;line-height:11.52px;font-weight:bold;color:#222;letter-spacing:0.149px;word-spacing:0.223px">of subpopulations characterized by age or intended histologic endpoints</div>
<svg style="position:absolute;left:0;top:0" width="1484" height="921" viewBox="0 0 1484 921" font-family="'Liberation Sans',sans-serif"><path d="M1029.4 544.93H1098.4M1030.36 543.9V606.5M1029.4 552.50H1098.4M1038.74 543.9V606.5M1029.4 560.06H1098.4M1047.12 543.9V606.5M1029.4 567.63H1098.4M1055.50 543.9V606.5M1029.4 575.20H1098.4M1063.88 543.9V606.5M1029.4 582.76H1098.4M1072.26 543.9V606.5M1029.4 590.33H1098.4M1080.64 543.9V606.5M1029.4 597.89H1098.4M1089.02 543.9V606.5M1029.4 605.46H1098.4M1097.40 543.9V606.5" stroke="#ececec" stroke-width="0.3" fill="none"/><line x1="1030.4" y1="605.5" x2="1097.4" y2="544.9" stroke="#d6d6d6" stroke-width="0.4"/><text x="1030.36" y="610.26" font-size="2.2" text-anchor="middle" fill="#555">0.00</text><text x="1028.16" y="606.26" font-size="2.2" text-anchor="end" fill="#555">0.00</text><text x="1047.12" y="610.26" font-size="2.2" text-anchor="middle" fill="#555">0.25</text><text x="1028.16" y="591.13" font-size="2.2" text-anchor="end" fill="#555">0.25</text><text x="1063.88" y="610.26" font-size="2.2" text-anchor="middle" fill="#555">0.50</text><text x="1028.16" y="576.00" font-size="2.2" text-anchor="end" fill="#555">0.50</text><text x="1080.64" y="610.26" font-size="2.2" text-anchor="middle" fill="#555">0.75</text><text x="1028.16" y="560.86" font-size="2.2" text-anchor="end" fill="#555">0.75</text><text x="1097.40" y="610.26" font-size="2.2" text-anchor="middle" fill="#555">1.00</text><text x="1028.16" y="545.73" font-size="2.2" text-anchor="end" fill="#555">1.00</text><text x="1063.88" y="613.86" font-size="2.5" text-anchor="middle" fill="#333">1 - specificity</text><text x="1021.76" y="575.20" font-size="2.5" text-anchor="middle" fill="#333" transform="rotate(-90 1021.76 575.20)">sensitivity</text><text x="1019.76" y="539.93" font-size="3.0" text-anchor="start" font-weight="bold" fill="#111">A</text><text x="1026.96" y="539.93" font-size="2.8" text-anchor="start" font-weight="bold" fill="#222">NIS2+™</text><path d="M1030.4 605.5L1032.0 603.8L1033.7 601.6L1035.4 600.1L1037.1 598.6L1038.7 596.9L1040.4 596.2L1042.1 594.5L1043.8 592.5L1045.4 590.2L1047.1 590.1L1048.8 589.0L1050.5 588.5L1052.1 585.4L1053.8 583.0L1055.5 583.0L1057.2 579.5L1058.9 576.6L1060.5 575.1L1062.2 573.8L1063.9 573.8L1065.6 573.8L1067.2 572.2L1068.9 571.9L1070.6 570.8L1072.3 569.4L1073.9 568.6L1075.6 566.1L1077.3 564.0L1079.0 560.8L1080.6 559.2L1082.3 557.3L1084.0 556.0L1085.7 554.2L1087.3 553.0L1089.0 552.2L1090.7 549.6L1092.4 547.6L1094.1 546.3L1095.7 545.4L1097.4 544.9" fill="none" stroke="#1f3a6e" stroke-width="0.45" stroke-dasharray="1 0.45"/><path d="M1030.4 605.5L1032.0 604.4L1033.7 603.5L1035.4 601.3L1037.1 599.9L1038.7 597.5L1040.4 596.4L1042.1 593.7L1043.8 591.5L1045.4 591.5L1047.1 591.3L1048.8 588.2L1050.5 587.0L1052.1 583.9L1053.8 583.3L1055.5 583.3L1057.2 581.4L1058.9 578.8L1060.5 578.4L1062.2 578.3L1063.9 576.9L1065.6 573.2L1067.2 570.9L1068.9 570.9L1070.6 570.4L1072.3 569.9L1073.9 569.2L1075.6 565.7L1077.3 564.9L1079.0 562.6L1080.6 560.9L1082.3 560.0L1084.0 557.4L1085.7 556.7L1087.3 554.4L1089.0 553.6L1090.7 551.9L1092.4 550.5L1094.1 548.9L1095.7 546.4L1097.4 544.9" fill="none" stroke="#2a5590" stroke-width="0.45" stroke-dasharray="1 0.45"/><path d="M1030.4 605.5L1032.0 603.4L1033.7 602.1L1035.4 600.6L1037.1 598.2L1038.7 596.3L1040.4 595.8L1042.1 592.8L1043.8 592.2L1045.4 591.2L1047.1 588.6L1048.8 587.6L1050.5 586.6L1052.1 586.2L1053.8 585.4L1055.5 582.7L1057.2 581.5L1058.9 579.0L1060.5 577.6L1062.2 575.8L1063.9 572.3L1065.6 571.1L1067.2 569.5L1068.9 566.8L1070.6 566.8L1072.3 566.8L1073.9 563.5L1075.6 561.2L1077.3 561.0L1079.0 560.6L1080.6 558.1L1082.3 555.5L1084.0 555.4L1085.7 552.8L1087.3 550.9L1089.0 549.9L1090.7 549.2L1092.4 548.9L1094.1 548.1L1095.7 546.0L1097.4 544.9" fill="none" stroke="#3f78b5" stroke-width="0.45" stroke-dasharray="1 0.45"/><path d="M1030.4 605.5L1032.0 604.1L1033.7 602.2L1035.4 600.6L1037.1 599.7L1038.7 598.9L1040.4 596.7L1042.1 596.4L1043.8 595.4L1045.4 593.3L1047.1 590.4L1048.8 588.7L1050.5 588.1L1052.1 585.1L1053.8 585.0L1055.5 585.0L1057.2 583.9L1058.9 582.0L1060.5 581.6L1062.2 580.5L1063.9 578.5L1065.6 575.9L1067.2 575.3L1068.9 573.5L1070.6 569.9L1072.3 566.7L1073.9 565.1L1075.6 563.5L1077.3 562.2L1079.0 562.2L1080.6 562.2L1082.3 561.5L1084.0 558.0L1085.7 555.8L1087.3 553.2L1089.0 553.2L1090.7 551.2L1092.4 549.7L1094.1 547.8L1095.7 546.6L1097.4 544.9" fill="none" stroke="#6a9dcf" stroke-width="0.45" stroke-dasharray="1 0.45"/><path d="M1030.4 605.5L1032.0 604.0L1033.7 602.1L1035.4 599.8L1037.1 597.8L1038.7 596.0L1040.4 594.0L1042.1 591.8L1043.8 591.2L1045.4 589.5L1047.1 587.1L1048.8 585.0L1050.5 584.5L1052.1 582.5L1053.8 580.3L1055.5 579.3L1057.2 578.0L1058.9 577.5L1060.5 576.0L1062.2 574.4L1063.9 574.4L1065.6 572.5L1067.2 569.2L1068.9 566.8L1070.6 565.3L1072.3 565.0L1073.9 563.1L1075.6 561.9L1077.3 561.1L1079.0 558.8L1080.6 558.8L1082.3 556.9L1084.0 556.9L1085.7 554.9L1087.3 553.4L1089.0 552.5L1090.7 550.4L1092.4 549.0L1094.1 547.4L1095.7 545.7L1097.4 544.9" fill="none" stroke="#8fb8de" stroke-width="0.45" stroke-dasharray="1 0.45"/><path d="M1030.4 605.5L1032.0 604.4L1033.7 602.6L1035.4 601.6L1037.1 600.5L1038.7 597.8L1040.4 595.8L1042.1 594.5L1043.8 591.9L1045.4 591.2L1047.1 589.3L1048.8 588.9L1050.5 587.5L1052.1 584.8L1053.8 582.0L1055.5 579.7L1057.2 579.4L1058.9 578.0L1060.5 577.5L1062.2 577.4L1063.9 575.6L1065.6 572.6L1067.2 570.0L1068.9 568.3L1070.6 565.8L1072.3 565.8L1073.9 565.8L1075.6 564.5L1077.3 563.7L1079.0 562.8L1080.6 561.0L1082.3 558.7L1084.0 557.1L1085.7 555.9L1087.3 553.4L1089.0 550.9L1090.7 550.0L1092.4 549.6L1094.1 548.7L1095.7 546.4L1097.4 544.9" fill="none" stroke="#b3cfea" stroke-width="0.45" stroke-dasharray="1 0.45"/><path d="M1030.4 605.5L1032.0 592.7L1033.7 586.9L1035.4 581.6L1037.1 577.6L1038.7 573.9L1040.4 570.3L1042.1 567.6L1043.8 564.2L1045.4 562.0L1047.1 560.2L1048.8 558.6L1050.5 556.5L1052.1 554.9L1053.8 553.3L1055.5 551.9L1057.2 550.5L1058.9 549.2L1060.5 548.5L1062.2 548.5L1063.9 548.2L1065.6 548.2L1067.2 548.2L1068.9 547.9L1070.6 547.1L1072.3 547.1L1073.9 547.1L1075.6 546.9L1077.3 546.3L1079.0 546.1L1080.6 545.8L1082.3 545.4L1084.0 545.4L1085.7 545.1L1087.3 544.9L1089.0 544.9L1090.7 544.9L1092.4 544.9L1094.1 544.9L1095.7 544.9L1097.4 544.9" fill="none" stroke="#f4ba72" stroke-width="0.6"/><line x1="1061.2" x2="1064.6" y1="581.56" y2="581.56" stroke="#f4ba72" stroke-width="0.5"/><text x="1065.76" y="582.36" font-size="2.3" text-anchor="start" fill="#333">At-risk NASH: 0.822 [0.79, 0.85]</text><line x1="1061.2" x2="1064.6" y1="585.39" y2="585.39" stroke="#1f3a6e" stroke-width="0.5"/><text x="1065.76" y="586.19" font-size="2.3" text-anchor="start" fill="#333">≤45 vs ≥65: 0.528 [0.47, 0.58]</text><line x1="1061.2" x2="1064.6" y1="589.22" y2="589.22" stroke="#2a5590" stroke-width="0.5"/><text x="1065.76" y="590.02" font-size="2.3" text-anchor="start" fill="#333">≤45 vs 56-64: 0.510 [0.45, 0.57]</text><line x1="1061.2" x2="1064.6" y1="593.05" y2="593.05" stroke="#3f78b5" stroke-width="0.5"/><text x="1065.76" y="593.85" font-size="2.3" text-anchor="start" fill="#333">46-55 vs ≥65: 0.506 [0.45, 0.56]</text><line x1="1061.2" x2="1064.6" y1="596.88" y2="596.88" stroke="#6a9dcf" stroke-width="0.5"/><text x="1065.76" y="597.68" font-size="2.3" text-anchor="start" fill="#333">≤45 vs 46-55: 0.516 [0.46, 0.57]</text><line x1="1061.2" x2="1064.6" y1="600.71" y2="600.71" stroke="#8fb8de" stroke-width="0.5"/><text x="1065.76" y="601.51" font-size="2.3" text-anchor="start" fill="#333">56-64 vs ≥65: 0.529 [0.48, 0.59]</text><line x1="1061.2" x2="1064.6" y1="604.54" y2="604.54" stroke="#b3cfea" stroke-width="0.5"/><text x="1065.76" y="605.34" font-size="2.3" text-anchor="start" fill="#333">46-55 vs 56-64: 0.512 [0.46, 0.57]</text><path d="M1112.7 544.93H1182.0M1113.69 543.9V606.5M1112.7 552.50H1182.0M1122.11 543.9V606.5M1112.7 560.06H1182.0M1130.52 543.9V606.5M1112.7 567.63H1182.0M1138.94 543.9V606.5M1112.7 575.20H1182.0M1147.35 543.9V606.5M1112.7 582.76H1182.0M1155.77 543.9V606.5M1112.7 590.33H1182.0M1164.18 543.9V606.5M1112.7 597.89H1182.0M1172.60 543.9V606.5M1112.7 605.46H1182.0M1181.01 543.9V606.5" stroke="#ececec" stroke-width="0.3" fill="none"/><line x1="1113.7" y1="605.5" x2="1181.0" y2="544.9" stroke="#d6d6d6" stroke-width="0.4"/><text x="1113.69" y="610.26" font-size="2.2" text-anchor="middle" fill="#555">0.00</text><text x="1111.49" y="606.26" font-size="2.2" text-anchor="end" fill="#555">0.00</text><text x="1130.52" y="610.26" font-size="2.2" text-anchor="middle" fill="#555">0.25</text><text x="1111.49" y="591.13" font-size="2.2" text-anchor="end" fill="#555">0.25</text><text x="1147.35" y="610.26" font-size="2.2" text-anchor="middle" fill="#555">0.50</text><text x="1111.49" y="576.00" font-size="2.2" text-anchor="end" fill="#555">0.50</text><text x="1164.18" y="610.26" font-size="2.2" text-anchor="middle" fill="#555">0.75</text><text x="1111.49" y="560.86" font-size="2.2" text-anchor="end" fill="#555">0.75</text><text x="1181.01" y="610.26" font-size="2.2" text-anchor="middle" fill="#555">1.00</text><text x="1111.49" y="545.73" font-size="2.2" text-anchor="end" fill="#555">1.00</text><text x="1147.35" y="613.86" font-size="2.5" text-anchor="middle" fill="#333">1 - specificity</text><text x="1105.09" y="575.20" font-size="2.5" text-anchor="middle" fill="#333" transform="rotate(-90 1105.09 575.20)">sensitivity</text><text x="1103.09" y="539.93" font-size="3.0" text-anchor="start" font-weight="bold" fill="#111">B</text><text x="1110.29" y="539.93" font-size="2.8" text-anchor="start" font-weight="bold" fill="#222">FIB-4</text><path d="M1113.7 605.5L1115.4 590.7L1117.1 584.0L1118.7 577.8L1120.4 572.6L1122.1 567.7L1123.8 564.7L1125.5 561.6L1127.2 560.1L1128.8 557.2L1130.5 554.5L1132.2 552.8L1133.9 551.1L1135.6 551.1L1137.3 549.1L1138.9 547.1L1140.6 545.5L1142.3 545.5L1144.0 545.1L1145.7 545.1L1147.4 544.9L1149.0 544.9L1150.7 544.9L1152.4 544.9L1154.1 544.9L1155.8 544.9L1157.4 544.9L1159.1 544.9L1160.8 544.9L1162.5 544.9L1164.2 544.9L1165.9 544.9L1167.5 544.9L1169.2 544.9L1170.9 544.9L1172.6 544.9L1174.3 544.9L1176.0 544.9L1177.6 544.9L1179.3 544.9L1181.0 544.9" fill="none" stroke="#1f3a6e" stroke-width="0.45" stroke-dasharray="1 0.45"/><path d="M1113.7 605.5L1115.4 594.8L1117.1 588.9L1118.7 585.3L1120.4 581.8L1122.1 578.0L1123.8 575.1L1125.5 571.3L1127.2 568.1L1128.8 565.7L1130.5 562.4L1132.2 560.5L1133.9 559.6L1135.6 558.3L1137.3 555.5L1138.9 553.0L1140.6 553.0L1142.3 551.2L1144.0 549.0L1145.7 548.9L1147.4 548.5L1149.0 548.5L1150.7 548.5L1152.4 548.2L1154.1 547.4L1155.8 547.4L1157.4 546.5L1159.1 546.3L1160.8 546.3L1162.5 545.4L1164.2 545.3L1165.9 545.3L1167.5 544.9L1169.2 544.9L1170.9 544.9L1172.6 544.9L1174.3 544.9L1176.0 544.9L1177.6 544.9L1179.3 544.9L1181.0 544.9" fill="none" stroke="#2a5590" stroke-width="0.45" stroke-dasharray="1 0.45"/><path d="M1113.7 605.5L1115.4 598.6L1117.1 594.2L1118.7 590.9L1120.4 588.2L1122.1 585.9L1123.8 582.7L1125.5 578.8L1127.2 577.6L1128.8 574.3L1130.5 573.7L1132.2 572.2L1133.9 570.6L1135.6 567.5L1137.3 566.0L1138.9 564.5L1140.6 562.0L1142.3 561.8L1144.0 559.0L1145.7 558.9L1147.4 557.1L1149.0 556.5L1150.7 556.0L1152.4 554.2L1154.1 553.1L1155.8 552.3L1157.4 551.4L1159.1 550.2L1160.8 550.2L1162.5 550.2L1164.2 548.7L1165.9 547.5L1167.5 546.9L1169.2 545.6L1170.9 545.3L1172.6 544.9L1174.3 544.9L1176.0 544.9L1177.6 544.9L1179.3 544.9L1181.0 544.9" fill="none" stroke="#3f78b5" stroke-width="0.45" stroke-dasharray="1 0.45"/><path d="M1113.7 605.5L1115.4 599.9L1117.1 596.8L1118.7 592.9L1120.4 589.3L1122.1 587.7L1123.8 585.9L1125.5 582.7L1127.2 581.0L1128.8 579.8L1130.5 576.2L1132.2 574.3L1133.9 571.3L1135.6 570.8L1137.3 569.1L1138.9 566.5L1140.6 566.5L1142.3 565.5L1144.0 562.7L1145.7 559.4L1147.4 556.6L1149.0 556.6L1150.7 556.2L1152.4 554.2L1154.1 553.4L1155.8 551.9L1157.4 551.9L1159.1 551.9L1160.8 551.9L1162.5 551.9L1164.2 550.9L1165.9 549.5L1167.5 548.3L1169.2 548.3L1170.9 548.3L1172.6 548.0L1174.3 546.3L1176.0 545.0L1177.6 544.9L1179.3 544.9L1181.0 544.9" fill="none" stroke="#6a9dcf" stroke-width="0.45" stroke-dasharray="1 0.45"/><path d="M1113.7 605.5L1115.4 601.5L1117.1 598.4L1118.7 596.3L1120.4 594.0L1122.1 591.6L1123.8 589.6L1125.5 587.1L1127.2 586.4L1128.8 583.5L1130.5 580.4L1132.2 579.7L1133.9 577.8L1135.6 575.0L1137.3 573.7L1138.9 573.0L1140.6 572.2L1142.3 570.0L1144.0 569.7L1145.7 565.9L1147.4 563.2L1149.0 561.2L1150.7 558.9L1152.4 557.7L1154.1 557.4L1155.8 556.1L1157.4 555.2L1159.1 552.6L1160.8 551.2L1162.5 551.2L1164.2 549.7L1165.9 548.7L1167.5 547.7L1169.2 546.7L1170.9 546.7L1172.6 545.7L1174.3 544.9L1176.0 544.9L1177.6 544.9L1179.3 544.9L1181.0 544.9" fill="none" stroke="#8fb8de" stroke-width="0.45" stroke-dasharray="1 0.45"/><path d="M1113.7 605.5L1115.4 602.8L1117.1 600.5L1118.7 598.2L1120.4 596.9L1122.1 594.8L1123.8 592.1L1125.5 589.6L1127.2 588.3L1128.8 584.8L1130.5 582.6L1132.2 581.5L1133.9 579.2L1135.6 577.4L1137.3 575.7L1138.9 574.6L1140.6 571.1L1142.3 569.5L1144.0 567.7L1145.7 565.8L1147.4 563.2L1149.0 563.2L1150.7 562.7L1152.4 560.7L1154.1 560.6L1155.8 559.7L1157.4 559.7L1159.1 559.0L1160.8 557.5L1162.5 557.0L1164.2 555.7L1165.9 552.6L1167.5 551.3L1169.2 550.2L1170.9 548.0L1172.6 547.4L1174.3 545.9L1176.0 545.5L1177.6 544.9L1179.3 544.9L1181.0 544.9" fill="none" stroke="#b3cfea" stroke-width="0.45" stroke-dasharray="1 0.45"/><path d="M1113.7 605.5L1115.4 600.0L1117.1 596.2L1118.7 593.2L1120.4 590.3L1122.1 587.7L1123.8 585.0L1125.5 582.2L1127.2 580.3L1128.8 577.3L1130.5 575.2L1132.2 573.1L1133.9 570.9L1135.6 569.2L1137.3 567.7L1138.9 565.6L1140.6 563.9L1142.3 562.6L1144.0 560.7L1145.7 559.6L1147.4 558.9L1149.0 557.8L1150.7 557.0L1152.4 555.9L1154.1 554.1L1155.8 553.1L1157.4 551.4L1159.1 550.3L1160.8 550.2L1162.5 548.8L1164.2 547.8L1165.9 547.8L1167.5 547.0L1169.2 546.7L1170.9 546.4L1172.6 545.6L1174.3 545.6L1176.0 545.5L1177.6 545.0L1179.3 544.9L1181.0 544.9" fill="none" stroke="#f4ba72" stroke-width="0.6"/><line x1="1144.5" x2="1147.9" y1="581.56" y2="581.56" stroke="#f4ba72" stroke-width="0.5"/><text x="1149.09" y="582.36" font-size="2.3" text-anchor="start" fill="#333">F≥3: 0.699 [0.67, 0.73]</text><line x1="1144.5" x2="1147.9" y1="585.39" y2="585.39" stroke="#1f3a6e" stroke-width="0.5"/><text x="1149.09" y="586.19" font-size="2.3" text-anchor="start" fill="#333">≤45 vs ≥65: 0.810 [0.77, 0.85]</text><line x1="1144.5" x2="1147.9" y1="589.22" y2="589.22" stroke="#2a5590" stroke-width="0.5"/><text x="1149.09" y="590.02" font-size="2.3" text-anchor="start" fill="#333">≤45 vs 56-64: 0.773 [0.73, 0.82]</text><line x1="1144.5" x2="1147.9" y1="593.05" y2="593.05" stroke="#3f78b5" stroke-width="0.5"/><text x="1149.09" y="593.85" font-size="2.3" text-anchor="start" fill="#333">46-55 vs ≥65: 0.717 [0.67, 0.77]</text><line x1="1144.5" x2="1147.9" y1="596.88" y2="596.88" stroke="#6a9dcf" stroke-width="0.5"/><text x="1149.09" y="597.68" font-size="2.3" text-anchor="start" fill="#333">≤45 vs 46-55: 0.676 [0.62, 0.73]</text><line x1="1144.5" x2="1147.9" y1="600.71" y2="600.71" stroke="#8fb8de" stroke-width="0.5"/><text x="1149.09" y="601.51" font-size="2.3" text-anchor="start" fill="#333">56-64 vs ≥65: 0.601 [0.55, 0.66]</text><line x1="1144.5" x2="1147.9" y1="604.54" y2="604.54" stroke="#b3cfea" stroke-width="0.5"/><text x="1149.09" y="605.34" font-size="2.3" text-anchor="start" fill="#333">46-55 vs 56-64: 0.603 [0.55, 0.66]</text><path d="M1029.4 623.11H1098.4M1030.36 622.1V684.9M1029.4 630.71H1098.4M1038.74 622.1V684.9M1029.4 638.31H1098.4M1047.12 622.1V684.9M1029.4 645.91H1098.4M1055.50 622.1V684.9M1029.4 653.51H1098.4M1063.88 622.1V684.9M1029.4 661.11H1098.4M1072.26 622.1V684.9M1029.4 668.71H1098.4M1080.64 622.1V684.9M1029.4 676.31H1098.4M1089.02 622.1V684.9M1029.4 683.91H1098.4M1097.40 622.1V684.9" stroke="#ececec" stroke-width="0.3" fill="none"/><line x1="1030.4" y1="683.9" x2="1097.4" y2="623.1" stroke="#d6d6d6" stroke-width="0.4"/><text x="1030.36" y="688.71" font-size="2.2" text-anchor="middle" fill="#555">0.00</text><text x="1028.16" y="684.71" font-size="2.2" text-anchor="end" fill="#555">0.00</text><text x="1047.12" y="688.71" font-size="2.2" text-anchor="middle" fill="#555">0.25</text><text x="1028.16" y="669.51" font-size="2.2" text-anchor="end" fill="#555">0.25</text><text x="1063.88" y="688.71" font-size="2.2" text-anchor="middle" fill="#555">0.50</text><text x="1028.16" y="654.31" font-size="2.2" text-anchor="end" fill="#555">0.50</text><text x="1080.64" y="688.71" font-size="2.2" text-anchor="middle" fill="#555">0.75</text><text x="1028.16" y="639.11" font-size="2.2" text-anchor="end" fill="#555">0.75</text><text x="1097.40" y="688.71" font-size="2.2" text-anchor="middle" fill="#555">1.00</text><text x="1028.16" y="623.91" font-size="2.2" text-anchor="end" fill="#555">1.00</text><text x="1063.88" y="692.31" font-size="2.5" text-anchor="middle" fill="#333">1 - specificity</text><text x="1021.76" y="653.51" font-size="2.5" text-anchor="middle" fill="#333" transform="rotate(-90 1021.76 653.51)">sensitivity</text><text x="1019.76" y="618.11" font-size="3.0" text-anchor="start" font-weight="bold" fill="#111">C</text><text x="1026.96" y="618.11" font-size="2.8" text-anchor="start" font-weight="bold" fill="#222">NFS</text><path d="M1030.4 683.9L1032.0 669.5L1033.7 663.1L1035.4 658.5L1037.1 653.6L1038.7 649.7L1040.4 646.8L1042.1 644.7L1043.8 641.5L1045.4 639.9L1047.1 637.5L1048.8 634.7L1050.5 633.1L1052.1 632.4L1053.8 630.6L1055.5 629.7L1057.2 627.7L1058.9 627.0L1060.5 624.7L1062.2 623.2L1063.9 623.1L1065.6 623.1L1067.2 623.1L1068.9 623.1L1070.6 623.1L1072.3 623.1L1073.9 623.1L1075.6 623.1L1077.3 623.1L1079.0 623.1L1080.6 623.1L1082.3 623.1L1084.0 623.1L1085.7 623.1L1087.3 623.1L1089.0 623.1L1090.7 623.1L1092.4 623.1L1094.1 623.1L1095.7 623.1L1097.4 623.1" fill="none" stroke="#1f3a6e" stroke-width="0.45" stroke-dasharray="1 0.45"/><path d="M1030.4 683.9L1032.0 673.4L1033.7 668.8L1035.4 664.1L1037.1 660.8L1038.7 657.8L1040.4 653.6L1042.1 650.2L1043.8 646.9L1045.4 644.7L1047.1 642.4L1048.8 641.1L1050.5 639.4L1052.1 636.5L1053.8 633.7L1055.5 633.7L1057.2 633.7L1058.9 631.2L1060.5 629.7L1062.2 628.0L1063.9 628.0L1065.6 628.0L1067.2 628.0L1068.9 626.3L1070.6 626.3L1072.3 625.3L1073.9 623.4L1075.6 623.4L1077.3 623.4L1079.0 623.3L1080.6 623.1L1082.3 623.1L1084.0 623.1L1085.7 623.1L1087.3 623.1L1089.0 623.1L1090.7 623.1L1092.4 623.1L1094.1 623.1L1095.7 623.1L1097.4 623.1" fill="none" stroke="#2a5590" stroke-width="0.45" stroke-dasharray="1 0.45"/><path d="M1030.4 683.9L1032.0 677.0L1033.7 673.2L1035.4 669.2L1037.1 666.6L1038.7 663.7L1040.4 659.9L1042.1 656.6L1043.8 654.6L1045.4 653.1L1047.1 650.9L1048.8 647.6L1050.5 645.9L1052.1 645.1L1053.8 642.1L1055.5 640.0L1057.2 636.9L1058.9 634.2L1060.5 632.1L1062.2 632.1L1063.9 630.4L1065.6 630.4L1067.2 630.4L1068.9 630.3L1070.6 627.8L1072.3 626.1L1073.9 626.1L1075.6 626.1L1077.3 626.1L1079.0 626.1L1080.6 626.1L1082.3 626.0L1084.0 626.0L1085.7 625.2L1087.3 624.0L1089.0 623.7L1090.7 623.1L1092.4 623.1L1094.1 623.1L1095.7 623.1L1097.4 623.1" fill="none" stroke="#3f78b5" stroke-width="0.45" stroke-dasharray="1 0.45"/><path d="M1030.4 683.9L1032.0 679.9L1033.7 676.7L1035.4 673.6L1037.1 670.7L1038.7 667.0L1040.4 664.3L1042.1 661.4L1043.8 660.7L1045.4 658.4L1047.1 655.4L1048.8 654.9L1050.5 654.1L1052.1 650.9L1053.8 647.6L1055.5 647.5L1057.2 645.2L1058.9 644.8L1060.5 641.9L1062.2 639.9L1063.9 639.5L1065.6 639.0L1067.2 636.3L1068.9 635.0L1070.6 632.8L1072.3 632.4L1073.9 632.0L1075.6 629.3L1077.3 628.2L1079.0 627.8L1080.6 627.2L1082.3 626.1L1084.0 625.2L1085.7 623.9L1087.3 623.9L1089.0 623.4L1090.7 623.1L1092.4 623.1L1094.1 623.1L1095.7 623.1L1097.4 623.1" fill="none" stroke="#6a9dcf" stroke-width="0.45" stroke-dasharray="1 0.45"/><path d="M1030.4 683.9L1032.0 680.1L1033.7 677.5L1035.4 674.8L1037.1 672.0L1038.7 670.2L1040.4 668.4L1042.1 667.3L1043.8 664.4L1045.4 661.1L1047.1 659.9L1048.8 659.3L1050.5 658.2L1052.1 656.3L1053.8 654.9L1055.5 651.0L1057.2 651.0L1058.9 649.8L1060.5 649.1L1062.2 646.2L1063.9 643.3L1065.6 643.1L1067.2 642.9L1068.9 640.9L1070.6 638.7L1072.3 635.7L1073.9 635.7L1075.6 635.7L1077.3 635.2L1079.0 634.2L1080.6 633.1L1082.3 630.6L1084.0 629.0L1085.7 628.6L1087.3 628.2L1089.0 627.4L1090.7 626.8L1092.4 625.0L1094.1 624.5L1095.7 623.7L1097.4 623.1" fill="none" stroke="#8fb8de" stroke-width="0.45" stroke-dasharray="1 0.45"/><path d="M1030.4 683.9L1032.0 681.5L1033.7 678.7L1035.4 675.8L1037.1 674.2L1038.7 672.2L1040.4 669.2L1042.1 667.7L1043.8 666.8L1045.4 666.3L1047.1 662.7L1048.8 660.1L1050.5 659.0L1052.1 657.3L1053.8 655.7L1055.5 654.9L1057.2 651.3L1058.9 649.5L1060.5 649.3L1062.2 649.3L1063.9 647.6L1065.6 646.2L1067.2 643.2L1068.9 641.0L1070.6 639.4L1072.3 639.4L1073.9 639.2L1075.6 637.9L1077.3 636.9L1079.0 633.8L1080.6 632.5L1082.3 630.9L1084.0 628.5L1085.7 628.5L1087.3 627.6L1089.0 627.5L1090.7 625.8L1092.4 625.8L1094.1 624.3L1095.7 623.3L1097.4 623.1" fill="none" stroke="#b3cfea" stroke-width="0.45" stroke-dasharray="1 0.45"/><path d="M1030.4 683.9L1032.0 679.5L1033.7 676.1L1035.4 673.5L1037.1 670.7L1038.7 668.1L1040.4 665.1L1042.1 662.7L1043.8 660.1L1045.4 658.3L1047.1 655.8L1048.8 654.0L1050.5 651.6L1052.1 650.4L1053.8 648.1L1055.5 646.9L1057.2 645.1L1058.9 643.4L1060.5 642.4L1062.2 640.2L1063.9 639.1L1065.6 638.0L1067.2 637.2L1068.9 635.9L1070.6 634.5L1072.3 632.9L1073.9 631.9L1075.6 630.6L1077.3 630.2L1079.0 629.3L1080.6 628.4L1082.3 626.9L1084.0 626.0L1085.7 625.4L1087.3 625.4L1089.0 625.0L1090.7 624.3L1092.4 624.1L1094.1 623.7L1095.7 623.4L1097.4 623.1" fill="none" stroke="#f4ba72" stroke-width="0.6"/><line x1="1061.2" x2="1064.6" y1="660.01" y2="660.01" stroke="#f4ba72" stroke-width="0.5"/><text x="1065.76" y="660.81" font-size="2.3" text-anchor="start" fill="#333">F≥3: 0.699 [0.67, 0.73]</text><line x1="1061.2" x2="1064.6" y1="663.84" y2="663.84" stroke="#1f3a6e" stroke-width="0.5"/><text x="1065.76" y="664.64" font-size="2.3" text-anchor="start" fill="#333">≤45 vs ≥65: 0.810 [0.77, 0.85]</text><line x1="1061.2" x2="1064.6" y1="667.67" y2="667.67" stroke="#2a5590" stroke-width="0.5"/><text x="1065.76" y="668.47" font-size="2.3" text-anchor="start" fill="#333">≤45 vs 56-64: 0.773 [0.73, 0.82]</text><line x1="1061.2" x2="1064.6" y1="671.50" y2="671.50" stroke="#3f78b5" stroke-width="0.5"/><text x="1065.76" y="672.30" font-size="2.3" text-anchor="start" fill="#333">46-55 vs ≥65: 0.717 [0.67, 0.77]</text><line x1="1061.2" x2="1064.6" y1="675.33" y2="675.33" stroke="#6a9dcf" stroke-width="0.5"/><text x="1065.76" y="676.13" font-size="2.3" text-anchor="start" fill="#333">≤45 vs 46-55: 0.676 [0.62, 0.73]</text><line x1="1061.2" x2="1064.6" y1="679.16" y2="679.16" stroke="#8fb8de" stroke-width="0.5"/><text x="1065.76" y="679.96" font-size="2.3" text-anchor="start" fill="#333">56-64 vs ≥65: 0.601 [0.55, 0.66]</text><line x1="1061.2" x2="1064.6" y1="682.99" y2="682.99" stroke="#b3cfea" stroke-width="0.5"/><text x="1065.76" y="683.79" font-size="2.3" text-anchor="start" fill="#333">46-55 vs 56-64: 0.603 [0.55, 0.66]</text><path d="M1112.7 623.11H1182.0M1113.69 622.1V684.9M1112.7 630.71H1182.0M1122.11 622.1V684.9M1112.7 638.31H1182.0M1130.52 622.1V684.9M1112.7 645.91H1182.0M1138.94 622.1V684.9M1112.7 653.51H1182.0M1147.35 622.1V684.9M1112.7 661.11H1182.0M1155.77 622.1V684.9M1112.7 668.71H1182.0M1164.18 622.1V684.9M1112.7 676.31H1182.0M1172.60 622.1V684.9M1112.7 683.91H1182.0M1181.01 622.1V684.9" stroke="#ececec" stroke-width="0.3" fill="none"/><line x1="1113.7" y1="683.9" x2="1181.0" y2="623.1" stroke="#d6d6d6" stroke-width="0.4"/><text x="1113.69" y="688.71" font-size="2.2" text-anchor="middle" fill="#555">0.00</text><text x="1111.49" y="684.71" font-size="2.2" text-anchor="end" fill="#555">0.00</text><text x="1130.52" y="688.71" font-size="2.2" text-anchor="middle" fill="#555">0.25</text><text x="1111.49" y="669.51" font-size="2.2" text-anchor="end" fill="#555">0.25</text><text x="1147.35" y="688.71" font-size="2.2" text-anchor="middle" fill="#555">0.50</text><text x="1111.49" y="654.31" font-size="2.2" text-anchor="end" fill="#555">0.50</text><text x="1164.18" y="688.71" font-size="2.2" text-anchor="middle" fill="#555">0.75</text><text x="1111.49" y="639.11" font-size="2.2" text-anchor="end" fill="#555">0.75</text><text x="1181.01" y="688.71" font-size="2.2" text-anchor="middle" fill="#555">1.00</text><text x="1111.49" y="623.91" font-size="2.2" text-anchor="end" fill="#555">1.00</text><text x="1147.35" y="692.31" font-size="2.5" text-anchor="middle" fill="#333">1 - specificity</text><text x="1105.09" y="653.51" font-size="2.5" text-anchor="middle" fill="#333" transform="rotate(-90 1105.09 653.51)">sensitivity</text><text x="1103.09" y="618.11" font-size="3.0" text-anchor="start" font-weight="bold" fill="#111">D</text><text x="1110.29" y="618.11" font-size="2.8" text-anchor="start" font-weight="bold" fill="#222">ELF™</text><path d="M1113.7 683.9L1115.4 672.8L1117.1 668.0L1118.7 663.3L1120.4 659.8L1122.1 656.4L1123.8 652.8L1125.5 650.3L1127.2 647.8L1128.8 645.3L1130.5 642.2L1132.2 640.8L1133.9 639.7L1135.6 636.7L1137.3 635.6L1138.9 632.4L1140.6 631.2L1142.3 629.6L1144.0 629.6L1145.7 627.7L1147.4 627.7L1149.0 627.7L1150.7 627.7L1152.4 627.7L1154.1 626.2L1155.8 626.2L1157.4 626.2L1159.1 624.7L1160.8 624.2L1162.5 624.2L1164.2 624.2L1165.9 624.2L1167.5 624.2L1169.2 624.2L1170.9 624.2L1172.6 624.1L1174.3 624.0L1176.0 623.7L1177.6 623.2L1179.3 623.1L1181.0 623.1" fill="none" stroke="#1f3a6e" stroke-width="0.45" stroke-dasharray="1 0.45"/><path d="M1113.7 683.9L1115.4 677.0L1117.1 673.0L1118.7 670.1L1120.4 666.7L1122.1 662.9L1123.8 658.7L1125.5 655.4L1127.2 652.7L1128.8 650.3L1130.5 649.9L1132.2 648.1L1133.9 646.4L1135.6 643.6L1137.3 643.1L1138.9 641.4L1140.6 639.3L1142.3 636.5L1144.0 634.1L1145.7 632.8L1147.4 632.8L1149.0 631.1L1150.7 628.9L1152.4 628.4L1154.1 628.4L1155.8 628.0L1157.4 628.0L1159.1 627.0L1160.8 624.9L1162.5 624.8L1164.2 624.1L1165.9 623.2L1167.5 623.2L1169.2 623.1L1170.9 623.1L1172.6 623.1L1174.3 623.1L1176.0 623.1L1177.6 623.1L1179.3 623.1L1181.0 623.1" fill="none" stroke="#2a5590" stroke-width="0.45" stroke-dasharray="1 0.45"/><path d="M1113.7 683.9L1115.4 677.8L1117.1 674.2L1118.7 671.5L1120.4 667.4L1122.1 665.4L1123.8 661.6L1125.5 659.1L1127.2 656.6L1128.8 654.2L1130.5 652.9L1132.2 649.4L1133.9 646.1L1135.6 643.7L1137.3 642.3L1138.9 642.3L1140.6 639.9L1142.3 639.5L1144.0 636.7L1145.7 636.7L1147.4 635.2L1149.0 632.8L1150.7 632.8L1152.4 632.0L1154.1 632.0L1155.8 632.0L1157.4 632.0L1159.1 628.8L1160.8 626.5L1162.5 625.8L1164.2 625.8L1165.9 625.2L1167.5 624.3L1169.2 624.3L1170.9 624.1L1172.6 623.2L1174.3 623.2L1176.0 623.2L1177.6 623.2L1179.3 623.2L1181.0 623.1" fill="none" stroke="#3f78b5" stroke-width="0.45" stroke-dasharray="1 0.45"/><path d="M1113.7 683.9L1115.4 679.5L1117.1 676.3L1118.7 673.8L1120.4 670.8L1122.1 668.5L1123.8 665.5L1125.5 664.3L1127.2 661.2L1128.8 659.9L1130.5 656.0L1132.2 653.7L1133.9 652.0L1135.6 650.5L1137.3 648.2L1138.9 645.9L1140.6 643.5L1142.3 641.4L1144.0 640.5L1145.7 637.6L1147.4 635.8L1149.0 634.1L1150.7 634.1L1152.4 633.8L1154.1 632.7L1155.8 630.5L1157.4 630.1L1159.1 629.5L1160.8 629.1L1162.5 627.1L1164.2 627.1L1165.9 627.1L1167.5 626.5L1169.2 624.8L1170.9 624.1L1172.6 623.8L1174.3 623.2L1176.0 623.2L1177.6 623.2L1179.3 623.2L1181.0 623.1" fill="none" stroke="#6a9dcf" stroke-width="0.45" stroke-dasharray="1 0.45"/><path d="M1113.7 683.9L1115.4 680.6L1117.1 678.2L1118.7 676.5L1120.4 673.6L1122.1 671.2L1123.8 669.6L1125.5 667.8L1127.2 665.8L1128.8 664.3L1130.5 663.2L1132.2 659.3L1133.9 655.7L1135.6 653.7L1137.3 651.0L1138.9 650.2L1140.6 647.8L1142.3 647.8L1144.0 645.4L1145.7 643.9L1147.4 641.3L1149.0 641.3L1150.7 639.4L1152.4 639.4L1154.1 638.0L1155.8 635.1L1157.4 635.1L1159.1 635.1L1160.8 634.4L1162.5 633.3L1164.2 633.0L1165.9 630.0L1167.5 628.0L1169.2 627.5L1170.9 627.1L1172.6 626.0L1174.3 626.0L1176.0 625.9L1177.6 624.2L1179.3 623.8L1181.0 623.1" fill="none" stroke="#8fb8de" stroke-width="0.45" stroke-dasharray="1 0.45"/><path d="M1113.7 683.9L1115.4 680.7L1117.1 678.7L1118.7 677.3L1120.4 675.8L1122.1 672.9L1123.8 670.2L1125.5 669.5L1127.2 666.8L1128.8 665.8L1130.5 664.2L1132.2 663.6L1133.9 660.3L1135.6 657.1L1137.3 657.1L1138.9 655.1L1140.6 654.8L1142.3 651.6L1144.0 651.6L1145.7 651.6L1147.4 648.5L1149.0 647.5L1150.7 644.2L1152.4 641.6L1154.1 639.9L1155.8 639.9L1157.4 638.3L1159.1 635.7L1160.8 635.1L1162.5 635.1L1164.2 634.9L1165.9 633.8L1167.5 631.5L1169.2 630.9L1170.9 630.2L1172.6 629.2L1174.3 627.2L1176.0 625.4L1177.6 624.7L1179.3 623.7L1181.0 623.1" fill="none" stroke="#b3cfea" stroke-width="0.45" stroke-dasharray="1 0.45"/><path d="M1113.7 683.9L1115.4 676.2L1117.1 672.0L1118.7 667.9L1120.4 664.3L1122.1 661.3L1123.8 658.1L1125.5 655.7L1127.2 652.5L1128.8 650.1L1130.5 647.8L1132.2 645.7L1133.9 644.3L1135.6 642.1L1137.3 640.6L1138.9 639.2L1140.6 637.0L1142.3 636.2L1144.0 635.0L1145.7 633.2L1147.4 632.4L1149.0 631.6L1150.7 630.4L1152.4 629.9L1154.1 628.3L1155.8 627.0L1157.4 627.0L1159.1 626.7L1160.8 625.8L1162.5 625.6L1164.2 624.7L1165.9 624.5L1167.5 624.5L1169.2 624.3L1170.9 623.9L1172.6 623.9L1174.3 623.6L1176.0 623.3L1177.6 623.2L1179.3 623.2L1181.0 623.1" fill="none" stroke="#f4ba72" stroke-width="0.6"/><line x1="1144.5" x2="1147.9" y1="660.01" y2="660.01" stroke="#f4ba72" stroke-width="0.5"/><text x="1149.09" y="660.81" font-size="2.3" text-anchor="start" fill="#333">F≥3: 0.699 [0.67, 0.73]</text><line x1="1144.5" x2="1147.9" y1="663.84" y2="663.84" stroke="#1f3a6e" stroke-width="0.5"/><text x="1149.09" y="664.64" font-size="2.3" text-anchor="start" fill="#333">≤45 vs ≥65: 0.810 [0.77, 0.85]</text><line x1="1144.5" x2="1147.9" y1="667.67" y2="667.67" stroke="#2a5590" stroke-width="0.5"/><text x="1149.09" y="668.47" font-size="2.3" text-anchor="start" fill="#333">≤45 vs 56-64: 0.773 [0.73, 0.82]</text><line x1="1144.5" x2="1147.9" y1="671.50" y2="671.50" stroke="#3f78b5" stroke-width="0.5"/><text x="1149.09" y="672.30" font-size="2.3" text-anchor="start" fill="#333">46-55 vs ≥65: 0.717 [0.67, 0.77]</text><line x1="1144.5" x2="1147.9" y1="675.33" y2="675.33" stroke="#6a9dcf" stroke-width="0.5"/><text x="1149.09" y="676.13" font-size="2.3" text-anchor="start" fill="#333">≤45 vs 46-55: 0.676 [0.62, 0.73]</text><line x1="1144.5" x2="1147.9" y1="679.16" y2="679.16" stroke="#8fb8de" stroke-width="0.5"/><text x="1149.09" y="679.96" font-size="2.3" text-anchor="start" fill="#333">56-64 vs ≥65: 0.601 [0.55, 0.66]</text><line x1="1144.5" x2="1147.9" y1="682.99" y2="682.99" stroke="#b3cfea" stroke-width="0.5"/><text x="1149.09" y="683.79" font-size="2.3" text-anchor="start" fill="#333">46-55 vs 56-64: 0.603 [0.55, 0.66]</text><path d="M1029.4 701.55H1098.4M1030.36 700.6V763.1M1029.4 709.12H1098.4M1038.74 700.6V763.1M1029.4 716.69H1098.4M1047.12 700.6V763.1M1029.4 724.25H1098.4M1055.50 700.6V763.1M1029.4 731.82H1098.4M1063.88 700.6V763.1M1029.4 739.39H1098.4M1072.26 700.6V763.1M1029.4 746.95H1098.4M1080.64 700.6V763.1M1029.4 754.52H1098.4M1089.02 700.6V763.1M1029.4 762.08H1098.4M1097.40 700.6V763.1" stroke="#ececec" stroke-width="0.3" fill="none"/><line x1="1030.4" y1="762.1" x2="1097.4" y2="701.6" stroke="#d6d6d6" stroke-width="0.4"/><text x="1030.36" y="766.88" font-size="2.2" text-anchor="middle" fill="#555">0.00</text><text x="1028.16" y="762.88" font-size="2.2" text-anchor="end" fill="#555">0.00</text><text x="1047.12" y="766.88" font-size="2.2" text-anchor="middle" fill="#555">0.25</text><text x="1028.16" y="747.75" font-size="2.2" text-anchor="end" fill="#555">0.25</text><text x="1063.88" y="766.88" font-size="2.2" text-anchor="middle" fill="#555">0.50</text><text x="1028.16" y="732.62" font-size="2.2" text-anchor="end" fill="#555">0.50</text><text x="1080.64" y="766.88" font-size="2.2" text-anchor="middle" fill="#555">0.75</text><text x="1028.16" y="717.49" font-size="2.2" text-anchor="end" fill="#555">0.75</text><text x="1097.40" y="766.88" font-size="2.2" text-anchor="middle" fill="#555">1.00</text><text x="1028.16" y="702.35" font-size="2.2" text-anchor="end" fill="#555">1.00</text><text x="1063.88" y="770.48" font-size="2.5" text-anchor="middle" fill="#333">1 - specificity</text><text x="1021.76" y="731.82" font-size="2.5" text-anchor="middle" fill="#333" transform="rotate(-90 1021.76 731.82)">sensitivity</text><text x="1019.76" y="696.55" font-size="3.0" text-anchor="start" font-weight="bold" fill="#111">E</text><text x="1026.96" y="696.55" font-size="2.8" text-anchor="start" font-weight="bold" fill="#222">APRI</text><path d="M1030.4 762.1L1032.0 760.2L1033.7 757.8L1035.4 756.8L1037.1 754.6L1038.7 753.8L1040.4 751.9L1042.1 751.0L1043.8 749.3L1045.4 746.8L1047.1 744.4L1048.8 742.1L1050.5 741.9L1052.1 740.5L1053.8 739.9L1055.5 737.8L1057.2 736.2L1058.9 736.2L1060.5 733.8L1062.2 731.2L1063.9 729.5L1065.6 726.7L1067.2 726.7L1068.9 726.5L1070.6 726.3L1072.3 724.0L1073.9 722.2L1075.6 720.5L1077.3 719.4L1079.0 716.5L1080.6 716.3L1082.3 713.2L1084.0 711.7L1085.7 710.3L1087.3 708.3L1089.0 707.9L1090.7 707.2L1092.4 706.0L1094.1 705.0L1095.7 703.4L1097.4 701.6" fill="none" stroke="#1f3a6e" stroke-width="0.45" stroke-dasharray="1 0.45"/><path d="M1030.4 762.1L1032.0 760.8L1033.7 759.1L1035.4 758.3L1037.1 756.0L1038.7 755.3L1040.4 754.2L1042.1 753.3L1043.8 750.8L1045.4 748.1L1047.1 745.8L1048.8 745.8L1050.5 744.6L1052.1 743.4L1053.8 742.5L1055.5 738.9L1057.2 738.9L1058.9 737.3L1060.5 734.6L1062.2 731.4L1063.9 731.4L1065.6 730.4L1067.2 728.0L1068.9 728.0L1070.6 727.4L1072.3 724.0L1073.9 723.8L1075.6 722.3L1077.3 721.1L1079.0 719.4L1080.6 718.8L1082.3 717.9L1084.0 714.1L1085.7 711.8L1087.3 709.8L1089.0 709.2L1090.7 708.2L1092.4 706.3L1094.1 705.1L1095.7 703.4L1097.4 701.6" fill="none" stroke="#2a5590" stroke-width="0.45" stroke-dasharray="1 0.45"/><path d="M1030.4 762.1L1032.0 760.4L1033.7 757.9L1035.4 756.0L1037.1 755.3L1038.7 753.7L1040.4 751.5L1042.1 751.0L1043.8 749.4L1045.4 746.8L1047.1 744.0L1048.8 742.3L1050.5 739.6L1052.1 738.6L1053.8 737.8L1055.5 735.1L1057.2 734.4L1058.9 732.0L1060.5 731.9L1062.2 730.9L1063.9 730.4L1065.6 728.2L1067.2 727.6L1068.9 726.6L1070.6 725.4L1072.3 723.2L1073.9 721.8L1075.6 719.9L1077.3 716.4L1079.0 714.6L1080.6 712.4L1082.3 712.4L1084.0 711.5L1085.7 711.2L1087.3 709.0L1089.0 707.9L1090.7 706.9L1092.4 706.2L1094.1 704.9L1095.7 703.4L1097.4 701.6" fill="none" stroke="#3f78b5" stroke-width="0.45" stroke-dasharray="1 0.45"/><path d="M1030.4 762.1L1032.0 759.9L1033.7 758.6L1035.4 757.3L1037.1 756.4L1038.7 753.7L1040.4 752.5L1042.1 750.2L1043.8 748.2L1045.4 745.8L1047.1 745.8L1048.8 745.2L1050.5 743.9L1052.1 743.5L1053.8 740.1L1055.5 739.1L1057.2 736.4L1058.9 735.0L1060.5 735.0L1062.2 733.6L1063.9 732.7L1065.6 732.2L1067.2 731.1L1068.9 728.2L1070.6 727.8L1072.3 726.0L1073.9 723.9L1075.6 721.5L1077.3 720.8L1079.0 718.0L1080.6 717.0L1082.3 714.5L1084.0 712.5L1085.7 712.1L1087.3 711.1L1089.0 709.7L1090.7 707.4L1092.4 706.0L1094.1 704.6L1095.7 702.7L1097.4 701.6" fill="none" stroke="#6a9dcf" stroke-width="0.45" stroke-dasharray="1 0.45"/><path d="M1030.4 762.1L1032.0 760.9L1033.7 759.9L1035.4 759.1L1037.1 758.3L1038.7 756.0L1040.4 754.1L1042.1 751.6L1043.8 748.8L1045.4 748.3L1047.1 746.4L1048.8 743.8L1050.5 743.8L1052.1 741.8L1053.8 740.0L1055.5 737.3L1057.2 735.2L1058.9 735.2L1060.5 733.9L1062.2 733.9L1063.9 732.9L1065.6 731.6L1067.2 731.4L1068.9 729.6L1070.6 728.1L1072.3 726.0L1073.9 724.8L1075.6 723.9L1077.3 722.0L1079.0 720.0L1080.6 719.0L1082.3 716.4L1084.0 715.3L1085.7 714.4L1087.3 712.6L1089.0 710.6L1090.7 709.3L1092.4 707.0L1094.1 704.9L1095.7 703.2L1097.4 701.6" fill="none" stroke="#8fb8de" stroke-width="0.45" stroke-dasharray="1 0.45"/><path d="M1030.4 762.1L1032.0 760.8L1033.7 759.3L1035.4 758.4L1037.1 756.7L1038.7 755.8L1040.4 753.7L1042.1 751.5L1043.8 749.7L1045.4 748.4L1047.1 747.3L1048.8 746.8L1050.5 745.0L1052.1 741.4L1053.8 739.5L1055.5 738.8L1057.2 736.4L1058.9 736.0L1060.5 734.2L1062.2 732.0L1063.9 728.7L1065.6 728.1L1067.2 726.5L1068.9 723.6L1070.6 721.8L1072.3 720.6L1073.9 719.3L1075.6 718.7L1077.3 717.8L1079.0 717.2L1080.6 714.5L1082.3 712.2L1084.0 711.6L1085.7 709.4L1087.3 709.4L1089.0 709.0L1090.7 707.3L1092.4 706.0L1094.1 704.6L1095.7 702.6L1097.4 701.6" fill="none" stroke="#b3cfea" stroke-width="0.45" stroke-dasharray="1 0.45"/><path d="M1030.4 762.1L1032.0 754.0L1033.7 749.4L1035.4 745.6L1037.1 742.3L1038.7 738.8L1040.4 735.7L1042.1 733.0L1043.8 730.2L1045.4 727.4L1047.1 725.0L1048.8 722.7L1050.5 720.6L1052.1 718.4L1053.8 716.2L1055.5 715.1L1057.2 714.0L1058.9 712.2L1060.5 711.4L1062.2 710.0L1063.9 708.8L1065.6 707.8L1067.2 706.5L1068.9 705.6L1070.6 705.6L1072.3 705.1L1073.9 704.7L1075.6 704.3L1077.3 704.1L1079.0 704.0L1080.6 703.3L1082.3 703.0L1084.0 703.0L1085.7 703.0L1087.3 702.8L1089.0 702.8L1090.7 702.4L1092.4 702.4L1094.1 702.3L1095.7 702.1L1097.4 701.6" fill="none" stroke="#f4ba72" stroke-width="0.6"/><line x1="1061.2" x2="1064.6" y1="738.18" y2="738.18" stroke="#f4ba72" stroke-width="0.5"/><text x="1065.76" y="738.98" font-size="2.3" text-anchor="start" fill="#333">F≥3: 0.699 [0.67, 0.73]</text><line x1="1061.2" x2="1064.6" y1="742.01" y2="742.01" stroke="#1f3a6e" stroke-width="0.5"/><text x="1065.76" y="742.81" font-size="2.3" text-anchor="start" fill="#333">≤45 vs ≥65: 0.810 [0.77, 0.85]</text><line x1="1061.2" x2="1064.6" y1="745.84" y2="745.84" stroke="#2a5590" stroke-width="0.5"/><text x="1065.76" y="746.64" font-size="2.3" text-anchor="start" fill="#333">≤45 vs 56-64: 0.773 [0.73, 0.82]</text><line x1="1061.2" x2="1064.6" y1="749.67" y2="749.67" stroke="#3f78b5" stroke-width="0.5"/><text x="1065.76" y="750.47" font-size="2.3" text-anchor="start" fill="#333">46-55 vs ≥65: 0.717 [0.67, 0.77]</text><line x1="1061.2" x2="1064.6" y1="753.50" y2="753.50" stroke="#6a9dcf" stroke-width="0.5"/><text x="1065.76" y="754.30" font-size="2.3" text-anchor="start" fill="#333">≤45 vs 46-55: 0.676 [0.62, 0.73]</text><line x1="1061.2" x2="1064.6" y1="757.33" y2="757.33" stroke="#8fb8de" stroke-width="0.5"/><text x="1065.76" y="758.13" font-size="2.3" text-anchor="start" fill="#333">56-64 vs ≥65: 0.601 [0.55, 0.66]</text><line x1="1061.2" x2="1064.6" y1="761.16" y2="761.16" stroke="#b3cfea" stroke-width="0.5"/><text x="1065.76" y="761.96" font-size="2.3" text-anchor="start" fill="#333">46-55 vs 56-64: 0.603 [0.55, 0.66]</text><path d="M1112.7 701.55H1182.0M1113.69 700.6V763.1M1112.7 709.12H1182.0M1122.11 700.6V763.1M1112.7 716.69H1182.0M1130.52 700.6V763.1M1112.7 724.25H1182.0M1138.94 700.6V763.1M1112.7 731.82H1182.0M1147.35 700.6V763.1M1112.7 739.39H1182.0M1155.77 700.6V763.1M1112.7 746.95H1182.0M1164.18 700.6V763.1M1112.7 754.52H1182.0M1172.60 700.6V763.1M1112.7 762.08H1182.0M1181.01 700.6V763.1" stroke="#ececec" stroke-width="0.3" fill="none"/><line x1="1113.7" y1="762.1" x2="1181.0" y2="701.6" stroke="#d6d6d6" stroke-width="0.4"/><text x="1113.69" y="766.88" font-size="2.2" text-anchor="middle" fill="#555">0.00</text><text x="1111.49" y="762.88" font-size="2.2" text-anchor="end" fill="#555">0.00</text><text x="1130.52" y="766.88" font-size="2.2" text-anchor="middle" fill="#555">0.25</text><text x="1111.49" y="747.75" font-size="2.2" text-anchor="end" fill="#555">0.25</text><text x="1147.35" y="766.88" font-size="2.2" text-anchor="middle" fill="#555">0.50</text><text x="1111.49" y="732.62" font-size="2.2" text-anchor="end" fill="#555">0.50</text><text x="1164.18" y="766.88" font-size="2.2" text-anchor="middle" fill="#555">0.75</text><text x="1111.49" y="717.49" font-size="2.2" text-anchor="end" fill="#555">0.75</text><text x="1181.01" y="766.88" font-size="2.2" text-anchor="middle" fill="#555">1.00</text><text x="1111.49" y="702.35" font-size="2.2" text-anchor="end" fill="#555">1.00</text><text x="1147.35" y="770.48" font-size="2.5" text-anchor="middle" fill="#333">1 - specificity</text><text x="1105.09" y="731.82" font-size="2.5" text-anchor="middle" fill="#333" transform="rotate(-90 1105.09 731.82)">sensitivity</text><text x="1103.09" y="696.55" font-size="3.0" text-anchor="start" font-weight="bold" fill="#111">F</text><text x="1110.29" y="696.55" font-size="2.8" text-anchor="start" font-weight="bold" fill="#222">ALT</text><path d="M1113.7 762.1L1115.4 758.4L1117.1 755.5L1118.7 752.3L1120.4 749.9L1122.1 748.3L1123.8 744.9L1125.5 741.8L1127.2 741.2L1128.8 739.7L1130.5 737.4L1132.2 734.3L1133.9 732.8L1135.6 730.2L1137.3 729.5L1138.9 726.9L1140.6 725.9L1142.3 724.8L1144.0 722.1L1145.7 719.4L1147.4 717.2L1149.0 716.2L1150.7 715.6L1152.4 713.9L1154.1 712.6L1155.8 710.7L1157.4 709.1L1159.1 709.1L1160.8 709.1L1162.5 708.0L1164.2 708.0L1165.9 707.9L1167.5 707.9L1169.2 706.3L1170.9 704.1L1172.6 702.5L1174.3 702.5L1176.0 702.3L1177.6 702.1L1179.3 701.6L1181.0 701.6" fill="none" stroke="#1f3a6e" stroke-width="0.45" stroke-dasharray="1 0.45"/><path d="M1113.7 762.1L1115.4 758.0L1117.1 756.0L1118.7 753.3L1120.4 751.8L1122.1 750.5L1123.8 748.6L1125.5 745.5L1127.2 741.9L1128.8 741.3L1130.5 739.8L1132.2 739.2L1133.9 736.6L1135.6 734.4L1137.3 732.8L1138.9 731.4L1140.6 728.2L1142.3 725.3L1144.0 724.9L1145.7 723.7L1147.4 721.7L1149.0 719.3L1150.7 716.4L1152.4 716.2L1154.1 714.6L1155.8 713.6L1157.4 711.7L1159.1 711.7L1160.8 711.7L1162.5 711.7L1164.2 708.9L1165.9 708.7L1167.5 707.5L1169.2 707.4L1170.9 706.5L1172.6 706.3L1174.3 704.7L1176.0 704.3L1177.6 703.0L1179.3 702.4L1181.0 701.6" fill="none" stroke="#2a5590" stroke-width="0.45" stroke-dasharray="1 0.45"/><path d="M1113.7 762.1L1115.4 759.2L1117.1 757.2L1118.7 755.6L1120.4 754.0L1122.1 750.6L1123.8 748.9L1125.5 747.7L1127.2 746.2L1128.8 743.7L1130.5 739.9L1132.2 739.0L1133.9 735.8L1135.6 734.3L1137.3 732.9L1138.9 730.2L1140.6 729.2L1142.3 729.2L1144.0 727.1L1145.7 724.7L1147.4 722.7L1149.0 722.2L1150.7 719.0L1152.4 716.6L1154.1 714.1L1155.8 714.0L1157.4 712.2L1159.1 710.9L1160.8 710.9L1162.5 710.9L1164.2 710.9L1165.9 710.9L1167.5 710.4L1169.2 708.8L1170.9 706.5L1172.6 705.8L1174.3 704.6L1176.0 704.4L1177.6 703.7L1179.3 702.1L1181.0 701.6" fill="none" stroke="#3f78b5" stroke-width="0.45" stroke-dasharray="1 0.45"/><path d="M1113.7 762.1L1115.4 759.4L1117.1 756.9L1118.7 754.6L1120.4 753.1L1122.1 750.6L1123.8 748.2L1125.5 746.1L1127.2 743.4L1128.8 743.4L1130.5 740.7L1132.2 739.8L1133.9 737.7L1135.6 737.3L1137.3 734.3L1138.9 734.3L1140.6 732.7L1142.3 732.0L1144.0 730.5L1145.7 729.1L1147.4 726.6L1149.0 723.8L1150.7 723.1L1152.4 721.1L1154.1 720.4L1155.8 719.7L1157.4 716.6L1159.1 716.1L1160.8 716.0L1162.5 714.8L1164.2 712.3L1165.9 711.8L1167.5 709.5L1169.2 708.2L1170.9 706.7L1172.6 706.5L1174.3 706.0L1176.0 705.3L1177.6 704.0L1179.3 702.8L1181.0 701.6" fill="none" stroke="#6a9dcf" stroke-width="0.45" stroke-dasharray="1 0.45"/><path d="M1113.7 762.1L1115.4 760.1L1117.1 758.5L1118.7 756.5L1120.4 753.7L1122.1 752.8L1123.8 750.1L1125.5 749.0L1127.2 746.6L1128.8 746.3L1130.5 743.0L1132.2 741.8L1133.9 738.8L1135.6 738.6L1137.3 737.4L1138.9 735.1L1140.6 734.9L1142.3 733.9L1144.0 731.3L1145.7 728.1L1147.4 727.6L1149.0 727.3L1150.7 726.0L1152.4 722.4L1154.1 722.4L1155.8 720.4L1157.4 719.4L1159.1 717.3L1160.8 716.9L1162.5 714.9L1164.2 712.3L1165.9 710.3L1167.5 709.2L1169.2 708.4L1170.9 707.3L1172.6 707.2L1174.3 705.2L1176.0 703.9L1177.6 703.1L1179.3 702.1L1181.0 701.6" fill="none" stroke="#8fb8de" stroke-width="0.45" stroke-dasharray="1 0.45"/><path d="M1113.7 762.1L1115.4 760.7L1117.1 758.8L1118.7 757.0L1120.4 755.3L1122.1 754.7L1123.8 752.5L1125.5 750.8L1127.2 748.8L1128.8 746.9L1130.5 744.0L1132.2 743.9L1133.9 742.4L1135.6 739.1L1137.3 737.2L1138.9 736.8L1140.6 734.6L1142.3 731.7L1144.0 731.3L1145.7 728.9L1147.4 728.9L1149.0 726.3L1150.7 725.4L1152.4 725.2L1154.1 722.5L1155.8 720.9L1157.4 718.3L1159.1 716.5L1160.8 715.0L1162.5 714.4L1164.2 712.1L1165.9 712.1L1167.5 710.6L1169.2 709.1L1170.9 708.9L1172.6 707.0L1174.3 706.0L1176.0 704.9L1177.6 703.2L1179.3 702.6L1181.0 701.6" fill="none" stroke="#b3cfea" stroke-width="0.45" stroke-dasharray="1 0.45"/><path d="M1113.7 762.1L1115.4 755.7L1117.1 751.7L1118.7 748.1L1120.4 744.9L1122.1 742.1L1123.8 739.0L1125.5 736.0L1127.2 733.3L1128.8 731.0L1130.5 728.4L1132.2 726.1L1133.9 724.8L1135.6 723.2L1137.3 721.9L1138.9 720.7L1140.6 719.0L1142.3 716.7L1144.0 714.8L1145.7 714.1L1147.4 713.2L1149.0 712.1L1150.7 710.3L1152.4 709.1L1154.1 707.7L1155.8 707.7L1157.4 706.2L1159.1 706.1L1160.8 705.3L1162.5 704.3L1164.2 703.7L1165.9 703.7L1167.5 703.2L1169.2 703.0L1170.9 703.0L1172.6 702.9L1174.3 702.7L1176.0 702.2L1177.6 702.1L1179.3 701.8L1181.0 701.6" fill="none" stroke="#f4ba72" stroke-width="0.6"/><line x1="1144.5" x2="1147.9" y1="738.18" y2="738.18" stroke="#f4ba72" stroke-width="0.5"/><text x="1149.09" y="738.98" font-size="2.3" text-anchor="start" fill="#333">F≥3: 0.699 [0.67, 0.73]</text><line x1="1144.5" x2="1147.9" y1="742.01" y2="742.01" stroke="#1f3a6e" stroke-width="0.5"/><text x="1149.09" y="742.81" font-size="2.3" text-anchor="start" fill="#333">≤45 vs ≥65: 0.810 [0.77, 0.85]</text><line x1="1144.5" x2="1147.9" y1="745.84" y2="745.84" stroke="#2a5590" stroke-width="0.5"/><text x="1149.09" y="746.64" font-size="2.3" text-anchor="start" fill="#333">≤45 vs 56-64: 0.773 [0.73, 0.82]</text><line x1="1144.5" x2="1147.9" y1="749.67" y2="749.67" stroke="#3f78b5" stroke-width="0.5"/><text x="1149.09" y="750.47" font-size="2.3" text-anchor="start" fill="#333">46-55 vs ≥65: 0.717 [0.67, 0.77]</text><line x1="1144.5" x2="1147.9" y1="753.50" y2="753.50" stroke="#6a9dcf" stroke-width="0.5"/><text x="1149.09" y="754.30" font-size="2.3" text-anchor="start" fill="#333">≤45 vs 46-55: 0.676 [0.62, 0.73]</text><line x1="1144.5" x2="1147.9" y1="757.33" y2="757.33" stroke="#8fb8de" stroke-width="0.5"/><text x="1149.09" y="758.13" font-size="2.3" text-anchor="start" fill="#333">56-64 vs ≥65: 0.601 [0.55, 0.66]</text><line x1="1144.5" x2="1147.9" y1="761.16" y2="761.16" stroke="#b3cfea" stroke-width="0.5"/><text x="1149.09" y="761.96" font-size="2.3" text-anchor="start" fill="#333">46-55 vs 56-64: 0.603 [0.55, 0.66]</text></svg>
<div style="position:absolute;white-space:nowrap;left:1201.30px;top:542.00px;font-size:7.8px;line-height:9.36px;color:#3c3c3c;letter-spacing:0.130px;word-spacing:1.019px;-webkit-text-stroke:0.13px #3c3c3c">AUROC values for the classification of patients</div>
<div style="position:absolute;white-space:nowrap;left:1194.80px;top:542.00px;font-size:7.8px;line-height:9.36px;color:#3c3c3c">•</div>
<div style="position:absolute;white-space:nowrap;left:1201.30px;top:552.00px;font-size:7.8px;line-height:9.36px;color:#3c3c3c;letter-spacing:0.130px;word-spacing:1.308px;-webkit-text-stroke:0.13px #3c3c3c">in age subgroups should be ~0.5 for NITs that</div>
<div style="position:absolute;white-space:nowrap;left:1201.30px;top:562.00px;font-size:7.8px;line-height:9.36px;color:#3c3c3c;letter-spacing:0.130px;word-spacing:0.364px;-webkit-text-stroke:0.13px #3c3c3c">are not impacted by age.</div>
<div style="position:absolute;white-space:nowrap;left:1201.30px;top:572.00px;font-size:7.8px;line-height:9.36px;color:#3c3c3c;letter-spacing:0.130px;word-spacing:1.792px;-webkit-text-stroke:0.13px #3c3c3c">FIB-4, NFS and ELF<span class="tm">™</span> AUROC values for the</div>
<div style="position:absolute;white-space:nowrap;left:1194.80px;top:572.00px;font-size:7.8px;line-height:9.36px;color:#3c3c3c">•</div>
<div style="position:absolute;white-space:nowrap;left:1201.30px;top:581.00px;font-size:7.8px;line-height:9.36px;color:#3c3c3c;letter-spacing:0.130px;word-spacing:0.705px;-webkit-text-stroke:0.13px #3c3c3c">classification of patients in age subgroups were</div>
<div style="position:absolute;white-space:nowrap;left:1201.30px;top:591.00px;font-size:7.8px;line-height:9.36px;color:#3c3c3c;letter-spacing:0.130px;word-spacing:2.343px;-webkit-text-stroke:0.13px #3c3c3c">significantly higher than 0.5, independently of</div>
<div style="position:absolute;white-space:nowrap;left:1201.30px;top:601.00px;font-size:7.8px;line-height:9.36px;color:#3c3c3c;letter-spacing:0.130px;word-spacing:0.729px;-webkit-text-stroke:0.13px #3c3c3c">paired age groups considered.</div>
<div style="position:absolute;white-space:nowrap;left:1201.30px;top:611.00px;font-size:7.8px;line-height:9.36px;color:#3c3c3c;letter-spacing:0.130px;word-spacing:-1.047px;-webkit-text-stroke:0.13px #3c3c3c">FIB-4 and NFS exhibited higher AUROC values for</div>
<div style="position:absolute;white-space:nowrap;left:1194.80px;top:611.00px;font-size:7.8px;line-height:9.36px;color:#3c3c3c">•</div>
<div style="position:absolute;white-space:nowrap;left:1201.30px;top:621.00px;font-size:7.8px;line-height:9.36px;color:#3c3c3c;letter-spacing:0.130px;word-spacing:0.609px;-webkit-text-stroke:0.13px #3c3c3c">the classification of patients into age subgroups</div>
<div style="position:absolute;white-space:nowrap;left:1201.30px;top:630.00px;font-size:7.8px;line-height:9.36px;color:#3c3c3c;letter-spacing:0.130px;word-spacing:1.265px;-webkit-text-stroke:0.13px #3c3c3c">characterized by a gap ≥20 years (≤45 vs ≥65</div>
<div style="position:absolute;white-space:nowrap;left:1201.30px;top:640.00px;font-size:7.8px;line-height:9.36px;color:#3c3c3c;letter-spacing:0.130px;word-spacing:-1.570px;-webkit-text-stroke:0.13px #3c3c3c">years, ≤45 vs 56–64 years, and 46–55 vs ≥65 years)</div>
<div style="position:absolute;white-space:nowrap;left:1201.30px;top:650.00px;font-size:7.8px;line-height:9.36px;color:#3c3c3c;letter-spacing:0.130px;word-spacing:0.953px;-webkit-text-stroke:0.13px #3c3c3c">than for the detection of advanced fibrosis.</div>
<div style="position:absolute;white-space:nowrap;left:1201.30px;top:660.00px;font-size:7.8px;line-height:9.36px;color:#3c3c3c;letter-spacing:0.130px;word-spacing:2.571px;-webkit-text-stroke:0.13px #3c3c3c">ELF<span class="tm">™</span> exhibited higher AUROC value for the</div>
<div style="position:absolute;white-space:nowrap;left:1194.80px;top:660.00px;font-size:7.8px;line-height:9.36px;color:#3c3c3c">•</div>
<div style="position:absolute;white-space:nowrap;left:1201.30px;top:669.00px;font-size:7.8px;line-height:9.36px;color:#3c3c3c;letter-spacing:0.130px;word-spacing:1.302px;-webkit-text-stroke:0.13px #3c3c3c">classification of patients into ≤45 vs ≥65 years</div>
<div style="position:absolute;white-space:nowrap;left:1201.30px;top:679.00px;font-size:7.8px;line-height:9.36px;color:#3c3c3c;letter-spacing:0.130px;word-spacing:1.944px;-webkit-text-stroke:0.13px #3c3c3c">subgroups than for the detection of advanced</div>
<div style="position:absolute;white-space:nowrap;left:1201.30px;top:689.00px;font-size:7.8px;line-height:9.36px;color:#3c3c3c;letter-spacing:0.266px;word-spacing:0.000px;-webkit-text-stroke:0.13px #3c3c3c">fibrosis.</div>
<div style="position:absolute;white-space:nowrap;left:1201.30px;top:699.00px;font-size:7.8px;line-height:9.36px;color:#3c3c3c;letter-spacing:0.130px;word-spacing:3.387px;-webkit-text-stroke:0.13px #3c3c3c">NIS2+<span class="tm">™</span> and APRI were the only NITs that</div>
<div style="position:absolute;white-space:nowrap;left:1194.80px;top:699.00px;font-size:7.8px;line-height:9.36px;color:#3c3c3c">•</div>
<div style="position:absolute;white-space:nowrap;left:1201.30px;top:709.00px;font-size:7.8px;line-height:9.36px;color:#3c3c3c;letter-spacing:0.130px;word-spacing:-0.255px;-webkit-text-stroke:0.13px #3c3c3c">exhibited AUROC values that did not significantly</div>
<div style="position:absolute;white-space:nowrap;left:1201.30px;top:718.00px;font-size:7.8px;line-height:9.36px;color:#3c3c3c;letter-spacing:0.130px;word-spacing:1.519px;-webkit-text-stroke:0.13px #3c3c3c">differ from 0.5 for the classification of patients</div>
<div style="position:absolute;white-space:nowrap;left:1201.30px;top:728.00px;font-size:7.8px;line-height:9.36px;color:#3c3c3c;letter-spacing:0.130px;word-spacing:0.772px;-webkit-text-stroke:0.13px #3c3c3c">into age subgroups.</div>
<div style="position:absolute;white-space:nowrap;left:1201.30px;top:738.00px;font-size:7.8px;line-height:9.36px;color:#3c3c3c;letter-spacing:0.130px;word-spacing:1.614px;-webkit-text-stroke:0.13px #3c3c3c">NIS2+<span class="tm">™</span> achieved an AUROC of 0.822 for the</div>
<div style="position:absolute;white-space:nowrap;left:1194.80px;top:738.00px;font-size:7.8px;line-height:9.36px;color:#3c3c3c">•</div>
<div style="position:absolute;white-space:nowrap;left:1201.30px;top:748.00px;font-size:7.8px;line-height:9.36px;color:#3c3c3c;letter-spacing:0.130px;word-spacing:0.905px;-webkit-text-stroke:0.13px #3c3c3c">detection of at-risk NASH.</div>
<!-- part_bottom -->
<div style="position:absolute;white-space:nowrap;left:837.50px;top:814.00px;font-size:13.0px;line-height:15.6px;font-weight:bold;color:#195678;letter-spacing:2.142px;transform:scaleX(0.9);transform-origin:0 50%">CONCLUSION</div>
<div style="position:absolute;white-space:nowrap;left:411.00px;top:839.00px;font-size:9.1px;line-height:10.92px;color:#2f2f2f;letter-spacing:0.312px;word-spacing:0.312px;-webkit-text-stroke:0.25px #2f2f2f">FIB-4, NFS and ELF<span class="tm">™</span> were significantly impacted by age, therefore consideration should be given to adopting age-adapted cutoffs.</div>
<div style="position:absolute;white-space:nowrap;left:404.60px;top:839.00px;font-size:9.1px;line-height:10.92px;color:#2f2f2f">•</div>
<div style="position:absolute;white-space:nowrap;left:411.00px;top:852.00px;font-size:9.1px;line-height:10.92px;color:#2f2f2f;letter-spacing:0.367px;word-spacing:0.367px;-webkit-text-stroke:0.25px #2f2f2f">NIS2+<span class="tm">™</span> was not impacted by age and was sensitive to both fibrosis and NAS, further confirming that this NIT constitutes an efficient and robust test for the detection of the composite endpoint of at-risk NASH.</div>
<div style="position:absolute;white-space:nowrap;left:404.60px;top:852.00px;font-size:9.1px;line-height:10.92px;color:#2f2f2f">•</div>
<div style="position:absolute;white-space:nowrap;left:411.00px;top:864.00px;font-size:9.1px;line-height:10.92px;color:#2f2f2f;letter-spacing:0.380px;word-spacing:0.380px;-webkit-text-stroke:0.25px #2f2f2f">The demonstrated efficiency and robustness of NIS2+<span class="tm">™</span> highlights its potential to improve management of patients and interpretation of results, facilitating the large-scale use of the test for the detection of at-risk NASH.</div>
<div style="position:absolute;white-space:nowrap;left:404.60px;top:864.00px;font-size:9.1px;line-height:10.92px;color:#2f2f2f">•</div>
<div style="position:absolute;white-space:nowrap;left:905.60px;top:899.00px;font-size:9.4px;line-height:11.28px;color:#2f2f2f;letter-spacing:0.185px;word-spacing:0.185px;-webkit-text-stroke:0.25px #2f2f2f">Abstract #SAT-417 presented at EASL International Liver Congress<span class="tm">™</span> 2023 | 21 - 24 June, 2023 | Vienna, Austria</div>
</body>
</html>
